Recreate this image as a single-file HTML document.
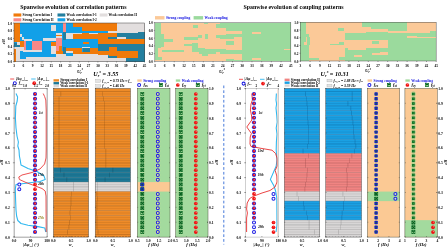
<!DOCTYPE html>
<html lang="en">
<head>
<meta charset="utf-8">
<title>Spanwise evolution of correlation and coupling patterns</title>
<style>
html,body{margin:0;padding:0;background:#fff;}
body{width:448px;height:252px;overflow:hidden;font-family:"Liberation Serif",serif;}
svg{display:block;}
</style>
</head>
<body>
<svg width="448" height="252" viewBox="0 0 448 252">
<rect x="0" y="0" width="448" height="252" fill="#ffffff"/>
<text x="73.30" y="9.20" font-size="5.9" text-anchor="middle" font-weight="bold" font-style="normal" fill="#000" font-family="Liberation Serif, serif" >Spanwise evolution of  correlation patterns</text>
<text x="293.50" y="9.20" font-size="5.9" text-anchor="middle" font-weight="bold" font-style="normal" fill="#000" font-family="Liberation Serif, serif" >Spanwise evolution of coupling patterns</text>
<rect x="13.50" y="13.45" width="7.80" height="3.10" fill="#F07A0A" />
<text x="22.50" y="16.00" font-size="3.4" text-anchor="start" font-weight="bold" font-style="normal" fill="#000" font-family="Liberation Serif, serif" >Strong Correlation I</text>
<rect x="13.50" y="18.25" width="7.80" height="3.10" fill="#F98888" />
<text x="22.50" y="20.80" font-size="3.4" text-anchor="start" font-weight="bold" font-style="normal" fill="#000" font-family="Liberation Serif, serif" >Strong Correlation II</text>
<rect x="57.50" y="13.45" width="7.80" height="3.10" fill="#237F9F" />
<text x="66.50" y="16.00" font-size="3.4" text-anchor="start" font-weight="bold" font-style="normal" fill="#000" font-family="Liberation Serif, serif" >Weak correlation I-1</text>
<rect x="57.50" y="18.25" width="7.80" height="3.10" fill="#12A0E8" />
<text x="66.50" y="20.80" font-size="3.4" text-anchor="start" font-weight="bold" font-style="normal" fill="#000" font-family="Liberation Serif, serif" >Weak correlation I-2</text>
<rect x="99.70" y="13.45" width="7.80" height="3.10" fill="#E2DEDE" />
<text x="108.40" y="16.00" font-size="3.4" text-anchor="start" font-weight="bold" font-style="normal" fill="#000" font-family="Liberation Serif, serif" >Weak correlation II</text>
<g shape-rendering="crispEdges">
<rect x="14.00" y="23.00" width="130.50" height="38.50" fill="#12A0E8" />
<rect x="14.00" y="23.00" width="5.70" height="19.40" fill="#F07A0A" />
<rect x="14.00" y="43.00" width="2.80" height="3.70" fill="#237F9F" />
<rect x="14.00" y="46.70" width="2.80" height="2.70" fill="#E2DEDE" />
<rect x="14.00" y="49.40" width="2.00" height="12.10" fill="#F07A0A" />
<rect x="16.00" y="49.40" width="0.80" height="12.10" fill="#E2DEDE" />
<rect x="16.80" y="42.40" width="2.90" height="2.20" fill="#E2DEDE" />
<rect x="16.80" y="44.60" width="2.90" height="2.40" fill="#237F9F" />
<rect x="16.80" y="47.00" width="2.90" height="14.50" fill="#E2DEDE" />
<rect x="19.70" y="40.80" width="4.10" height="6.50" fill="#F07A0A" />
<rect x="19.70" y="47.30" width="4.10" height="3.20" fill="#E2DEDE" />
<rect x="19.70" y="59.00" width="6.30" height="2.50" fill="#E2DEDE" />
<rect x="20.40" y="34.40" width="1.80" height="2.60" fill="#E2DEDE" />
<rect x="22.20" y="37.00" width="2.10" height="2.80" fill="#E2DEDE" />
<rect x="24.30" y="39.20" width="7.50" height="2.20" fill="#E2DEDE" />
<rect x="23.80" y="41.40" width="2.20" height="8.60" fill="#F98888" />
<rect x="31.80" y="41.40" width="10.20" height="8.60" fill="#F98888" />
<rect x="22.50" y="50.00" width="19.50" height="2.00" fill="#E2DEDE" />
<rect x="26.00" y="57.30" width="24.60" height="4.20" fill="#E2DEDE" />
<rect x="42.50" y="38.10" width="13.50" height="2.70" fill="#E2DEDE" />
<rect x="50.60" y="25.30" width="5.40" height="5.90" fill="#E2DEDE" />
<rect x="50.60" y="42.40" width="5.40" height="3.80" fill="#F07A0A" />
<rect x="50.60" y="46.20" width="5.40" height="7.50" fill="#E2DEDE" />
<rect x="50.60" y="56.80" width="5.40" height="4.70" fill="#E2DEDE" />
<rect x="56.00" y="33.30" width="6.00" height="4.80" fill="#E2DEDE" />
<rect x="56.00" y="35.00" width="6.00" height="1.00" fill="#F07A0A" />
<rect x="56.00" y="38.40" width="6.00" height="12.60" fill="#F98888" />
<rect x="59.30" y="46.00" width="2.70" height="5.00" fill="#F07A0A" />
<rect x="56.00" y="51.00" width="6.60" height="2.70" fill="#F07A0A" />
<rect x="56.00" y="53.70" width="6.60" height="7.80" fill="#E2DEDE" />
<rect x="62.80" y="23.00" width="2.80" height="8.70" fill="#F98888" />
<rect x="62.80" y="31.70" width="2.80" height="7.80" fill="#237F9F" />
<rect x="62.80" y="46.70" width="2.80" height="7.00" fill="#237F9F" />
<rect x="72.80" y="23.00" width="44.20" height="4.40" fill="#F07A0A" />
<rect x="82.40" y="27.40" width="34.60" height="3.20" fill="#F07A0A" />
<rect x="65.80" y="32.60" width="16.60" height="1.80" fill="#E2DEDE" />
<rect x="89.40" y="32.60" width="8.60" height="1.40" fill="#E2DEDE" />
<rect x="107.60" y="31.50" width="9.40" height="1.50" fill="#E2DEDE" />
<rect x="65.80" y="34.40" width="7.00" height="4.30" fill="#E2DEDE" />
<rect x="72.80" y="34.40" width="44.20" height="4.30" fill="#F07A0A" />
<rect x="82.40" y="32.60" width="7.00" height="1.80" fill="#F07A0A" />
<rect x="98.00" y="32.80" width="19.00" height="3.70" fill="#F07A0A" />
<rect x="108.00" y="36.50" width="8.80" height="2.20" fill="#237F9F" />
<rect x="83.00" y="41.90" width="6.40" height="2.50" fill="#F07A0A" />
<rect x="98.00" y="39.00" width="46.50" height="4.60" fill="#F07A0A" />
<rect x="65.80" y="47.80" width="16.60" height="5.30" fill="#F07A0A" />
<rect x="66.30" y="51.00" width="6.50" height="2.30" fill="#E2DEDE" />
<rect x="82.40" y="46.70" width="7.60" height="1.50" fill="#E2DEDE" />
<rect x="83.00" y="48.40" width="7.00" height="3.60" fill="#237F9F" />
<rect x="90.00" y="48.30" width="8.00" height="3.70" fill="#F07A0A" />
<rect x="73.00" y="52.00" width="65.00" height="1.70" fill="#F07A0A" />
<rect x="62.60" y="55.60" width="35.40" height="5.90" fill="#E2DEDE" />
<rect x="72.80" y="53.70" width="25.20" height="7.80" fill="#E2DEDE" />
<rect x="62.60" y="53.70" width="3.20" height="7.80" fill="#E2DEDE" />
<rect x="117.00" y="23.00" width="27.50" height="8.90" fill="#E2DEDE" />
<rect x="108.00" y="31.20" width="30.00" height="2.10" fill="#E2DEDE" />
<rect x="117.00" y="33.30" width="21.00" height="3.20" fill="#237F9F" />
<rect x="138.00" y="32.00" width="6.50" height="7.30" fill="#237F9F" />
<rect x="117.00" y="36.50" width="9.40" height="2.20" fill="#E2DEDE" />
<rect x="126.40" y="36.50" width="11.60" height="2.20" fill="#237F9F" />
<rect x="98.00" y="43.60" width="40.00" height="1.80" fill="#237F9F" />
<rect x="138.00" y="43.60" width="6.50" height="17.90" fill="#237F9F" />
<rect x="98.00" y="45.40" width="40.00" height="5.60" fill="#237F9F" />
<rect x="108.70" y="46.70" width="8.10" height="9.10" fill="#F07A0A" />
<rect x="98.00" y="51.00" width="40.00" height="4.30" fill="#F07A0A" />
<rect x="116.80" y="55.30" width="21.20" height="2.70" fill="#F07A0A" />
<rect x="108.00" y="55.80" width="8.80" height="2.20" fill="#237F9F" />
<rect x="98.00" y="55.30" width="10.00" height="6.20" fill="#E2DEDE" />
<rect x="108.00" y="58.00" width="18.40" height="3.50" fill="#E2DEDE" />
<rect x="126.40" y="58.00" width="18.10" height="3.50" fill="#237F9F" />
</g>
<rect x="14.00" y="23.00" width="130.50" height="38.50" fill="none" stroke="#444" stroke-width="0.5"/>
<line x1="14.00" y1="61.50" x2="14.00" y2="62.50" stroke="#222" stroke-width="0.4" />
<text x="14.00" y="67.20" font-size="3.5" text-anchor="middle" font-weight="bold" font-style="normal" fill="#000" font-family="Liberation Serif, serif" >3</text>
<line x1="23.32" y1="61.50" x2="23.32" y2="62.50" stroke="#222" stroke-width="0.4" />
<text x="23.32" y="67.20" font-size="3.5" text-anchor="middle" font-weight="bold" font-style="normal" fill="#000" font-family="Liberation Serif, serif" >6</text>
<line x1="32.64" y1="61.50" x2="32.64" y2="62.50" stroke="#222" stroke-width="0.4" />
<text x="32.64" y="67.20" font-size="3.5" text-anchor="middle" font-weight="bold" font-style="normal" fill="#000" font-family="Liberation Serif, serif" >9</text>
<line x1="41.96" y1="61.50" x2="41.96" y2="62.50" stroke="#222" stroke-width="0.4" />
<text x="41.96" y="67.20" font-size="3.5" text-anchor="middle" font-weight="bold" font-style="normal" fill="#000" font-family="Liberation Serif, serif" >12</text>
<line x1="51.29" y1="61.50" x2="51.29" y2="62.50" stroke="#222" stroke-width="0.4" />
<text x="51.29" y="67.20" font-size="3.5" text-anchor="middle" font-weight="bold" font-style="normal" fill="#000" font-family="Liberation Serif, serif" >15</text>
<line x1="60.61" y1="61.50" x2="60.61" y2="62.50" stroke="#222" stroke-width="0.4" />
<text x="60.61" y="67.20" font-size="3.5" text-anchor="middle" font-weight="bold" font-style="normal" fill="#000" font-family="Liberation Serif, serif" >18</text>
<line x1="69.93" y1="61.50" x2="69.93" y2="62.50" stroke="#222" stroke-width="0.4" />
<text x="69.93" y="67.20" font-size="3.5" text-anchor="middle" font-weight="bold" font-style="normal" fill="#000" font-family="Liberation Serif, serif" >21</text>
<line x1="79.25" y1="61.50" x2="79.25" y2="62.50" stroke="#222" stroke-width="0.4" />
<text x="79.25" y="67.20" font-size="3.5" text-anchor="middle" font-weight="bold" font-style="normal" fill="#000" font-family="Liberation Serif, serif" >24</text>
<line x1="88.57" y1="61.50" x2="88.57" y2="62.50" stroke="#222" stroke-width="0.4" />
<text x="88.57" y="67.20" font-size="3.5" text-anchor="middle" font-weight="bold" font-style="normal" fill="#000" font-family="Liberation Serif, serif" >27</text>
<line x1="97.89" y1="61.50" x2="97.89" y2="62.50" stroke="#222" stroke-width="0.4" />
<text x="97.89" y="67.20" font-size="3.5" text-anchor="middle" font-weight="bold" font-style="normal" fill="#000" font-family="Liberation Serif, serif" >30</text>
<line x1="107.21" y1="61.50" x2="107.21" y2="62.50" stroke="#222" stroke-width="0.4" />
<text x="107.21" y="67.20" font-size="3.5" text-anchor="middle" font-weight="bold" font-style="normal" fill="#000" font-family="Liberation Serif, serif" >33</text>
<line x1="116.54" y1="61.50" x2="116.54" y2="62.50" stroke="#222" stroke-width="0.4" />
<text x="116.54" y="67.20" font-size="3.5" text-anchor="middle" font-weight="bold" font-style="normal" fill="#000" font-family="Liberation Serif, serif" >36</text>
<line x1="125.86" y1="61.50" x2="125.86" y2="62.50" stroke="#222" stroke-width="0.4" />
<text x="125.86" y="67.20" font-size="3.5" text-anchor="middle" font-weight="bold" font-style="normal" fill="#000" font-family="Liberation Serif, serif" >39</text>
<line x1="135.18" y1="61.50" x2="135.18" y2="62.50" stroke="#222" stroke-width="0.4" />
<text x="135.18" y="67.20" font-size="3.5" text-anchor="middle" font-weight="bold" font-style="normal" fill="#000" font-family="Liberation Serif, serif" >42</text>
<line x1="144.50" y1="61.50" x2="144.50" y2="62.50" stroke="#222" stroke-width="0.4" />
<text x="144.50" y="67.20" font-size="3.5" text-anchor="middle" font-weight="bold" font-style="normal" fill="#000" font-family="Liberation Serif, serif" >45</text>
<line x1="13.00" y1="61.50" x2="14.00" y2="61.50" stroke="#222" stroke-width="0.4" />
<text x="12.10" y="63.00" font-size="3.4" text-anchor="end" font-weight="bold" font-style="normal" fill="#000" font-family="Liberation Serif, serif" >0.0</text>
<line x1="13.00" y1="53.80" x2="14.00" y2="53.80" stroke="#222" stroke-width="0.4" />
<text x="12.10" y="55.30" font-size="3.4" text-anchor="end" font-weight="bold" font-style="normal" fill="#000" font-family="Liberation Serif, serif" >0.2</text>
<line x1="13.00" y1="46.10" x2="14.00" y2="46.10" stroke="#222" stroke-width="0.4" />
<text x="12.10" y="47.60" font-size="3.4" text-anchor="end" font-weight="bold" font-style="normal" fill="#000" font-family="Liberation Serif, serif" >0.4</text>
<line x1="13.00" y1="38.40" x2="14.00" y2="38.40" stroke="#222" stroke-width="0.4" />
<text x="12.10" y="39.90" font-size="3.4" text-anchor="end" font-weight="bold" font-style="normal" fill="#000" font-family="Liberation Serif, serif" >0.6</text>
<line x1="13.00" y1="30.70" x2="14.00" y2="30.70" stroke="#222" stroke-width="0.4" />
<text x="12.10" y="32.20" font-size="3.4" text-anchor="end" font-weight="bold" font-style="normal" fill="#000" font-family="Liberation Serif, serif" >0.8</text>
<line x1="13.00" y1="23.00" x2="14.00" y2="23.00" stroke="#222" stroke-width="0.4" />
<text x="12.10" y="24.50" font-size="3.4" text-anchor="end" font-weight="bold" font-style="normal" fill="#000" font-family="Liberation Serif, serif" >1.0</text>
<text x="80.00" y="72.90" font-size="4.9" text-anchor="middle" font-weight="bold" font-style="italic" fill="#000" font-family="Liberation Serif, serif" >U<tspan font-size="3.0" dy="1.0">r</tspan><tspan font-size="3.0" dy="-2.7">*</tspan></text>
<text transform="translate(4.60,41.75) rotate(-90)" font-size="3.6" font-weight="bold" font-style="italic" text-anchor="middle" font-family="Liberation Serif, serif">z/H</text>
<rect x="155.00" y="16.10" width="9.50" height="3.40" fill="#FBC998" />
<text x="166.00" y="19.00" font-size="3.6" text-anchor="start" font-weight="bold" font-style="normal" fill="#1010E0" font-family="Liberation Serif, serif" >Strong coupling</text>
<rect x="193.60" y="16.10" width="9.50" height="3.40" fill="#9BDA9D" />
<text x="204.60" y="19.00" font-size="3.6" text-anchor="start" font-weight="bold" font-style="normal" fill="#1010E0" font-family="Liberation Serif, serif" >Weak coupling</text>
<g shape-rendering="crispEdges">
<rect x="154.80" y="22.70" width="136.00" height="38.60" fill="#FBC998" />
<rect x="154.60" y="22.70" width="6.20" height="24.80" fill="#9BDA9D" />
<rect x="160.80" y="33.90" width="3.20" height="12.80" fill="#9BDA9D" />
<rect x="164.00" y="38.70" width="9.00" height="3.20" fill="#9BDA9D" />
<rect x="154.60" y="47.50" width="3.80" height="12.10" fill="#9BDA9D" />
<rect x="158.40" y="57.20" width="3.20" height="2.40" fill="#9BDA9D" />
<rect x="161.60" y="50.00" width="22.40" height="2.40" fill="#9BDA9D" />
<rect x="184.00" y="37.00" width="14.00" height="3.30" fill="#9BDA9D" />
<rect x="198.00" y="34.70" width="4.00" height="3.20" fill="#9BDA9D" />
<rect x="205.00" y="33.90" width="3.30" height="4.80" fill="#9BDA9D" />
<rect x="184.00" y="43.50" width="8.00" height="2.50" fill="#9BDA9D" />
<rect x="192.00" y="42.70" width="6.00" height="9.70" fill="#9BDA9D" />
<rect x="193.00" y="25.00" width="5.00" height="2.80" fill="#9BDA9D" />
<rect x="203.50" y="22.70" width="4.80" height="1.50" fill="#9BDA9D" />
<rect x="216.30" y="24.20" width="9.70" height="4.00" fill="#9BDA9D" />
<rect x="216.30" y="35.10" width="9.70" height="3.30" fill="#9BDA9D" />
<rect x="198.00" y="48.30" width="7.00" height="3.20" fill="#9BDA9D" />
<rect x="205.00" y="49.10" width="21.00" height="3.30" fill="#9BDA9D" />
<rect x="198.60" y="52.40" width="17.70" height="1.80" fill="#9BDA9D" />
<rect x="201.80" y="54.00" width="6.50" height="2.40" fill="#9BDA9D" />
<rect x="225.60" y="22.70" width="65.20" height="38.60" fill="#9BDA9D" />
<rect x="220.00" y="22.70" width="5.60" height="5.50" fill="#9BDA9D" />
<rect x="220.00" y="34.70" width="5.60" height="4.00" fill="#9BDA9D" />
<rect x="220.00" y="50.00" width="5.60" height="4.00" fill="#9BDA9D" />
<rect x="225.60" y="31.00" width="16.10" height="2.90" fill="#FBC998" />
<rect x="252.00" y="31.50" width="9.00" height="2.00" fill="#FBC998" />
<rect x="233.70" y="37.00" width="8.00" height="13.00" fill="#FBC998" />
<rect x="225.60" y="38.70" width="8.10" height="2.30" fill="#FBC998" />
<rect x="225.60" y="45.00" width="8.10" height="5.00" fill="#FBC998" />
<rect x="225.60" y="38.70" width="0.60" height="11.30" fill="#FBC998" />
<rect x="225.60" y="54.00" width="16.10" height="5.60" fill="#FBC998" />
<rect x="252.00" y="58.00" width="9.00" height="2.40" fill="#FBC998" />
<rect x="283.50" y="48.70" width="7.30" height="1.60" fill="#FBC998" />
<rect x="225.60" y="59.00" width="8.10" height="1.00" fill="#9BDA9D" />
</g>
<rect x="154.80" y="22.70" width="136.00" height="38.60" fill="none" stroke="#555" stroke-width="0.5"/>
<line x1="154.80" y1="61.30" x2="154.80" y2="62.30" stroke="#222" stroke-width="0.4" />
<text x="154.80" y="67.00" font-size="3.5" text-anchor="middle" font-weight="bold" font-style="normal" fill="#000" font-family="Liberation Serif, serif" >3</text>
<line x1="164.51" y1="61.30" x2="164.51" y2="62.30" stroke="#222" stroke-width="0.4" />
<text x="164.51" y="67.00" font-size="3.5" text-anchor="middle" font-weight="bold" font-style="normal" fill="#000" font-family="Liberation Serif, serif" >6</text>
<line x1="174.23" y1="61.30" x2="174.23" y2="62.30" stroke="#222" stroke-width="0.4" />
<text x="174.23" y="67.00" font-size="3.5" text-anchor="middle" font-weight="bold" font-style="normal" fill="#000" font-family="Liberation Serif, serif" >9</text>
<line x1="183.94" y1="61.30" x2="183.94" y2="62.30" stroke="#222" stroke-width="0.4" />
<text x="183.94" y="67.00" font-size="3.5" text-anchor="middle" font-weight="bold" font-style="normal" fill="#000" font-family="Liberation Serif, serif" >12</text>
<line x1="193.66" y1="61.30" x2="193.66" y2="62.30" stroke="#222" stroke-width="0.4" />
<text x="193.66" y="67.00" font-size="3.5" text-anchor="middle" font-weight="bold" font-style="normal" fill="#000" font-family="Liberation Serif, serif" >15</text>
<line x1="203.37" y1="61.30" x2="203.37" y2="62.30" stroke="#222" stroke-width="0.4" />
<text x="203.37" y="67.00" font-size="3.5" text-anchor="middle" font-weight="bold" font-style="normal" fill="#000" font-family="Liberation Serif, serif" >18</text>
<line x1="213.09" y1="61.30" x2="213.09" y2="62.30" stroke="#222" stroke-width="0.4" />
<text x="213.09" y="67.00" font-size="3.5" text-anchor="middle" font-weight="bold" font-style="normal" fill="#000" font-family="Liberation Serif, serif" >21</text>
<line x1="222.80" y1="61.30" x2="222.80" y2="62.30" stroke="#222" stroke-width="0.4" />
<text x="222.80" y="67.00" font-size="3.5" text-anchor="middle" font-weight="bold" font-style="normal" fill="#000" font-family="Liberation Serif, serif" >24</text>
<line x1="232.51" y1="61.30" x2="232.51" y2="62.30" stroke="#222" stroke-width="0.4" />
<text x="232.51" y="67.00" font-size="3.5" text-anchor="middle" font-weight="bold" font-style="normal" fill="#000" font-family="Liberation Serif, serif" >27</text>
<line x1="242.23" y1="61.30" x2="242.23" y2="62.30" stroke="#222" stroke-width="0.4" />
<text x="242.23" y="67.00" font-size="3.5" text-anchor="middle" font-weight="bold" font-style="normal" fill="#000" font-family="Liberation Serif, serif" >30</text>
<line x1="251.94" y1="61.30" x2="251.94" y2="62.30" stroke="#222" stroke-width="0.4" />
<text x="251.94" y="67.00" font-size="3.5" text-anchor="middle" font-weight="bold" font-style="normal" fill="#000" font-family="Liberation Serif, serif" >33</text>
<line x1="261.66" y1="61.30" x2="261.66" y2="62.30" stroke="#222" stroke-width="0.4" />
<text x="261.66" y="67.00" font-size="3.5" text-anchor="middle" font-weight="bold" font-style="normal" fill="#000" font-family="Liberation Serif, serif" >36</text>
<line x1="271.37" y1="61.30" x2="271.37" y2="62.30" stroke="#222" stroke-width="0.4" />
<text x="271.37" y="67.00" font-size="3.5" text-anchor="middle" font-weight="bold" font-style="normal" fill="#000" font-family="Liberation Serif, serif" >39</text>
<line x1="281.09" y1="61.30" x2="281.09" y2="62.30" stroke="#222" stroke-width="0.4" />
<text x="281.09" y="67.00" font-size="3.5" text-anchor="middle" font-weight="bold" font-style="normal" fill="#000" font-family="Liberation Serif, serif" >42</text>
<line x1="290.80" y1="61.30" x2="290.80" y2="62.30" stroke="#222" stroke-width="0.4" />
<text x="290.80" y="67.00" font-size="3.5" text-anchor="middle" font-weight="bold" font-style="normal" fill="#000" font-family="Liberation Serif, serif" >45</text>
<line x1="153.80" y1="61.30" x2="154.80" y2="61.30" stroke="#222" stroke-width="0.4" />
<text x="152.90" y="62.80" font-size="3.4" text-anchor="end" font-weight="bold" font-style="normal" fill="#000" font-family="Liberation Serif, serif" >0.0</text>
<line x1="153.80" y1="53.58" x2="154.80" y2="53.58" stroke="#222" stroke-width="0.4" />
<text x="152.90" y="55.08" font-size="3.4" text-anchor="end" font-weight="bold" font-style="normal" fill="#000" font-family="Liberation Serif, serif" >0.2</text>
<line x1="153.80" y1="45.86" x2="154.80" y2="45.86" stroke="#222" stroke-width="0.4" />
<text x="152.90" y="47.36" font-size="3.4" text-anchor="end" font-weight="bold" font-style="normal" fill="#000" font-family="Liberation Serif, serif" >0.4</text>
<line x1="153.80" y1="38.14" x2="154.80" y2="38.14" stroke="#222" stroke-width="0.4" />
<text x="152.90" y="39.64" font-size="3.4" text-anchor="end" font-weight="bold" font-style="normal" fill="#000" font-family="Liberation Serif, serif" >0.6</text>
<line x1="153.80" y1="30.42" x2="154.80" y2="30.42" stroke="#222" stroke-width="0.4" />
<text x="152.90" y="31.92" font-size="3.4" text-anchor="end" font-weight="bold" font-style="normal" fill="#000" font-family="Liberation Serif, serif" >0.8</text>
<line x1="153.80" y1="22.70" x2="154.80" y2="22.70" stroke="#222" stroke-width="0.4" />
<text x="152.90" y="24.20" font-size="3.4" text-anchor="end" font-weight="bold" font-style="normal" fill="#000" font-family="Liberation Serif, serif" >1.0</text>
<text x="222.00" y="72.70" font-size="4.9" text-anchor="middle" font-weight="bold" font-style="italic" fill="#000" font-family="Liberation Serif, serif" >U<tspan font-size="3.0" dy="1.0">r</tspan><tspan font-size="3.0" dy="-2.7">*</tspan></text>
<g shape-rendering="crispEdges">
<rect x="300.40" y="22.30" width="135.80" height="38.70" fill="#FBC998" />
<rect x="300.40" y="22.30" width="5.60" height="38.70" fill="#9BDA9D" />
<rect x="306.00" y="34.00" width="2.50" height="3.00" fill="#9BDA9D" />
<rect x="306.80" y="37.00" width="3.20" height="8.00" fill="#9BDA9D" />
<rect x="306.00" y="45.00" width="3.30" height="16.00" fill="#9BDA9D" />
<rect x="309.30" y="57.70" width="9.70" height="2.10" fill="#9BDA9D" />
<rect x="338.20" y="28.20" width="5.60" height="2.40" fill="#9BDA9D" />
<rect x="330.00" y="43.50" width="13.80" height="1.90" fill="#9BDA9D" />
<rect x="339.00" y="42.00" width="4.80" height="3.40" fill="#9BDA9D" />
<rect x="344.60" y="33.00" width="25.40" height="6.50" fill="#9BDA9D" />
<rect x="362.00" y="22.30" width="8.00" height="4.30" fill="#9BDA9D" />
<rect x="344.60" y="47.50" width="3.40" height="2.10" fill="#9BDA9D" />
<rect x="344.60" y="49.60" width="25.40" height="11.40" fill="#9BDA9D" />
<rect x="339.00" y="56.70" width="5.60" height="3.10" fill="#9BDA9D" />
<rect x="366.00" y="22.30" width="70.20" height="38.70" fill="#9BDA9D" />
<rect x="354.00" y="55.00" width="7.50" height="2.20" fill="#FBC998" />
<rect x="366.00" y="26.60" width="4.80" height="4.90" fill="#FBC998" />
<rect x="366.00" y="29.40" width="21.70" height="2.60" fill="#FBC998" />
<rect x="387.70" y="31.00" width="10.30" height="2.00" fill="#FBC998" />
<rect x="398.00" y="31.40" width="9.00" height="1.20" fill="#FBC998" />
<rect x="407.00" y="22.30" width="29.20" height="10.70" fill="#FBC998" />
<rect x="407.00" y="35.80" width="10.40" height="2.10" fill="#FBC998" />
<rect x="417.40" y="36.60" width="18.80" height="1.80" fill="#FBC998" />
<rect x="366.00" y="39.50" width="21.70" height="8.00" fill="#FBC998" />
<rect x="371.60" y="53.20" width="16.10" height="1.60" fill="#FBC998" />
<rect x="379.60" y="52.40" width="8.10" height="2.40" fill="#FBC998" />
<rect x="430.00" y="31.40" width="6.20" height="1.60" fill="#9BDA9D" />
<rect x="371.60" y="41.00" width="7.30" height="3.30" fill="#9BDA9D" />
<rect x="303.50" y="42.00" width="2.50" height="2.80" fill="#FBC998" />
</g>
<rect x="300.40" y="22.30" width="135.80" height="38.70" fill="none" stroke="#555" stroke-width="0.5"/>
<line x1="300.40" y1="61.00" x2="300.40" y2="62.00" stroke="#222" stroke-width="0.4" />
<text x="300.40" y="66.70" font-size="3.5" text-anchor="middle" font-weight="bold" font-style="normal" fill="#000" font-family="Liberation Serif, serif" >3</text>
<line x1="310.10" y1="61.00" x2="310.10" y2="62.00" stroke="#222" stroke-width="0.4" />
<text x="310.10" y="66.70" font-size="3.5" text-anchor="middle" font-weight="bold" font-style="normal" fill="#000" font-family="Liberation Serif, serif" >6</text>
<line x1="319.80" y1="61.00" x2="319.80" y2="62.00" stroke="#222" stroke-width="0.4" />
<text x="319.80" y="66.70" font-size="3.5" text-anchor="middle" font-weight="bold" font-style="normal" fill="#000" font-family="Liberation Serif, serif" >9</text>
<line x1="329.50" y1="61.00" x2="329.50" y2="62.00" stroke="#222" stroke-width="0.4" />
<text x="329.50" y="66.70" font-size="3.5" text-anchor="middle" font-weight="bold" font-style="normal" fill="#000" font-family="Liberation Serif, serif" >12</text>
<line x1="339.20" y1="61.00" x2="339.20" y2="62.00" stroke="#222" stroke-width="0.4" />
<text x="339.20" y="66.70" font-size="3.5" text-anchor="middle" font-weight="bold" font-style="normal" fill="#000" font-family="Liberation Serif, serif" >15</text>
<line x1="348.90" y1="61.00" x2="348.90" y2="62.00" stroke="#222" stroke-width="0.4" />
<text x="348.90" y="66.70" font-size="3.5" text-anchor="middle" font-weight="bold" font-style="normal" fill="#000" font-family="Liberation Serif, serif" >18</text>
<line x1="358.60" y1="61.00" x2="358.60" y2="62.00" stroke="#222" stroke-width="0.4" />
<text x="358.60" y="66.70" font-size="3.5" text-anchor="middle" font-weight="bold" font-style="normal" fill="#000" font-family="Liberation Serif, serif" >21</text>
<line x1="368.30" y1="61.00" x2="368.30" y2="62.00" stroke="#222" stroke-width="0.4" />
<text x="368.30" y="66.70" font-size="3.5" text-anchor="middle" font-weight="bold" font-style="normal" fill="#000" font-family="Liberation Serif, serif" >24</text>
<line x1="378.00" y1="61.00" x2="378.00" y2="62.00" stroke="#222" stroke-width="0.4" />
<text x="378.00" y="66.70" font-size="3.5" text-anchor="middle" font-weight="bold" font-style="normal" fill="#000" font-family="Liberation Serif, serif" >27</text>
<line x1="387.70" y1="61.00" x2="387.70" y2="62.00" stroke="#222" stroke-width="0.4" />
<text x="387.70" y="66.70" font-size="3.5" text-anchor="middle" font-weight="bold" font-style="normal" fill="#000" font-family="Liberation Serif, serif" >30</text>
<line x1="397.40" y1="61.00" x2="397.40" y2="62.00" stroke="#222" stroke-width="0.4" />
<text x="397.40" y="66.70" font-size="3.5" text-anchor="middle" font-weight="bold" font-style="normal" fill="#000" font-family="Liberation Serif, serif" >33</text>
<line x1="407.10" y1="61.00" x2="407.10" y2="62.00" stroke="#222" stroke-width="0.4" />
<text x="407.10" y="66.70" font-size="3.5" text-anchor="middle" font-weight="bold" font-style="normal" fill="#000" font-family="Liberation Serif, serif" >36</text>
<line x1="416.80" y1="61.00" x2="416.80" y2="62.00" stroke="#222" stroke-width="0.4" />
<text x="416.80" y="66.70" font-size="3.5" text-anchor="middle" font-weight="bold" font-style="normal" fill="#000" font-family="Liberation Serif, serif" >39</text>
<line x1="426.50" y1="61.00" x2="426.50" y2="62.00" stroke="#222" stroke-width="0.4" />
<text x="426.50" y="66.70" font-size="3.5" text-anchor="middle" font-weight="bold" font-style="normal" fill="#000" font-family="Liberation Serif, serif" >42</text>
<line x1="436.20" y1="61.00" x2="436.20" y2="62.00" stroke="#222" stroke-width="0.4" />
<text x="436.20" y="66.70" font-size="3.5" text-anchor="middle" font-weight="bold" font-style="normal" fill="#000" font-family="Liberation Serif, serif" >45</text>
<line x1="299.40" y1="61.00" x2="300.40" y2="61.00" stroke="#222" stroke-width="0.4" />
<text x="298.50" y="62.50" font-size="3.4" text-anchor="end" font-weight="bold" font-style="normal" fill="#000" font-family="Liberation Serif, serif" >0.0</text>
<line x1="299.40" y1="53.26" x2="300.40" y2="53.26" stroke="#222" stroke-width="0.4" />
<text x="298.50" y="54.76" font-size="3.4" text-anchor="end" font-weight="bold" font-style="normal" fill="#000" font-family="Liberation Serif, serif" >0.2</text>
<line x1="299.40" y1="45.52" x2="300.40" y2="45.52" stroke="#222" stroke-width="0.4" />
<text x="298.50" y="47.02" font-size="3.4" text-anchor="end" font-weight="bold" font-style="normal" fill="#000" font-family="Liberation Serif, serif" >0.4</text>
<line x1="299.40" y1="37.78" x2="300.40" y2="37.78" stroke="#222" stroke-width="0.4" />
<text x="298.50" y="39.28" font-size="3.4" text-anchor="end" font-weight="bold" font-style="normal" fill="#000" font-family="Liberation Serif, serif" >0.6</text>
<line x1="299.40" y1="30.04" x2="300.40" y2="30.04" stroke="#222" stroke-width="0.4" />
<text x="298.50" y="31.54" font-size="3.4" text-anchor="end" font-weight="bold" font-style="normal" fill="#000" font-family="Liberation Serif, serif" >0.8</text>
<line x1="299.40" y1="22.30" x2="300.40" y2="22.30" stroke="#222" stroke-width="0.4" />
<text x="298.50" y="23.80" font-size="3.4" text-anchor="end" font-weight="bold" font-style="normal" fill="#000" font-family="Liberation Serif, serif" >1.0</text>
<text x="368.00" y="72.40" font-size="4.9" text-anchor="middle" font-weight="bold" font-style="italic" fill="#000" font-family="Liberation Serif, serif" >U<tspan font-size="3.0" dy="1.0">r</tspan><tspan font-size="3.0" dy="-2.7">*</tspan></text>
<text x="93.20" y="75.80" font-size="6.15" text-anchor="start" font-weight="bold" font-style="italic" fill="#000" font-family="Liberation Serif, serif" >U<tspan font-size="3.8" dy="1.0">r</tspan><tspan font-size="3.8" dy="-2.9">*</tspan><tspan dy="1.9"> = 3.55</tspan></text>
<text x="320.50" y="75.60" font-size="6.15" text-anchor="start" font-weight="bold" font-style="italic" fill="#000" font-family="Liberation Serif, serif" >U<tspan font-size="3.8" dy="1.0">r</tspan><tspan font-size="3.8" dy="-2.9">*</tspan><tspan dy="1.9"> = 10.31</tspan></text>
<rect x="14.10" y="88.40" width="33.00" height="148.70" fill="#fff" />
<line x1="10.20" y1="79.00" x2="14.20" y2="79.00" stroke="#F04040" stroke-width="0.9" />
<text x="15.70" y="80.00" font-size="4.1" text-anchor="start" font-weight="bold" font-style="italic" fill="#000" font-family="Liberation Serif, serif" >|Δφ<tspan font-size="2.8" dy="0.7">xy</tspan><tspan dy="-0.7">|</tspan><tspan font-size="2.8" dy="0.9">f<tspan font-size="2.2">ex</tspan></tspan></text>
<line x1="31.20" y1="79.00" x2="35.70" y2="79.00" stroke="#30B8F0" stroke-width="0.9" />
<text x="37.20" y="80.00" font-size="4.1" text-anchor="start" font-weight="bold" font-style="italic" fill="#000" font-family="Liberation Serif, serif" >|Δφ<tspan font-size="2.8" dy="0.7">xy</tspan><tspan dy="-0.7">|</tspan><tspan font-size="2.8" dy="0.9">f<tspan font-size="2.2">ey</tspan></tspan></text>
<circle cx="14.80" cy="83.20" r="1.5" fill="#fff" stroke="#2020E4" stroke-width="1.05"/>
<text x="18.80" y="84.20" font-size="4.1" text-anchor="start" font-weight="bold" font-style="italic" fill="#000" font-family="Liberation Serif, serif" >f<tspan font-size="2.7" dy="0.8">ex</tspan></text>
<circle cx="34.20" cy="83.20" r="1.85" fill="#F01414"/><circle cx="34.60" cy="82.70" r="0.5" fill="#FF9C90"/>
<text x="38.80" y="84.20" font-size="4.1" text-anchor="start" font-weight="bold" font-style="italic" fill="#000" font-family="Liberation Serif, serif" >f<tspan font-size="2.7" dy="0.8">ey</tspan></text>
<polyline points="16.00,93.50 17.60,97.00 17.20,101.00 15.80,106.00 15.40,118.00 16.00,128.00 17.00,136.00 18.40,142.00 17.80,146.00 19.00,150.00 19.40,156.00 20.20,160.00 21.00,165.00 28.00,168.50 37.00,171.50 44.00,176.00 45.20,179.40 40.00,181.50 28.00,183.00 16.00,184.50 15.30,189.00 15.60,200.00 16.00,210.00 16.60,216.00 17.80,220.50 21.00,223.50 28.00,225.20 38.00,226.60 44.80,228.00 45.80,232.00" fill="none" stroke="#30B8F0" stroke-width="1.1" stroke-linejoin="round"/>
<polyline points="43.20,93.50 44.60,96.50 45.80,100.00 46.20,110.00 46.20,150.00 46.00,158.00 44.60,164.00 40.00,169.00 32.00,172.50 22.00,175.00 18.80,177.00 19.40,179.50 26.00,182.50 34.00,185.50 42.00,188.50 45.20,191.00 46.00,196.00 46.20,232.00" fill="none" stroke="#E83030" stroke-width="0.85" stroke-linejoin="round"/>
<circle cx="35.00" cy="94.00" r="2.05" fill="#2A1FD0"/><circle cx="35.00" cy="94.00" r="1.2" fill="#F01818"/><circle cx="35.35" cy="93.70" r="0.4" fill="#FFB8A8"/>
<circle cx="35.00" cy="98.76" r="2.05" fill="#2A1FD0"/><circle cx="35.00" cy="98.76" r="1.2" fill="#F01818"/><circle cx="35.35" cy="98.46" r="0.4" fill="#FFB8A8"/>
<circle cx="35.00" cy="103.52" r="2.05" fill="#2A1FD0"/><circle cx="35.00" cy="103.52" r="1.2" fill="#F01818"/><circle cx="35.35" cy="103.22" r="0.4" fill="#FFB8A8"/>
<circle cx="35.00" cy="108.28" r="2.05" fill="#2A1FD0"/><circle cx="35.00" cy="108.28" r="1.2" fill="#F01818"/><circle cx="35.35" cy="107.98" r="0.4" fill="#FFB8A8"/>
<circle cx="35.00" cy="113.04" r="2.05" fill="#2A1FD0"/><circle cx="35.00" cy="113.04" r="1.2" fill="#F01818"/><circle cx="35.35" cy="112.74" r="0.4" fill="#FFB8A8"/>
<circle cx="35.00" cy="117.80" r="2.05" fill="#2A1FD0"/><circle cx="35.00" cy="117.80" r="1.2" fill="#F01818"/><circle cx="35.35" cy="117.50" r="0.4" fill="#FFB8A8"/>
<circle cx="35.00" cy="122.56" r="2.05" fill="#2A1FD0"/><circle cx="35.00" cy="122.56" r="1.2" fill="#F01818"/><circle cx="35.35" cy="122.26" r="0.4" fill="#FFB8A8"/>
<circle cx="35.00" cy="127.32" r="2.05" fill="#2A1FD0"/><circle cx="35.00" cy="127.32" r="1.2" fill="#F01818"/><circle cx="35.35" cy="127.02" r="0.4" fill="#FFB8A8"/>
<circle cx="35.00" cy="132.08" r="2.05" fill="#2A1FD0"/><circle cx="35.00" cy="132.08" r="1.2" fill="#F01818"/><circle cx="35.35" cy="131.78" r="0.4" fill="#FFB8A8"/>
<circle cx="35.00" cy="136.84" r="2.05" fill="#2A1FD0"/><circle cx="35.00" cy="136.84" r="1.2" fill="#F01818"/><circle cx="35.35" cy="136.54" r="0.4" fill="#FFB8A8"/>
<circle cx="35.00" cy="141.60" r="2.05" fill="#2A1FD0"/><circle cx="35.00" cy="141.60" r="1.2" fill="#F01818"/><circle cx="35.35" cy="141.30" r="0.4" fill="#FFB8A8"/>
<circle cx="35.00" cy="146.36" r="2.05" fill="#2A1FD0"/><circle cx="35.00" cy="146.36" r="1.2" fill="#F01818"/><circle cx="35.35" cy="146.06" r="0.4" fill="#FFB8A8"/>
<circle cx="35.00" cy="151.12" r="2.05" fill="#2A1FD0"/><circle cx="35.00" cy="151.12" r="1.2" fill="#F01818"/><circle cx="35.35" cy="150.82" r="0.4" fill="#FFB8A8"/>
<circle cx="35.00" cy="155.88" r="2.05" fill="#2A1FD0"/><circle cx="35.00" cy="155.88" r="1.2" fill="#F01818"/><circle cx="35.35" cy="155.58" r="0.4" fill="#FFB8A8"/>
<circle cx="35.00" cy="160.64" r="2.05" fill="#2A1FD0"/><circle cx="35.00" cy="160.64" r="1.2" fill="#F01818"/><circle cx="35.35" cy="160.34" r="0.4" fill="#FFB8A8"/>
<circle cx="35.00" cy="165.40" r="2.05" fill="#2A1FD0"/><circle cx="35.00" cy="165.40" r="1.2" fill="#F01818"/><circle cx="35.35" cy="165.10" r="0.4" fill="#FFB8A8"/>
<circle cx="35.00" cy="170.16" r="2.05" fill="#2A1FD0"/><circle cx="35.00" cy="170.16" r="1.2" fill="#F01818"/><circle cx="35.35" cy="169.86" r="0.4" fill="#FFB8A8"/>
<circle cx="35.00" cy="174.92" r="2.05" fill="#2A1FD0"/><circle cx="35.00" cy="174.92" r="1.2" fill="#F01818"/><circle cx="35.35" cy="174.62" r="0.4" fill="#FFB8A8"/>
<circle cx="35.00" cy="179.68" r="2.05" fill="#2A1FD0"/><circle cx="35.00" cy="179.68" r="1.2" fill="#F01818"/><circle cx="35.35" cy="179.38" r="0.4" fill="#FFB8A8"/>
<circle cx="19.30" cy="184.44" r="1.5" fill="#fff" stroke="#2020E4" stroke-width="1.05"/>
<circle cx="35.00" cy="184.44" r="1.85" fill="#F01414"/><circle cx="35.40" cy="183.94" r="0.5" fill="#FF9C90"/>
<circle cx="19.30" cy="189.20" r="1.5" fill="#fff" stroke="#2020E4" stroke-width="1.05"/>
<circle cx="35.00" cy="189.20" r="1.85" fill="#F01414"/><circle cx="35.40" cy="188.70" r="0.5" fill="#FF9C90"/>
<circle cx="35.00" cy="193.96" r="2.05" fill="#2A1FD0"/><circle cx="35.00" cy="193.96" r="1.2" fill="#F01818"/><circle cx="35.35" cy="193.66" r="0.4" fill="#FFB8A8"/>
<circle cx="35.00" cy="198.72" r="2.05" fill="#2A1FD0"/><circle cx="35.00" cy="198.72" r="1.2" fill="#F01818"/><circle cx="35.35" cy="198.42" r="0.4" fill="#FFB8A8"/>
<circle cx="35.00" cy="203.48" r="2.05" fill="#2A1FD0"/><circle cx="35.00" cy="203.48" r="1.2" fill="#F01818"/><circle cx="35.35" cy="203.18" r="0.4" fill="#FFB8A8"/>
<circle cx="35.00" cy="208.24" r="2.05" fill="#2A1FD0"/><circle cx="35.00" cy="208.24" r="1.2" fill="#F01818"/><circle cx="35.35" cy="207.94" r="0.4" fill="#FFB8A8"/>
<circle cx="35.00" cy="213.00" r="2.05" fill="#2A1FD0"/><circle cx="35.00" cy="213.00" r="1.2" fill="#F01818"/><circle cx="35.35" cy="212.70" r="0.4" fill="#FFB8A8"/>
<circle cx="35.00" cy="217.76" r="2.05" fill="#2A1FD0"/><circle cx="35.00" cy="217.76" r="1.2" fill="#F01818"/><circle cx="35.35" cy="217.46" r="0.4" fill="#FFB8A8"/>
<circle cx="35.00" cy="222.52" r="2.05" fill="#2A1FD0"/><circle cx="35.00" cy="222.52" r="1.2" fill="#F01818"/><circle cx="35.35" cy="222.22" r="0.4" fill="#FFB8A8"/>
<circle cx="35.00" cy="227.28" r="2.05" fill="#2A1FD0"/><circle cx="35.00" cy="227.28" r="1.2" fill="#F01818"/><circle cx="35.35" cy="226.98" r="0.4" fill="#FFB8A8"/>
<circle cx="35.00" cy="232.04" r="2.05" fill="#2A1FD0"/><circle cx="35.00" cy="232.04" r="1.2" fill="#F01818"/><circle cx="35.35" cy="231.74" r="0.4" fill="#FFB8A8"/>
<text x="40.80" y="113.60" font-size="3.1" text-anchor="middle" font-weight="bold" font-style="italic" fill="#000" font-family="Liberation Serif, serif" >1st</text>
<text x="40.80" y="175.50" font-size="3.1" text-anchor="middle" font-weight="bold" font-style="italic" fill="#000" font-family="Liberation Serif, serif" >17th</text>
<text x="41.00" y="185.00" font-size="3.1" text-anchor="middle" font-weight="bold" font-style="italic" fill="#000" font-family="Liberation Serif, serif" >20th</text>
<text x="40.80" y="218.70" font-size="3.1" text-anchor="middle" font-weight="bold" font-style="italic" fill="#8A7A10" font-family="Liberation Serif, serif" >27th</text>
<rect x="14.10" y="88.40" width="33.00" height="148.70" fill="none" stroke="#555" stroke-width="0.55"/>
<line x1="12.90" y1="237.10" x2="14.70" y2="237.10" stroke="#222" stroke-width="0.4" />
<text x="9.70" y="238.65" font-size="3.6" text-anchor="end" font-weight="bold" font-style="normal" fill="#000" font-family="Liberation Serif, serif" >0.0</text>
<line x1="12.90" y1="222.23" x2="14.70" y2="222.23" stroke="#222" stroke-width="0.4" />
<text x="9.70" y="223.78" font-size="3.6" text-anchor="end" font-weight="bold" font-style="normal" fill="#000" font-family="Liberation Serif, serif" >0.1</text>
<line x1="12.90" y1="207.36" x2="14.70" y2="207.36" stroke="#222" stroke-width="0.4" />
<text x="9.70" y="208.91" font-size="3.6" text-anchor="end" font-weight="bold" font-style="normal" fill="#000" font-family="Liberation Serif, serif" >0.2</text>
<line x1="12.90" y1="192.49" x2="14.70" y2="192.49" stroke="#222" stroke-width="0.4" />
<text x="9.70" y="194.04" font-size="3.6" text-anchor="end" font-weight="bold" font-style="normal" fill="#000" font-family="Liberation Serif, serif" >0.3</text>
<line x1="12.90" y1="177.62" x2="14.70" y2="177.62" stroke="#222" stroke-width="0.4" />
<text x="9.70" y="179.17" font-size="3.6" text-anchor="end" font-weight="bold" font-style="normal" fill="#000" font-family="Liberation Serif, serif" >0.4</text>
<line x1="12.90" y1="162.75" x2="14.70" y2="162.75" stroke="#222" stroke-width="0.4" />
<text x="9.70" y="164.30" font-size="3.6" text-anchor="end" font-weight="bold" font-style="normal" fill="#000" font-family="Liberation Serif, serif" >0.5</text>
<line x1="12.90" y1="147.88" x2="14.70" y2="147.88" stroke="#222" stroke-width="0.4" />
<text x="9.70" y="149.43" font-size="3.6" text-anchor="end" font-weight="bold" font-style="normal" fill="#000" font-family="Liberation Serif, serif" >0.6</text>
<line x1="12.90" y1="133.01" x2="14.70" y2="133.01" stroke="#222" stroke-width="0.4" />
<text x="9.70" y="134.56" font-size="3.6" text-anchor="end" font-weight="bold" font-style="normal" fill="#000" font-family="Liberation Serif, serif" >0.7</text>
<line x1="12.90" y1="118.14" x2="14.70" y2="118.14" stroke="#222" stroke-width="0.4" />
<text x="9.70" y="119.69" font-size="3.6" text-anchor="end" font-weight="bold" font-style="normal" fill="#000" font-family="Liberation Serif, serif" >0.8</text>
<line x1="12.90" y1="103.27" x2="14.70" y2="103.27" stroke="#222" stroke-width="0.4" />
<text x="9.70" y="104.82" font-size="3.6" text-anchor="end" font-weight="bold" font-style="normal" fill="#000" font-family="Liberation Serif, serif" >0.9</text>
<line x1="12.90" y1="88.40" x2="14.70" y2="88.40" stroke="#222" stroke-width="0.4" />
<text x="9.70" y="89.95" font-size="3.6" text-anchor="end" font-weight="bold" font-style="normal" fill="#000" font-family="Liberation Serif, serif" >1.0</text>
<text transform="translate(3.20,162.2) rotate(-90)" font-size="3.6" font-weight="bold" font-style="italic" text-anchor="middle" font-family="Liberation Serif, serif">z/H</text>
<line x1="14.10" y1="88.40" x2="14.10" y2="89.40" stroke="#222" stroke-width="0.4" />
<text x="14.10" y="87.10" font-size="3.3" text-anchor="middle" font-weight="bold" font-style="normal" fill="#000" font-family="Liberation Serif, serif" >0.5</text>
<line x1="25.10" y1="88.40" x2="25.10" y2="89.40" stroke="#222" stroke-width="0.4" />
<text x="25.10" y="87.10" font-size="3.3" text-anchor="middle" font-weight="bold" font-style="normal" fill="#000" font-family="Liberation Serif, serif" >1.0</text>
<line x1="36.10" y1="88.40" x2="36.10" y2="89.40" stroke="#222" stroke-width="0.4" />
<text x="36.10" y="87.10" font-size="3.3" text-anchor="middle" font-weight="bold" font-style="normal" fill="#000" font-family="Liberation Serif, serif" >1.5</text>
<line x1="47.10" y1="88.40" x2="47.10" y2="89.40" stroke="#222" stroke-width="0.4" />
<text x="47.10" y="87.10" font-size="3.3" text-anchor="middle" font-weight="bold" font-style="normal" fill="#000" font-family="Liberation Serif, serif" >2.0</text>
<line x1="14.10" y1="236.10" x2="14.10" y2="237.10" stroke="#222" stroke-width="0.4" />
<text x="14.10" y="242.00" font-size="3.7" text-anchor="middle" font-weight="bold" font-style="normal" fill="#000" font-family="Liberation Serif, serif" >0.0</text>
<line x1="30.60" y1="236.10" x2="30.60" y2="237.10" stroke="#222" stroke-width="0.4" />
<text x="30.60" y="242.00" font-size="3.7" text-anchor="middle" font-weight="bold" font-style="normal" fill="#000" font-family="Liberation Serif, serif" >90</text>
<line x1="47.10" y1="236.10" x2="47.10" y2="237.10" stroke="#222" stroke-width="0.4" />
<text x="47.10" y="242.00" font-size="3.7" text-anchor="middle" font-weight="bold" font-style="normal" fill="#000" font-family="Liberation Serif, serif" >180</text>
<text x="31.00" y="246.30" font-size="4.6" text-anchor="middle" font-weight="bold" font-style="italic" fill="#000" font-family="Liberation Serif, serif" >|Δφ<tspan font-size="2.6" dy="0.7">xy</tspan><tspan dy="-0.7">| (°)</tspan></text>
<rect x="53.40" y="88.40" width="35.20" height="8.03" fill="#EE8B28" />
<rect x="53.40" y="96.38" width="35.20" height="4.81" fill="#EE8B28" />
<rect x="53.40" y="101.14" width="35.20" height="4.81" fill="#EE8B28" />
<rect x="53.40" y="105.90" width="35.20" height="4.81" fill="#EE8B28" />
<rect x="53.40" y="110.66" width="35.20" height="4.81" fill="#EE8B28" />
<rect x="53.40" y="115.42" width="35.20" height="4.81" fill="#EE8B28" />
<rect x="53.40" y="120.18" width="35.20" height="4.81" fill="#EE8B28" />
<rect x="53.40" y="124.94" width="35.20" height="4.81" fill="#EE8B28" />
<rect x="53.40" y="129.70" width="35.20" height="4.81" fill="#EE8B28" />
<rect x="53.40" y="134.46" width="35.20" height="4.81" fill="#EE8B28" />
<rect x="53.40" y="139.22" width="35.20" height="4.81" fill="#EE8B28" />
<rect x="53.40" y="143.98" width="35.20" height="4.81" fill="#EE8B28" />
<rect x="53.40" y="148.74" width="35.20" height="4.81" fill="#EE8B28" />
<rect x="53.40" y="153.50" width="35.20" height="4.81" fill="#EE8B28" />
<rect x="53.40" y="158.26" width="35.20" height="4.81" fill="#EE8B28" />
<rect x="53.40" y="163.02" width="35.20" height="4.81" fill="#EE8B28" />
<rect x="53.40" y="167.78" width="35.20" height="4.81" fill="#1D7896" />
<rect x="53.40" y="172.54" width="35.20" height="4.81" fill="#1D7896" />
<rect x="53.40" y="177.30" width="35.20" height="4.81" fill="#1D7896" />
<rect x="53.40" y="182.06" width="35.20" height="4.81" fill="#D8D6D6" />
<rect x="53.40" y="186.82" width="35.20" height="4.81" fill="#D8D6D6" />
<rect x="53.40" y="191.58" width="35.20" height="4.81" fill="#EE8B28" />
<rect x="53.40" y="196.34" width="35.20" height="4.81" fill="#EE8B28" />
<rect x="53.40" y="201.10" width="35.20" height="4.81" fill="#EE8B28" />
<rect x="53.40" y="205.86" width="35.20" height="4.81" fill="#EE8B28" />
<rect x="53.40" y="210.62" width="35.20" height="4.81" fill="#EE8B28" />
<rect x="53.40" y="215.38" width="35.20" height="4.81" fill="#EE8B28" />
<rect x="53.40" y="220.14" width="35.20" height="4.81" fill="#EE8B28" />
<rect x="53.40" y="224.90" width="35.20" height="4.81" fill="#EE8B28" />
<rect x="53.40" y="229.66" width="35.20" height="7.49" fill="#EE8B28" />
<line x1="53.40" y1="91.62" x2="88.60" y2="91.62" stroke="#7A4410" stroke-width="0.45" opacity="0.75"/>
<line x1="53.40" y1="94.00" x2="88.60" y2="94.00" stroke="#7A4410" stroke-width="0.4" opacity="0.4"/>
<line x1="53.40" y1="96.38" x2="88.60" y2="96.38" stroke="#7A4410" stroke-width="0.45" opacity="0.75"/>
<line x1="53.40" y1="98.76" x2="88.60" y2="98.76" stroke="#7A4410" stroke-width="0.4" opacity="0.4"/>
<line x1="53.40" y1="101.14" x2="88.60" y2="101.14" stroke="#7A4410" stroke-width="0.45" opacity="0.75"/>
<line x1="53.40" y1="103.52" x2="88.60" y2="103.52" stroke="#7A4410" stroke-width="0.4" opacity="0.4"/>
<line x1="53.40" y1="105.90" x2="88.60" y2="105.90" stroke="#7A4410" stroke-width="0.45" opacity="0.75"/>
<line x1="53.40" y1="108.28" x2="88.60" y2="108.28" stroke="#7A4410" stroke-width="0.4" opacity="0.4"/>
<line x1="53.40" y1="110.66" x2="88.60" y2="110.66" stroke="#7A4410" stroke-width="0.45" opacity="0.75"/>
<line x1="53.40" y1="113.04" x2="88.60" y2="113.04" stroke="#7A4410" stroke-width="0.4" opacity="0.4"/>
<line x1="53.40" y1="115.42" x2="88.60" y2="115.42" stroke="#7A4410" stroke-width="0.45" opacity="0.75"/>
<line x1="53.40" y1="117.80" x2="88.60" y2="117.80" stroke="#7A4410" stroke-width="0.4" opacity="0.4"/>
<line x1="53.40" y1="120.18" x2="88.60" y2="120.18" stroke="#7A4410" stroke-width="0.45" opacity="0.75"/>
<line x1="53.40" y1="122.56" x2="88.60" y2="122.56" stroke="#7A4410" stroke-width="0.4" opacity="0.4"/>
<line x1="53.40" y1="124.94" x2="88.60" y2="124.94" stroke="#7A4410" stroke-width="0.45" opacity="0.75"/>
<line x1="53.40" y1="127.32" x2="88.60" y2="127.32" stroke="#7A4410" stroke-width="0.4" opacity="0.4"/>
<line x1="53.40" y1="129.70" x2="88.60" y2="129.70" stroke="#7A4410" stroke-width="0.45" opacity="0.75"/>
<line x1="53.40" y1="132.08" x2="88.60" y2="132.08" stroke="#7A4410" stroke-width="0.4" opacity="0.4"/>
<line x1="53.40" y1="134.46" x2="88.60" y2="134.46" stroke="#7A4410" stroke-width="0.45" opacity="0.75"/>
<line x1="53.40" y1="136.84" x2="88.60" y2="136.84" stroke="#7A4410" stroke-width="0.4" opacity="0.4"/>
<line x1="53.40" y1="139.22" x2="88.60" y2="139.22" stroke="#7A4410" stroke-width="0.45" opacity="0.75"/>
<line x1="53.40" y1="141.60" x2="88.60" y2="141.60" stroke="#7A4410" stroke-width="0.4" opacity="0.4"/>
<line x1="53.40" y1="143.98" x2="88.60" y2="143.98" stroke="#7A4410" stroke-width="0.45" opacity="0.75"/>
<line x1="53.40" y1="146.36" x2="88.60" y2="146.36" stroke="#7A4410" stroke-width="0.4" opacity="0.4"/>
<line x1="53.40" y1="148.74" x2="88.60" y2="148.74" stroke="#7A4410" stroke-width="0.45" opacity="0.75"/>
<line x1="53.40" y1="151.12" x2="88.60" y2="151.12" stroke="#7A4410" stroke-width="0.4" opacity="0.4"/>
<line x1="53.40" y1="153.50" x2="88.60" y2="153.50" stroke="#7A4410" stroke-width="0.45" opacity="0.75"/>
<line x1="53.40" y1="155.88" x2="88.60" y2="155.88" stroke="#7A4410" stroke-width="0.4" opacity="0.4"/>
<line x1="53.40" y1="158.26" x2="88.60" y2="158.26" stroke="#7A4410" stroke-width="0.45" opacity="0.75"/>
<line x1="53.40" y1="160.64" x2="88.60" y2="160.64" stroke="#7A4410" stroke-width="0.4" opacity="0.4"/>
<line x1="53.40" y1="163.02" x2="88.60" y2="163.02" stroke="#7A4410" stroke-width="0.45" opacity="0.75"/>
<line x1="53.40" y1="165.40" x2="88.60" y2="165.40" stroke="#7A4410" stroke-width="0.4" opacity="0.4"/>
<line x1="53.40" y1="167.78" x2="88.60" y2="167.78" stroke="#0E3E52" stroke-width="0.45" opacity="0.75"/>
<line x1="53.40" y1="170.16" x2="88.60" y2="170.16" stroke="#0E3E52" stroke-width="0.4" opacity="0.4"/>
<line x1="53.40" y1="172.54" x2="88.60" y2="172.54" stroke="#0E3E52" stroke-width="0.45" opacity="0.75"/>
<line x1="53.40" y1="174.92" x2="88.60" y2="174.92" stroke="#0E3E52" stroke-width="0.4" opacity="0.4"/>
<line x1="53.40" y1="177.30" x2="88.60" y2="177.30" stroke="#0E3E52" stroke-width="0.45" opacity="0.75"/>
<line x1="53.40" y1="179.68" x2="88.60" y2="179.68" stroke="#0E3E52" stroke-width="0.4" opacity="0.4"/>
<line x1="53.40" y1="182.06" x2="88.60" y2="182.06" stroke="#777" stroke-width="0.45" opacity="0.75"/>
<line x1="53.40" y1="184.44" x2="88.60" y2="184.44" stroke="#777" stroke-width="0.4" opacity="0.4"/>
<line x1="53.40" y1="186.82" x2="88.60" y2="186.82" stroke="#777" stroke-width="0.45" opacity="0.75"/>
<line x1="53.40" y1="189.20" x2="88.60" y2="189.20" stroke="#777" stroke-width="0.4" opacity="0.4"/>
<line x1="53.40" y1="191.58" x2="88.60" y2="191.58" stroke="#7A4410" stroke-width="0.45" opacity="0.75"/>
<line x1="53.40" y1="193.96" x2="88.60" y2="193.96" stroke="#7A4410" stroke-width="0.4" opacity="0.4"/>
<line x1="53.40" y1="196.34" x2="88.60" y2="196.34" stroke="#7A4410" stroke-width="0.45" opacity="0.75"/>
<line x1="53.40" y1="198.72" x2="88.60" y2="198.72" stroke="#7A4410" stroke-width="0.4" opacity="0.4"/>
<line x1="53.40" y1="201.10" x2="88.60" y2="201.10" stroke="#7A4410" stroke-width="0.45" opacity="0.75"/>
<line x1="53.40" y1="203.48" x2="88.60" y2="203.48" stroke="#7A4410" stroke-width="0.4" opacity="0.4"/>
<line x1="53.40" y1="205.86" x2="88.60" y2="205.86" stroke="#7A4410" stroke-width="0.45" opacity="0.75"/>
<line x1="53.40" y1="208.24" x2="88.60" y2="208.24" stroke="#7A4410" stroke-width="0.4" opacity="0.4"/>
<line x1="53.40" y1="210.62" x2="88.60" y2="210.62" stroke="#7A4410" stroke-width="0.45" opacity="0.75"/>
<line x1="53.40" y1="213.00" x2="88.60" y2="213.00" stroke="#7A4410" stroke-width="0.4" opacity="0.4"/>
<line x1="53.40" y1="215.38" x2="88.60" y2="215.38" stroke="#7A4410" stroke-width="0.45" opacity="0.75"/>
<line x1="53.40" y1="217.76" x2="88.60" y2="217.76" stroke="#7A4410" stroke-width="0.4" opacity="0.4"/>
<line x1="53.40" y1="220.14" x2="88.60" y2="220.14" stroke="#7A4410" stroke-width="0.45" opacity="0.75"/>
<line x1="53.40" y1="222.52" x2="88.60" y2="222.52" stroke="#7A4410" stroke-width="0.4" opacity="0.4"/>
<line x1="53.40" y1="224.90" x2="88.60" y2="224.90" stroke="#7A4410" stroke-width="0.45" opacity="0.75"/>
<line x1="53.40" y1="227.28" x2="88.60" y2="227.28" stroke="#7A4410" stroke-width="0.4" opacity="0.4"/>
<line x1="53.40" y1="229.66" x2="88.60" y2="229.66" stroke="#7A4410" stroke-width="0.45" opacity="0.75"/>
<line x1="53.40" y1="232.04" x2="88.60" y2="232.04" stroke="#7A4410" stroke-width="0.4" opacity="0.4"/>
<line x1="53.40" y1="234.42" x2="88.60" y2="234.42" stroke="#7A4410" stroke-width="0.45" opacity="0.75"/>
<line x1="53.40" y1="236.60" x2="88.60" y2="236.60" stroke="#7A4410" stroke-width="0.6" stroke-dasharray="1.6 1.4" opacity="0.8"/>
<line x1="60.79" y1="91.62" x2="60.79" y2="96.38" stroke="#7A4410" stroke-width="0.5" opacity="0.6"/>
<line x1="59.03" y1="96.38" x2="59.03" y2="101.14" stroke="#7A4410" stroke-width="0.5" opacity="0.6"/>
<line x1="59.03" y1="101.14" x2="59.03" y2="105.90" stroke="#7A4410" stroke-width="0.5" opacity="0.6"/>
<line x1="59.03" y1="105.90" x2="59.03" y2="110.66" stroke="#7A4410" stroke-width="0.5" opacity="0.6"/>
<line x1="59.03" y1="110.66" x2="59.03" y2="115.42" stroke="#7A4410" stroke-width="0.5" opacity="0.6"/>
<line x1="59.03" y1="115.42" x2="59.03" y2="120.18" stroke="#7A4410" stroke-width="0.5" opacity="0.6"/>
<line x1="59.03" y1="120.18" x2="59.03" y2="124.94" stroke="#7A4410" stroke-width="0.5" opacity="0.6"/>
<line x1="59.03" y1="124.94" x2="59.03" y2="129.70" stroke="#7A4410" stroke-width="0.5" opacity="0.6"/>
<line x1="59.03" y1="129.70" x2="59.03" y2="134.46" stroke="#7A4410" stroke-width="0.5" opacity="0.6"/>
<line x1="59.03" y1="134.46" x2="59.03" y2="139.22" stroke="#7A4410" stroke-width="0.5" opacity="0.6"/>
<line x1="59.03" y1="139.22" x2="59.03" y2="143.98" stroke="#7A4410" stroke-width="0.5" opacity="0.6"/>
<line x1="59.03" y1="143.98" x2="59.03" y2="148.74" stroke="#7A4410" stroke-width="0.5" opacity="0.6"/>
<line x1="59.03" y1="148.74" x2="59.03" y2="153.50" stroke="#7A4410" stroke-width="0.5" opacity="0.6"/>
<line x1="59.03" y1="153.50" x2="59.03" y2="158.26" stroke="#7A4410" stroke-width="0.5" opacity="0.6"/>
<line x1="59.03" y1="158.26" x2="59.03" y2="163.02" stroke="#7A4410" stroke-width="0.5" opacity="0.6"/>
<line x1="59.03" y1="163.02" x2="59.03" y2="167.78" stroke="#7A4410" stroke-width="0.5" opacity="0.6"/>
<line x1="60.44" y1="167.78" x2="60.44" y2="172.54" stroke="#0E3E52" stroke-width="0.5" opacity="0.6"/>
<line x1="63.96" y1="172.54" x2="63.96" y2="177.30" stroke="#0E3E52" stroke-width="0.5" opacity="0.6"/>
<line x1="66.78" y1="177.30" x2="66.78" y2="182.06" stroke="#0E3E52" stroke-width="0.5" opacity="0.6"/>
<line x1="73.46" y1="182.06" x2="73.46" y2="186.82" stroke="#777" stroke-width="0.5" opacity="0.6"/>
<line x1="73.46" y1="186.82" x2="73.46" y2="191.58" stroke="#777" stroke-width="0.5" opacity="0.6"/>
<line x1="71.70" y1="191.58" x2="71.70" y2="196.34" stroke="#7A4410" stroke-width="0.5" opacity="0.6"/>
<line x1="71.00" y1="196.34" x2="71.00" y2="201.10" stroke="#7A4410" stroke-width="0.5" opacity="0.6"/>
<line x1="71.00" y1="201.10" x2="71.00" y2="205.86" stroke="#7A4410" stroke-width="0.5" opacity="0.6"/>
<line x1="70.30" y1="205.86" x2="70.30" y2="210.62" stroke="#7A4410" stroke-width="0.5" opacity="0.6"/>
<line x1="69.94" y1="210.62" x2="69.94" y2="215.38" stroke="#7A4410" stroke-width="0.5" opacity="0.6"/>
<line x1="70.30" y1="215.38" x2="70.30" y2="220.14" stroke="#7A4410" stroke-width="0.5" opacity="0.6"/>
<line x1="69.59" y1="220.14" x2="69.59" y2="224.90" stroke="#7A4410" stroke-width="0.5" opacity="0.6"/>
<line x1="68.89" y1="224.90" x2="68.89" y2="229.66" stroke="#7A4410" stroke-width="0.5" opacity="0.6"/>
<line x1="67.48" y1="229.66" x2="67.48" y2="234.42" stroke="#7A4410" stroke-width="0.5" opacity="0.6"/>
<rect x="53.40" y="88.40" width="35.20" height="148.70" fill="none" stroke="#4a4a4a" stroke-width="0.45"/>
<line x1="53.40" y1="236.10" x2="53.40" y2="237.10" stroke="#222" stroke-width="0.4" />
<text x="53.40" y="242.00" font-size="3.7" text-anchor="middle" font-weight="bold" font-style="normal" fill="#000" font-family="Liberation Serif, serif" >0.0</text>
<line x1="71.00" y1="236.10" x2="71.00" y2="237.10" stroke="#222" stroke-width="0.4" />
<text x="71.00" y="242.00" font-size="3.7" text-anchor="middle" font-weight="bold" font-style="normal" fill="#000" font-family="Liberation Serif, serif" >0.5</text>
<line x1="88.60" y1="236.10" x2="88.60" y2="237.10" stroke="#222" stroke-width="0.4" />
<text x="88.60" y="242.00" font-size="3.7" text-anchor="middle" font-weight="bold" font-style="normal" fill="#000" font-family="Liberation Serif, serif" >1.0</text>
<line x1="53.40" y1="237.10" x2="54.30" y2="237.10" stroke="#222" stroke-width="0.4" />
<line x1="53.40" y1="222.23" x2="54.30" y2="222.23" stroke="#222" stroke-width="0.4" />
<line x1="53.40" y1="207.36" x2="54.30" y2="207.36" stroke="#222" stroke-width="0.4" />
<line x1="53.40" y1="192.49" x2="54.30" y2="192.49" stroke="#222" stroke-width="0.4" />
<line x1="53.40" y1="177.62" x2="54.30" y2="177.62" stroke="#222" stroke-width="0.4" />
<line x1="53.40" y1="162.75" x2="54.30" y2="162.75" stroke="#222" stroke-width="0.4" />
<line x1="53.40" y1="147.88" x2="54.30" y2="147.88" stroke="#222" stroke-width="0.4" />
<line x1="53.40" y1="133.01" x2="54.30" y2="133.01" stroke="#222" stroke-width="0.4" />
<line x1="53.40" y1="118.14" x2="54.30" y2="118.14" stroke="#222" stroke-width="0.4" />
<line x1="53.40" y1="103.27" x2="54.30" y2="103.27" stroke="#222" stroke-width="0.4" />
<line x1="53.40" y1="88.40" x2="54.30" y2="88.40" stroke="#222" stroke-width="0.4" />
<text x="71.00" y="246.00" font-size="4.4" text-anchor="middle" font-weight="bold" font-style="italic" fill="#000" font-family="Liberation Serif, serif" >w<tspan font-size="2.8" dy="0.8">x</tspan></text>
<rect x="95.20" y="88.40" width="35.30" height="8.03" fill="#EE8B28" />
<rect x="95.20" y="96.38" width="35.30" height="4.81" fill="#EE8B28" />
<rect x="95.20" y="101.14" width="35.30" height="4.81" fill="#EE8B28" />
<rect x="95.20" y="105.90" width="35.30" height="4.81" fill="#EE8B28" />
<rect x="95.20" y="110.66" width="35.30" height="4.81" fill="#EE8B28" />
<rect x="95.20" y="115.42" width="35.30" height="4.81" fill="#EE8B28" />
<rect x="95.20" y="120.18" width="35.30" height="4.81" fill="#EE8B28" />
<rect x="95.20" y="124.94" width="35.30" height="4.81" fill="#EE8B28" />
<rect x="95.20" y="129.70" width="35.30" height="4.81" fill="#EE8B28" />
<rect x="95.20" y="134.46" width="35.30" height="4.81" fill="#EE8B28" />
<rect x="95.20" y="139.22" width="35.30" height="4.81" fill="#EE8B28" />
<rect x="95.20" y="143.98" width="35.30" height="4.81" fill="#EE8B28" />
<rect x="95.20" y="148.74" width="35.30" height="4.81" fill="#EE8B28" />
<rect x="95.20" y="153.50" width="35.30" height="4.81" fill="#EE8B28" />
<rect x="95.20" y="158.26" width="35.30" height="4.81" fill="#EE8B28" />
<rect x="95.20" y="163.02" width="35.30" height="4.81" fill="#EE8B28" />
<rect x="95.20" y="167.78" width="35.30" height="4.81" fill="#1D7896" />
<rect x="95.20" y="172.54" width="35.30" height="4.81" fill="#1D7896" />
<rect x="95.20" y="177.30" width="35.30" height="4.81" fill="#1D7896" />
<rect x="95.20" y="182.06" width="35.30" height="4.81" fill="#D8D6D6" />
<rect x="95.20" y="186.82" width="35.30" height="4.81" fill="#D8D6D6" />
<rect x="95.20" y="191.58" width="35.30" height="4.81" fill="#EE8B28" />
<rect x="95.20" y="196.34" width="35.30" height="4.81" fill="#EE8B28" />
<rect x="95.20" y="201.10" width="35.30" height="4.81" fill="#EE8B28" />
<rect x="95.20" y="205.86" width="35.30" height="4.81" fill="#EE8B28" />
<rect x="95.20" y="210.62" width="35.30" height="4.81" fill="#EE8B28" />
<rect x="95.20" y="215.38" width="35.30" height="4.81" fill="#EE8B28" />
<rect x="95.20" y="220.14" width="35.30" height="4.81" fill="#EE8B28" />
<rect x="95.20" y="224.90" width="35.30" height="4.81" fill="#EE8B28" />
<rect x="95.20" y="229.66" width="35.30" height="7.49" fill="#EE8B28" />
<line x1="95.20" y1="91.62" x2="130.50" y2="91.62" stroke="#7A4410" stroke-width="0.45" opacity="0.75"/>
<line x1="95.20" y1="94.00" x2="130.50" y2="94.00" stroke="#7A4410" stroke-width="0.4" opacity="0.4"/>
<line x1="95.20" y1="96.38" x2="130.50" y2="96.38" stroke="#7A4410" stroke-width="0.45" opacity="0.75"/>
<line x1="95.20" y1="98.76" x2="130.50" y2="98.76" stroke="#7A4410" stroke-width="0.4" opacity="0.4"/>
<line x1="95.20" y1="101.14" x2="130.50" y2="101.14" stroke="#7A4410" stroke-width="0.45" opacity="0.75"/>
<line x1="95.20" y1="103.52" x2="130.50" y2="103.52" stroke="#7A4410" stroke-width="0.4" opacity="0.4"/>
<line x1="95.20" y1="105.90" x2="130.50" y2="105.90" stroke="#7A4410" stroke-width="0.45" opacity="0.75"/>
<line x1="95.20" y1="108.28" x2="130.50" y2="108.28" stroke="#7A4410" stroke-width="0.4" opacity="0.4"/>
<line x1="95.20" y1="110.66" x2="130.50" y2="110.66" stroke="#7A4410" stroke-width="0.45" opacity="0.75"/>
<line x1="95.20" y1="113.04" x2="130.50" y2="113.04" stroke="#7A4410" stroke-width="0.4" opacity="0.4"/>
<line x1="95.20" y1="115.42" x2="130.50" y2="115.42" stroke="#7A4410" stroke-width="0.45" opacity="0.75"/>
<line x1="95.20" y1="117.80" x2="130.50" y2="117.80" stroke="#7A4410" stroke-width="0.4" opacity="0.4"/>
<line x1="95.20" y1="120.18" x2="130.50" y2="120.18" stroke="#7A4410" stroke-width="0.45" opacity="0.75"/>
<line x1="95.20" y1="122.56" x2="130.50" y2="122.56" stroke="#7A4410" stroke-width="0.4" opacity="0.4"/>
<line x1="95.20" y1="124.94" x2="130.50" y2="124.94" stroke="#7A4410" stroke-width="0.45" opacity="0.75"/>
<line x1="95.20" y1="127.32" x2="130.50" y2="127.32" stroke="#7A4410" stroke-width="0.4" opacity="0.4"/>
<line x1="95.20" y1="129.70" x2="130.50" y2="129.70" stroke="#7A4410" stroke-width="0.45" opacity="0.75"/>
<line x1="95.20" y1="132.08" x2="130.50" y2="132.08" stroke="#7A4410" stroke-width="0.4" opacity="0.4"/>
<line x1="95.20" y1="134.46" x2="130.50" y2="134.46" stroke="#7A4410" stroke-width="0.45" opacity="0.75"/>
<line x1="95.20" y1="136.84" x2="130.50" y2="136.84" stroke="#7A4410" stroke-width="0.4" opacity="0.4"/>
<line x1="95.20" y1="139.22" x2="130.50" y2="139.22" stroke="#7A4410" stroke-width="0.45" opacity="0.75"/>
<line x1="95.20" y1="141.60" x2="130.50" y2="141.60" stroke="#7A4410" stroke-width="0.4" opacity="0.4"/>
<line x1="95.20" y1="143.98" x2="130.50" y2="143.98" stroke="#7A4410" stroke-width="0.45" opacity="0.75"/>
<line x1="95.20" y1="146.36" x2="130.50" y2="146.36" stroke="#7A4410" stroke-width="0.4" opacity="0.4"/>
<line x1="95.20" y1="148.74" x2="130.50" y2="148.74" stroke="#7A4410" stroke-width="0.45" opacity="0.75"/>
<line x1="95.20" y1="151.12" x2="130.50" y2="151.12" stroke="#7A4410" stroke-width="0.4" opacity="0.4"/>
<line x1="95.20" y1="153.50" x2="130.50" y2="153.50" stroke="#7A4410" stroke-width="0.45" opacity="0.75"/>
<line x1="95.20" y1="155.88" x2="130.50" y2="155.88" stroke="#7A4410" stroke-width="0.4" opacity="0.4"/>
<line x1="95.20" y1="158.26" x2="130.50" y2="158.26" stroke="#7A4410" stroke-width="0.45" opacity="0.75"/>
<line x1="95.20" y1="160.64" x2="130.50" y2="160.64" stroke="#7A4410" stroke-width="0.4" opacity="0.4"/>
<line x1="95.20" y1="163.02" x2="130.50" y2="163.02" stroke="#7A4410" stroke-width="0.45" opacity="0.75"/>
<line x1="95.20" y1="165.40" x2="130.50" y2="165.40" stroke="#7A4410" stroke-width="0.4" opacity="0.4"/>
<line x1="95.20" y1="167.78" x2="130.50" y2="167.78" stroke="#0E3E52" stroke-width="0.45" opacity="0.75"/>
<line x1="95.20" y1="170.16" x2="130.50" y2="170.16" stroke="#0E3E52" stroke-width="0.4" opacity="0.4"/>
<line x1="95.20" y1="172.54" x2="130.50" y2="172.54" stroke="#0E3E52" stroke-width="0.45" opacity="0.75"/>
<line x1="95.20" y1="174.92" x2="130.50" y2="174.92" stroke="#0E3E52" stroke-width="0.4" opacity="0.4"/>
<line x1="95.20" y1="177.30" x2="130.50" y2="177.30" stroke="#0E3E52" stroke-width="0.45" opacity="0.75"/>
<line x1="95.20" y1="179.68" x2="130.50" y2="179.68" stroke="#0E3E52" stroke-width="0.4" opacity="0.4"/>
<line x1="95.20" y1="182.06" x2="130.50" y2="182.06" stroke="#777" stroke-width="0.45" opacity="0.75"/>
<line x1="95.20" y1="184.44" x2="130.50" y2="184.44" stroke="#777" stroke-width="0.4" opacity="0.4"/>
<line x1="95.20" y1="186.82" x2="130.50" y2="186.82" stroke="#777" stroke-width="0.45" opacity="0.75"/>
<line x1="95.20" y1="189.20" x2="130.50" y2="189.20" stroke="#777" stroke-width="0.4" opacity="0.4"/>
<line x1="95.20" y1="191.58" x2="130.50" y2="191.58" stroke="#7A4410" stroke-width="0.45" opacity="0.75"/>
<line x1="95.20" y1="193.96" x2="130.50" y2="193.96" stroke="#7A4410" stroke-width="0.4" opacity="0.4"/>
<line x1="95.20" y1="196.34" x2="130.50" y2="196.34" stroke="#7A4410" stroke-width="0.45" opacity="0.75"/>
<line x1="95.20" y1="198.72" x2="130.50" y2="198.72" stroke="#7A4410" stroke-width="0.4" opacity="0.4"/>
<line x1="95.20" y1="201.10" x2="130.50" y2="201.10" stroke="#7A4410" stroke-width="0.45" opacity="0.75"/>
<line x1="95.20" y1="203.48" x2="130.50" y2="203.48" stroke="#7A4410" stroke-width="0.4" opacity="0.4"/>
<line x1="95.20" y1="205.86" x2="130.50" y2="205.86" stroke="#7A4410" stroke-width="0.45" opacity="0.75"/>
<line x1="95.20" y1="208.24" x2="130.50" y2="208.24" stroke="#7A4410" stroke-width="0.4" opacity="0.4"/>
<line x1="95.20" y1="210.62" x2="130.50" y2="210.62" stroke="#7A4410" stroke-width="0.45" opacity="0.75"/>
<line x1="95.20" y1="213.00" x2="130.50" y2="213.00" stroke="#7A4410" stroke-width="0.4" opacity="0.4"/>
<line x1="95.20" y1="215.38" x2="130.50" y2="215.38" stroke="#7A4410" stroke-width="0.45" opacity="0.75"/>
<line x1="95.20" y1="217.76" x2="130.50" y2="217.76" stroke="#7A4410" stroke-width="0.4" opacity="0.4"/>
<line x1="95.20" y1="220.14" x2="130.50" y2="220.14" stroke="#7A4410" stroke-width="0.45" opacity="0.75"/>
<line x1="95.20" y1="222.52" x2="130.50" y2="222.52" stroke="#7A4410" stroke-width="0.4" opacity="0.4"/>
<line x1="95.20" y1="224.90" x2="130.50" y2="224.90" stroke="#7A4410" stroke-width="0.45" opacity="0.75"/>
<line x1="95.20" y1="227.28" x2="130.50" y2="227.28" stroke="#7A4410" stroke-width="0.4" opacity="0.4"/>
<line x1="95.20" y1="229.66" x2="130.50" y2="229.66" stroke="#7A4410" stroke-width="0.45" opacity="0.75"/>
<line x1="95.20" y1="232.04" x2="130.50" y2="232.04" stroke="#7A4410" stroke-width="0.4" opacity="0.4"/>
<line x1="95.20" y1="234.42" x2="130.50" y2="234.42" stroke="#7A4410" stroke-width="0.45" opacity="0.75"/>
<line x1="95.20" y1="236.60" x2="130.50" y2="236.60" stroke="#7A4410" stroke-width="0.6" stroke-dasharray="1.6 1.4" opacity="0.8"/>
<line x1="102.26" y1="91.62" x2="102.26" y2="96.38" stroke="#7A4410" stroke-width="0.5" opacity="0.6"/>
<line x1="103.67" y1="96.38" x2="103.67" y2="101.14" stroke="#7A4410" stroke-width="0.5" opacity="0.6"/>
<line x1="104.73" y1="101.14" x2="104.73" y2="105.90" stroke="#7A4410" stroke-width="0.5" opacity="0.6"/>
<line x1="104.73" y1="105.90" x2="104.73" y2="110.66" stroke="#7A4410" stroke-width="0.5" opacity="0.6"/>
<line x1="104.73" y1="110.66" x2="104.73" y2="115.42" stroke="#7A4410" stroke-width="0.5" opacity="0.6"/>
<line x1="104.73" y1="115.42" x2="104.73" y2="120.18" stroke="#7A4410" stroke-width="0.5" opacity="0.6"/>
<line x1="104.73" y1="120.18" x2="104.73" y2="124.94" stroke="#7A4410" stroke-width="0.5" opacity="0.6"/>
<line x1="104.73" y1="124.94" x2="104.73" y2="129.70" stroke="#7A4410" stroke-width="0.5" opacity="0.6"/>
<line x1="104.73" y1="129.70" x2="104.73" y2="134.46" stroke="#7A4410" stroke-width="0.5" opacity="0.6"/>
<line x1="104.73" y1="134.46" x2="104.73" y2="139.22" stroke="#7A4410" stroke-width="0.5" opacity="0.6"/>
<line x1="104.73" y1="139.22" x2="104.73" y2="143.98" stroke="#7A4410" stroke-width="0.5" opacity="0.6"/>
<line x1="104.73" y1="143.98" x2="104.73" y2="148.74" stroke="#7A4410" stroke-width="0.5" opacity="0.6"/>
<line x1="105.79" y1="148.74" x2="105.79" y2="153.50" stroke="#7A4410" stroke-width="0.5" opacity="0.6"/>
<line x1="105.79" y1="153.50" x2="105.79" y2="158.26" stroke="#7A4410" stroke-width="0.5" opacity="0.6"/>
<line x1="105.79" y1="158.26" x2="105.79" y2="163.02" stroke="#7A4410" stroke-width="0.5" opacity="0.6"/>
<line x1="105.79" y1="163.02" x2="105.79" y2="167.78" stroke="#7A4410" stroke-width="0.5" opacity="0.6"/>
<line x1="112.85" y1="167.78" x2="112.85" y2="172.54" stroke="#0E3E52" stroke-width="0.5" opacity="0.6"/>
<line x1="109.32" y1="172.54" x2="109.32" y2="177.30" stroke="#0E3E52" stroke-width="0.5" opacity="0.6"/>
<line x1="105.08" y1="177.30" x2="105.08" y2="182.06" stroke="#0E3E52" stroke-width="0.5" opacity="0.6"/>
<line x1="97.32" y1="182.06" x2="97.32" y2="186.82" stroke="#777" stroke-width="0.5" opacity="0.6"/>
<line x1="97.32" y1="186.82" x2="97.32" y2="191.58" stroke="#777" stroke-width="0.5" opacity="0.6"/>
<line x1="96.97" y1="191.58" x2="96.97" y2="196.34" stroke="#7A4410" stroke-width="0.5" opacity="0.6"/>
<line x1="97.32" y1="196.34" x2="97.32" y2="201.10" stroke="#7A4410" stroke-width="0.5" opacity="0.6"/>
<line x1="96.97" y1="201.10" x2="96.97" y2="205.86" stroke="#7A4410" stroke-width="0.5" opacity="0.6"/>
<line x1="96.97" y1="205.86" x2="96.97" y2="210.62" stroke="#7A4410" stroke-width="0.5" opacity="0.6"/>
<line x1="96.61" y1="210.62" x2="96.61" y2="215.38" stroke="#7A4410" stroke-width="0.5" opacity="0.6"/>
<line x1="96.97" y1="215.38" x2="96.97" y2="220.14" stroke="#7A4410" stroke-width="0.5" opacity="0.6"/>
<line x1="96.97" y1="220.14" x2="96.97" y2="224.90" stroke="#7A4410" stroke-width="0.5" opacity="0.6"/>
<line x1="96.97" y1="224.90" x2="96.97" y2="229.66" stroke="#7A4410" stroke-width="0.5" opacity="0.6"/>
<line x1="98.02" y1="229.66" x2="98.02" y2="234.42" stroke="#7A4410" stroke-width="0.5" opacity="0.6"/>
<rect x="95.20" y="88.40" width="35.30" height="148.70" fill="none" stroke="#4a4a4a" stroke-width="0.45"/>
<line x1="95.20" y1="236.10" x2="95.20" y2="237.10" stroke="#222" stroke-width="0.4" />
<text x="95.20" y="242.00" font-size="3.7" text-anchor="middle" font-weight="bold" font-style="normal" fill="#000" font-family="Liberation Serif, serif" >0.0</text>
<line x1="112.85" y1="236.10" x2="112.85" y2="237.10" stroke="#222" stroke-width="0.4" />
<text x="112.85" y="242.00" font-size="3.7" text-anchor="middle" font-weight="bold" font-style="normal" fill="#000" font-family="Liberation Serif, serif" >0.5</text>
<line x1="130.50" y1="236.10" x2="130.50" y2="237.10" stroke="#222" stroke-width="0.4" />
<text x="130.50" y="242.00" font-size="3.7" text-anchor="middle" font-weight="bold" font-style="normal" fill="#000" font-family="Liberation Serif, serif" >1.0</text>
<line x1="95.20" y1="237.10" x2="96.10" y2="237.10" stroke="#222" stroke-width="0.4" />
<line x1="95.20" y1="222.23" x2="96.10" y2="222.23" stroke="#222" stroke-width="0.4" />
<line x1="95.20" y1="207.36" x2="96.10" y2="207.36" stroke="#222" stroke-width="0.4" />
<line x1="95.20" y1="192.49" x2="96.10" y2="192.49" stroke="#222" stroke-width="0.4" />
<line x1="95.20" y1="177.62" x2="96.10" y2="177.62" stroke="#222" stroke-width="0.4" />
<line x1="95.20" y1="162.75" x2="96.10" y2="162.75" stroke="#222" stroke-width="0.4" />
<line x1="95.20" y1="147.88" x2="96.10" y2="147.88" stroke="#222" stroke-width="0.4" />
<line x1="95.20" y1="133.01" x2="96.10" y2="133.01" stroke="#222" stroke-width="0.4" />
<line x1="95.20" y1="118.14" x2="96.10" y2="118.14" stroke="#222" stroke-width="0.4" />
<line x1="95.20" y1="103.27" x2="96.10" y2="103.27" stroke="#222" stroke-width="0.4" />
<line x1="95.20" y1="88.40" x2="96.10" y2="88.40" stroke="#222" stroke-width="0.4" />
<text x="112.85" y="246.00" font-size="4.4" text-anchor="middle" font-weight="bold" font-style="italic" fill="#000" font-family="Liberation Serif, serif" >w<tspan font-size="2.8" dy="0.8">y</tspan></text>
<rect x="53.50" y="79.20" width="5.50" height="2.40" fill="#EE8B28" />
<text x="60.20" y="81.45" font-size="3.2" text-anchor="start" font-weight="bold" font-style="normal" fill="#000" font-family="Liberation Serif, serif" >Strong correlation I</text>
<rect x="53.50" y="82.05" width="5.50" height="2.40" fill="#1D7896" />
<text x="60.20" y="84.30" font-size="3.2" text-anchor="start" font-weight="bold" font-style="normal" fill="#000" font-family="Liberation Serif, serif" >Weak correlation I-1</text>
<rect x="53.50" y="84.90" width="5.50" height="2.40" fill="#D8D6D6" />
<text x="60.20" y="87.15" font-size="3.2" text-anchor="start" font-weight="bold" font-style="normal" fill="#000" font-family="Liberation Serif, serif" >Weak correlation II</text>
<rect x="95.80" y="79.60" width="5.00" height="2.60" fill="#E4E4E4" stroke="#999" stroke-width="0.3"/>
<text x="102.20" y="82.00" font-size="3.7" text-anchor="start" font-weight="bold" font-style="italic" fill="#000" font-family="Liberation Serif, serif" >f<tspan font-size="2.5" dy="0.7">x,y,D</tspan><tspan dy="-0.7"> = 0.73 Hz ≈ f</tspan><tspan font-size="2.5" dy="0.7">ex</tspan></text>
<rect x="95.80" y="84.80" width="5.00" height="2.60" fill="#E4E4E4" stroke="#999" stroke-width="0.3"/>
<text x="102.20" y="87.20" font-size="3.7" text-anchor="start" font-weight="bold" font-style="italic" fill="#000" font-family="Liberation Serif, serif" >f<tspan font-size="2.5" dy="0.7">x,y,D</tspan><tspan dy="-0.7"> = 1.46 Hz</tspan></text>
<rect x="137.30" y="88.40" width="32.70" height="148.70" fill="#A3DA9E" />
<rect x="137.30" y="182.06" width="32.70" height="9.52" fill="#FBC994" />
<line x1="137.30" y1="236.10" x2="137.30" y2="237.10" stroke="#222" stroke-width="0.4" />
<text x="137.30" y="242.00" font-size="3.7" text-anchor="middle" font-weight="bold" font-style="normal" fill="#000" font-family="Liberation Serif, serif" >0.5</text>
<line x1="148.20" y1="236.10" x2="148.20" y2="237.10" stroke="#222" stroke-width="0.4" />
<text x="148.20" y="242.00" font-size="3.7" text-anchor="middle" font-weight="bold" font-style="normal" fill="#000" font-family="Liberation Serif, serif" >1.0</text>
<line x1="159.10" y1="236.10" x2="159.10" y2="237.10" stroke="#222" stroke-width="0.4" />
<text x="159.10" y="242.00" font-size="3.7" text-anchor="middle" font-weight="bold" font-style="normal" fill="#000" font-family="Liberation Serif, serif" >1.5</text>
<line x1="170.00" y1="236.10" x2="170.00" y2="237.10" stroke="#222" stroke-width="0.4" />
<text x="170.00" y="242.00" font-size="3.7" text-anchor="middle" font-weight="bold" font-style="normal" fill="#000" font-family="Liberation Serif, serif" >2.0</text>
<line x1="137.30" y1="237.10" x2="138.20" y2="237.10" stroke="#222" stroke-width="0.4" />
<line x1="169.10" y1="237.10" x2="170.00" y2="237.10" stroke="#222" stroke-width="0.4" />
<line x1="137.30" y1="222.23" x2="138.20" y2="222.23" stroke="#222" stroke-width="0.4" />
<line x1="169.10" y1="222.23" x2="170.00" y2="222.23" stroke="#222" stroke-width="0.4" />
<line x1="137.30" y1="207.36" x2="138.20" y2="207.36" stroke="#222" stroke-width="0.4" />
<line x1="169.10" y1="207.36" x2="170.00" y2="207.36" stroke="#222" stroke-width="0.4" />
<line x1="137.30" y1="192.49" x2="138.20" y2="192.49" stroke="#222" stroke-width="0.4" />
<line x1="169.10" y1="192.49" x2="170.00" y2="192.49" stroke="#222" stroke-width="0.4" />
<line x1="137.30" y1="177.62" x2="138.20" y2="177.62" stroke="#222" stroke-width="0.4" />
<line x1="169.10" y1="177.62" x2="170.00" y2="177.62" stroke="#222" stroke-width="0.4" />
<line x1="137.30" y1="162.75" x2="138.20" y2="162.75" stroke="#222" stroke-width="0.4" />
<line x1="169.10" y1="162.75" x2="170.00" y2="162.75" stroke="#222" stroke-width="0.4" />
<line x1="137.30" y1="147.88" x2="138.20" y2="147.88" stroke="#222" stroke-width="0.4" />
<line x1="169.10" y1="147.88" x2="170.00" y2="147.88" stroke="#222" stroke-width="0.4" />
<line x1="137.30" y1="133.01" x2="138.20" y2="133.01" stroke="#222" stroke-width="0.4" />
<line x1="169.10" y1="133.01" x2="170.00" y2="133.01" stroke="#222" stroke-width="0.4" />
<line x1="137.30" y1="118.14" x2="138.20" y2="118.14" stroke="#222" stroke-width="0.4" />
<line x1="169.10" y1="118.14" x2="170.00" y2="118.14" stroke="#222" stroke-width="0.4" />
<line x1="137.30" y1="103.27" x2="138.20" y2="103.27" stroke="#222" stroke-width="0.4" />
<line x1="169.10" y1="103.27" x2="170.00" y2="103.27" stroke="#222" stroke-width="0.4" />
<line x1="137.30" y1="88.40" x2="138.20" y2="88.40" stroke="#222" stroke-width="0.4" />
<line x1="169.10" y1="88.40" x2="170.00" y2="88.40" stroke="#222" stroke-width="0.4" />
<text x="153.65" y="246.30" font-size="4.5" text-anchor="middle" font-weight="bold" font-style="italic" fill="#000" font-family="Liberation Serif, serif" >f (Hz)</text>
<circle cx="157.8" cy="94.00" r="2.5" fill="#E6F29A" opacity="0.5"/>
<rect x="140.00" y="91.70" width="4.6" height="4.6" fill="#D8F0B0" opacity="0.55"/>
<rect x="140.75" y="92.45" width="3.1" height="3.1" fill="#B4E4A4" stroke="#0A6E2A" stroke-width="0.7"/>
<path d="M140.80 92.50L143.80 95.50M143.80 92.50L140.80 95.50" stroke="#07601F" stroke-width="1.05" fill="none"/>
<circle cx="157.80" cy="94.00" r="1.5" fill="#E4F090" stroke="#2020E4" stroke-width="1.05"/>
<circle cx="157.8" cy="98.76" r="2.5" fill="#E6F29A" opacity="0.5"/>
<rect x="140.00" y="96.46" width="4.6" height="4.6" fill="#D8F0B0" opacity="0.55"/>
<rect x="140.75" y="97.21" width="3.1" height="3.1" fill="#B4E4A4" stroke="#0A6E2A" stroke-width="0.7"/>
<path d="M140.80 97.26L143.80 100.26M143.80 97.26L140.80 100.26" stroke="#07601F" stroke-width="1.05" fill="none"/>
<circle cx="157.80" cy="98.76" r="1.5" fill="#E4F090" stroke="#2020E4" stroke-width="1.05"/>
<circle cx="157.8" cy="103.52" r="2.5" fill="#E6F29A" opacity="0.5"/>
<rect x="140.00" y="101.22" width="4.6" height="4.6" fill="#D8F0B0" opacity="0.55"/>
<rect x="140.75" y="101.97" width="3.1" height="3.1" fill="#B4E4A4" stroke="#0A6E2A" stroke-width="0.7"/>
<path d="M140.80 102.02L143.80 105.02M143.80 102.02L140.80 105.02" stroke="#07601F" stroke-width="1.05" fill="none"/>
<circle cx="157.80" cy="103.52" r="1.5" fill="#E4F090" stroke="#2020E4" stroke-width="1.05"/>
<circle cx="157.8" cy="108.28" r="2.5" fill="#E6F29A" opacity="0.5"/>
<rect x="140.00" y="105.98" width="4.6" height="4.6" fill="#D8F0B0" opacity="0.55"/>
<rect x="140.75" y="106.73" width="3.1" height="3.1" fill="#B4E4A4" stroke="#0A6E2A" stroke-width="0.7"/>
<path d="M140.80 106.78L143.80 109.78M143.80 106.78L140.80 109.78" stroke="#07601F" stroke-width="1.05" fill="none"/>
<circle cx="157.80" cy="108.28" r="1.5" fill="#E4F090" stroke="#2020E4" stroke-width="1.05"/>
<circle cx="157.8" cy="113.04" r="2.5" fill="#E6F29A" opacity="0.5"/>
<rect x="140.00" y="110.74" width="4.6" height="4.6" fill="#D8F0B0" opacity="0.55"/>
<rect x="140.75" y="111.49" width="3.1" height="3.1" fill="#B4E4A4" stroke="#0A6E2A" stroke-width="0.7"/>
<path d="M140.80 111.54L143.80 114.54M143.80 111.54L140.80 114.54" stroke="#07601F" stroke-width="1.05" fill="none"/>
<circle cx="157.80" cy="113.04" r="1.5" fill="#E4F090" stroke="#2020E4" stroke-width="1.05"/>
<circle cx="157.8" cy="117.80" r="2.5" fill="#E6F29A" opacity="0.5"/>
<rect x="140.00" y="115.50" width="4.6" height="4.6" fill="#D8F0B0" opacity="0.55"/>
<rect x="140.75" y="116.25" width="3.1" height="3.1" fill="#B4E4A4" stroke="#0A6E2A" stroke-width="0.7"/>
<path d="M140.80 116.30L143.80 119.30M143.80 116.30L140.80 119.30" stroke="#07601F" stroke-width="1.05" fill="none"/>
<circle cx="157.80" cy="117.80" r="1.5" fill="#E4F090" stroke="#2020E4" stroke-width="1.05"/>
<circle cx="157.8" cy="122.56" r="2.5" fill="#E6F29A" opacity="0.5"/>
<rect x="140.00" y="120.26" width="4.6" height="4.6" fill="#D8F0B0" opacity="0.55"/>
<rect x="140.75" y="121.01" width="3.1" height="3.1" fill="#B4E4A4" stroke="#0A6E2A" stroke-width="0.7"/>
<path d="M140.80 121.06L143.80 124.06M143.80 121.06L140.80 124.06" stroke="#07601F" stroke-width="1.05" fill="none"/>
<circle cx="157.80" cy="122.56" r="1.5" fill="#E4F090" stroke="#2020E4" stroke-width="1.05"/>
<circle cx="157.8" cy="127.32" r="2.5" fill="#E6F29A" opacity="0.5"/>
<rect x="140.00" y="125.02" width="4.6" height="4.6" fill="#D8F0B0" opacity="0.55"/>
<rect x="140.75" y="125.77" width="3.1" height="3.1" fill="#B4E4A4" stroke="#0A6E2A" stroke-width="0.7"/>
<path d="M140.80 125.82L143.80 128.82M143.80 125.82L140.80 128.82" stroke="#07601F" stroke-width="1.05" fill="none"/>
<circle cx="157.80" cy="127.32" r="1.5" fill="#E4F090" stroke="#2020E4" stroke-width="1.05"/>
<circle cx="157.8" cy="132.08" r="2.5" fill="#E6F29A" opacity="0.5"/>
<rect x="140.00" y="129.78" width="4.6" height="4.6" fill="#D8F0B0" opacity="0.55"/>
<rect x="140.75" y="130.53" width="3.1" height="3.1" fill="#B4E4A4" stroke="#0A6E2A" stroke-width="0.7"/>
<path d="M140.80 130.58L143.80 133.58M143.80 130.58L140.80 133.58" stroke="#07601F" stroke-width="1.05" fill="none"/>
<circle cx="157.80" cy="132.08" r="1.5" fill="#E4F090" stroke="#2020E4" stroke-width="1.05"/>
<circle cx="157.8" cy="136.84" r="2.5" fill="#E6F29A" opacity="0.5"/>
<rect x="140.00" y="134.54" width="4.6" height="4.6" fill="#D8F0B0" opacity="0.55"/>
<rect x="140.75" y="135.29" width="3.1" height="3.1" fill="#B4E4A4" stroke="#0A6E2A" stroke-width="0.7"/>
<path d="M140.80 135.34L143.80 138.34M143.80 135.34L140.80 138.34" stroke="#07601F" stroke-width="1.05" fill="none"/>
<circle cx="157.80" cy="136.84" r="1.5" fill="#E4F090" stroke="#2020E4" stroke-width="1.05"/>
<circle cx="157.8" cy="141.60" r="2.5" fill="#E6F29A" opacity="0.5"/>
<rect x="140.00" y="139.30" width="4.6" height="4.6" fill="#D8F0B0" opacity="0.55"/>
<rect x="140.75" y="140.05" width="3.1" height="3.1" fill="#B4E4A4" stroke="#0A6E2A" stroke-width="0.7"/>
<path d="M140.80 140.10L143.80 143.10M143.80 140.10L140.80 143.10" stroke="#07601F" stroke-width="1.05" fill="none"/>
<circle cx="157.80" cy="141.60" r="1.5" fill="#E4F090" stroke="#2020E4" stroke-width="1.05"/>
<circle cx="157.8" cy="146.36" r="2.5" fill="#E6F29A" opacity="0.5"/>
<rect x="140.00" y="144.06" width="4.6" height="4.6" fill="#D8F0B0" opacity="0.55"/>
<rect x="140.75" y="144.81" width="3.1" height="3.1" fill="#B4E4A4" stroke="#0A6E2A" stroke-width="0.7"/>
<path d="M140.80 144.86L143.80 147.86M143.80 144.86L140.80 147.86" stroke="#07601F" stroke-width="1.05" fill="none"/>
<circle cx="157.80" cy="146.36" r="1.5" fill="#E4F090" stroke="#2020E4" stroke-width="1.05"/>
<circle cx="157.8" cy="151.12" r="2.5" fill="#E6F29A" opacity="0.5"/>
<rect x="140.00" y="148.82" width="4.6" height="4.6" fill="#D8F0B0" opacity="0.55"/>
<rect x="140.75" y="149.57" width="3.1" height="3.1" fill="#B4E4A4" stroke="#0A6E2A" stroke-width="0.7"/>
<path d="M140.80 149.62L143.80 152.62M143.80 149.62L140.80 152.62" stroke="#07601F" stroke-width="1.05" fill="none"/>
<circle cx="157.80" cy="151.12" r="1.5" fill="#E4F090" stroke="#2020E4" stroke-width="1.05"/>
<circle cx="157.8" cy="155.88" r="2.5" fill="#E6F29A" opacity="0.5"/>
<rect x="140.00" y="153.58" width="4.6" height="4.6" fill="#D8F0B0" opacity="0.55"/>
<rect x="140.75" y="154.33" width="3.1" height="3.1" fill="#B4E4A4" stroke="#0A6E2A" stroke-width="0.7"/>
<path d="M140.80 154.38L143.80 157.38M143.80 154.38L140.80 157.38" stroke="#07601F" stroke-width="1.05" fill="none"/>
<circle cx="157.80" cy="155.88" r="1.5" fill="#E4F090" stroke="#2020E4" stroke-width="1.05"/>
<circle cx="157.8" cy="160.64" r="2.5" fill="#E6F29A" opacity="0.5"/>
<rect x="140.00" y="158.34" width="4.6" height="4.6" fill="#D8F0B0" opacity="0.55"/>
<rect x="140.75" y="159.09" width="3.1" height="3.1" fill="#B4E4A4" stroke="#0A6E2A" stroke-width="0.7"/>
<path d="M140.80 159.14L143.80 162.14M143.80 159.14L140.80 162.14" stroke="#07601F" stroke-width="1.05" fill="none"/>
<circle cx="157.80" cy="160.64" r="1.5" fill="#E4F090" stroke="#2020E4" stroke-width="1.05"/>
<circle cx="157.8" cy="165.40" r="2.5" fill="#E6F29A" opacity="0.5"/>
<rect x="140.00" y="163.10" width="4.6" height="4.6" fill="#D8F0B0" opacity="0.55"/>
<rect x="140.75" y="163.85" width="3.1" height="3.1" fill="#B4E4A4" stroke="#0A6E2A" stroke-width="0.7"/>
<path d="M140.80 163.90L143.80 166.90M143.80 163.90L140.80 166.90" stroke="#07601F" stroke-width="1.05" fill="none"/>
<circle cx="157.80" cy="165.40" r="1.5" fill="#E4F090" stroke="#2020E4" stroke-width="1.05"/>
<circle cx="157.8" cy="170.16" r="2.5" fill="#E6F29A" opacity="0.5"/>
<rect x="140.00" y="167.86" width="4.6" height="4.6" fill="#D8F0B0" opacity="0.55"/>
<rect x="140.75" y="168.61" width="3.1" height="3.1" fill="#B4E4A4" stroke="#0A6E2A" stroke-width="0.7"/>
<path d="M140.80 168.66L143.80 171.66M143.80 168.66L140.80 171.66" stroke="#07601F" stroke-width="1.05" fill="none"/>
<circle cx="157.80" cy="170.16" r="1.5" fill="#E4F090" stroke="#2020E4" stroke-width="1.05"/>
<circle cx="157.8" cy="174.92" r="2.5" fill="#E6F29A" opacity="0.5"/>
<rect x="140.00" y="172.62" width="4.6" height="4.6" fill="#D8F0B0" opacity="0.55"/>
<rect x="140.75" y="173.37" width="3.1" height="3.1" fill="#B4E4A4" stroke="#0A6E2A" stroke-width="0.7"/>
<path d="M140.80 173.42L143.80 176.42M143.80 173.42L140.80 176.42" stroke="#07601F" stroke-width="1.05" fill="none"/>
<circle cx="157.80" cy="174.92" r="1.5" fill="#E4F090" stroke="#2020E4" stroke-width="1.05"/>
<circle cx="157.8" cy="179.68" r="2.5" fill="#E6F29A" opacity="0.5"/>
<rect x="140.00" y="177.38" width="4.6" height="4.6" fill="#D8F0B0" opacity="0.55"/>
<rect x="140.75" y="178.13" width="3.1" height="3.1" fill="#B4E4A4" stroke="#0A6E2A" stroke-width="0.7"/>
<path d="M140.80 178.18L143.80 181.18M143.80 178.18L140.80 181.18" stroke="#07601F" stroke-width="1.05" fill="none"/>
<circle cx="157.80" cy="179.68" r="1.5" fill="#E4F090" stroke="#2020E4" stroke-width="1.05"/>
<rect x="140.75" y="182.89" width="3.1" height="3.1" fill="#B4E4A4" stroke="#0A6E2A" stroke-width="0.7"/>
<path d="M140.80 182.94L143.80 185.94M143.80 182.94L140.80 185.94" stroke="#07601F" stroke-width="1.05" fill="none"/>
<circle cx="142.30" cy="184.44" r="1.5" fill="#0B5A3A" stroke="#2020E4" stroke-width="1.05"/>
<rect x="140.75" y="187.65" width="3.1" height="3.1" fill="#B4E4A4" stroke="#0A6E2A" stroke-width="0.7"/>
<path d="M140.80 187.70L143.80 190.70M143.80 187.70L140.80 190.70" stroke="#07601F" stroke-width="1.05" fill="none"/>
<circle cx="142.30" cy="189.20" r="1.5" fill="#0B5A3A" stroke="#2020E4" stroke-width="1.05"/>
<circle cx="157.8" cy="193.96" r="2.5" fill="#E6F29A" opacity="0.5"/>
<rect x="140.00" y="191.66" width="4.6" height="4.6" fill="#D8F0B0" opacity="0.55"/>
<rect x="140.75" y="192.41" width="3.1" height="3.1" fill="#B4E4A4" stroke="#0A6E2A" stroke-width="0.7"/>
<path d="M140.80 192.46L143.80 195.46M143.80 192.46L140.80 195.46" stroke="#07601F" stroke-width="1.05" fill="none"/>
<circle cx="157.80" cy="193.96" r="1.5" fill="#E4F090" stroke="#2020E4" stroke-width="1.05"/>
<circle cx="157.8" cy="198.72" r="2.5" fill="#E6F29A" opacity="0.5"/>
<rect x="140.00" y="196.42" width="4.6" height="4.6" fill="#D8F0B0" opacity="0.55"/>
<rect x="140.75" y="197.17" width="3.1" height="3.1" fill="#B4E4A4" stroke="#0A6E2A" stroke-width="0.7"/>
<path d="M140.80 197.22L143.80 200.22M143.80 197.22L140.80 200.22" stroke="#07601F" stroke-width="1.05" fill="none"/>
<circle cx="157.80" cy="198.72" r="1.5" fill="#E4F090" stroke="#2020E4" stroke-width="1.05"/>
<circle cx="157.8" cy="203.48" r="2.5" fill="#E6F29A" opacity="0.5"/>
<rect x="140.00" y="201.18" width="4.6" height="4.6" fill="#D8F0B0" opacity="0.55"/>
<rect x="140.75" y="201.93" width="3.1" height="3.1" fill="#B4E4A4" stroke="#0A6E2A" stroke-width="0.7"/>
<path d="M140.80 201.98L143.80 204.98M143.80 201.98L140.80 204.98" stroke="#07601F" stroke-width="1.05" fill="none"/>
<circle cx="157.80" cy="203.48" r="1.5" fill="#E4F090" stroke="#2020E4" stroke-width="1.05"/>
<circle cx="157.8" cy="208.24" r="2.5" fill="#E6F29A" opacity="0.5"/>
<rect x="140.00" y="205.94" width="4.6" height="4.6" fill="#D8F0B0" opacity="0.55"/>
<rect x="140.75" y="206.69" width="3.1" height="3.1" fill="#B4E4A4" stroke="#0A6E2A" stroke-width="0.7"/>
<path d="M140.80 206.74L143.80 209.74M143.80 206.74L140.80 209.74" stroke="#07601F" stroke-width="1.05" fill="none"/>
<circle cx="157.80" cy="208.24" r="1.5" fill="#E4F090" stroke="#2020E4" stroke-width="1.05"/>
<circle cx="157.8" cy="213.00" r="2.5" fill="#E6F29A" opacity="0.5"/>
<rect x="140.00" y="210.70" width="4.6" height="4.6" fill="#D8F0B0" opacity="0.55"/>
<rect x="140.75" y="211.45" width="3.1" height="3.1" fill="#B4E4A4" stroke="#0A6E2A" stroke-width="0.7"/>
<path d="M140.80 211.50L143.80 214.50M143.80 211.50L140.80 214.50" stroke="#07601F" stroke-width="1.05" fill="none"/>
<circle cx="157.80" cy="213.00" r="1.5" fill="#E4F090" stroke="#2020E4" stroke-width="1.05"/>
<circle cx="157.8" cy="217.76" r="2.5" fill="#E6F29A" opacity="0.5"/>
<rect x="140.00" y="215.46" width="4.6" height="4.6" fill="#D8F0B0" opacity="0.55"/>
<rect x="140.75" y="216.21" width="3.1" height="3.1" fill="#B4E4A4" stroke="#0A6E2A" stroke-width="0.7"/>
<path d="M140.80 216.26L143.80 219.26M143.80 216.26L140.80 219.26" stroke="#07601F" stroke-width="1.05" fill="none"/>
<circle cx="157.80" cy="217.76" r="1.5" fill="#E4F090" stroke="#2020E4" stroke-width="1.05"/>
<circle cx="157.8" cy="222.52" r="2.5" fill="#E6F29A" opacity="0.5"/>
<rect x="140.00" y="220.22" width="4.6" height="4.6" fill="#D8F0B0" opacity="0.55"/>
<rect x="140.75" y="220.97" width="3.1" height="3.1" fill="#B4E4A4" stroke="#0A6E2A" stroke-width="0.7"/>
<path d="M140.80 221.02L143.80 224.02M143.80 221.02L140.80 224.02" stroke="#07601F" stroke-width="1.05" fill="none"/>
<circle cx="157.80" cy="222.52" r="1.5" fill="#E4F090" stroke="#2020E4" stroke-width="1.05"/>
<circle cx="157.8" cy="227.28" r="2.5" fill="#E6F29A" opacity="0.5"/>
<rect x="140.00" y="224.98" width="4.6" height="4.6" fill="#D8F0B0" opacity="0.55"/>
<rect x="140.75" y="225.73" width="3.1" height="3.1" fill="#B4E4A4" stroke="#0A6E2A" stroke-width="0.7"/>
<path d="M140.80 225.78L143.80 228.78M143.80 225.78L140.80 228.78" stroke="#07601F" stroke-width="1.05" fill="none"/>
<circle cx="157.80" cy="227.28" r="1.5" fill="#E4F090" stroke="#2020E4" stroke-width="1.05"/>
<circle cx="157.8" cy="232.04" r="2.5" fill="#E6F29A" opacity="0.5"/>
<rect x="140.00" y="229.74" width="4.6" height="4.6" fill="#D8F0B0" opacity="0.55"/>
<rect x="140.75" y="230.49" width="3.1" height="3.1" fill="#B4E4A4" stroke="#0A6E2A" stroke-width="0.7"/>
<path d="M140.80 230.54L143.80 233.54M143.80 230.54L140.80 233.54" stroke="#07601F" stroke-width="1.05" fill="none"/>
<circle cx="157.80" cy="232.04" r="1.5" fill="#E4F090" stroke="#2020E4" stroke-width="1.05"/>
<rect x="137.30" y="88.40" width="32.70" height="148.70" fill="none" stroke="#5a5a4a" stroke-width="0.5"/>
<rect x="175.60" y="88.40" width="32.40" height="148.70" fill="#A3DA9E" />
<line x1="175.60" y1="236.10" x2="175.60" y2="237.10" stroke="#222" stroke-width="0.4" />
<text x="175.60" y="242.00" font-size="3.7" text-anchor="middle" font-weight="bold" font-style="normal" fill="#000" font-family="Liberation Serif, serif" >0.5</text>
<line x1="186.40" y1="236.10" x2="186.40" y2="237.10" stroke="#222" stroke-width="0.4" />
<text x="186.40" y="242.00" font-size="3.7" text-anchor="middle" font-weight="bold" font-style="normal" fill="#000" font-family="Liberation Serif, serif" >1.0</text>
<line x1="197.20" y1="236.10" x2="197.20" y2="237.10" stroke="#222" stroke-width="0.4" />
<text x="197.20" y="242.00" font-size="3.7" text-anchor="middle" font-weight="bold" font-style="normal" fill="#000" font-family="Liberation Serif, serif" >1.5</text>
<line x1="208.00" y1="236.10" x2="208.00" y2="237.10" stroke="#222" stroke-width="0.4" />
<text x="208.00" y="242.00" font-size="3.7" text-anchor="middle" font-weight="bold" font-style="normal" fill="#000" font-family="Liberation Serif, serif" >2.0</text>
<line x1="175.60" y1="237.10" x2="176.50" y2="237.10" stroke="#222" stroke-width="0.4" />
<line x1="207.10" y1="237.10" x2="208.00" y2="237.10" stroke="#222" stroke-width="0.4" />
<line x1="175.60" y1="222.23" x2="176.50" y2="222.23" stroke="#222" stroke-width="0.4" />
<line x1="207.10" y1="222.23" x2="208.00" y2="222.23" stroke="#222" stroke-width="0.4" />
<line x1="175.60" y1="207.36" x2="176.50" y2="207.36" stroke="#222" stroke-width="0.4" />
<line x1="207.10" y1="207.36" x2="208.00" y2="207.36" stroke="#222" stroke-width="0.4" />
<line x1="175.60" y1="192.49" x2="176.50" y2="192.49" stroke="#222" stroke-width="0.4" />
<line x1="207.10" y1="192.49" x2="208.00" y2="192.49" stroke="#222" stroke-width="0.4" />
<line x1="175.60" y1="177.62" x2="176.50" y2="177.62" stroke="#222" stroke-width="0.4" />
<line x1="207.10" y1="177.62" x2="208.00" y2="177.62" stroke="#222" stroke-width="0.4" />
<line x1="175.60" y1="162.75" x2="176.50" y2="162.75" stroke="#222" stroke-width="0.4" />
<line x1="207.10" y1="162.75" x2="208.00" y2="162.75" stroke="#222" stroke-width="0.4" />
<line x1="175.60" y1="147.88" x2="176.50" y2="147.88" stroke="#222" stroke-width="0.4" />
<line x1="207.10" y1="147.88" x2="208.00" y2="147.88" stroke="#222" stroke-width="0.4" />
<line x1="175.60" y1="133.01" x2="176.50" y2="133.01" stroke="#222" stroke-width="0.4" />
<line x1="207.10" y1="133.01" x2="208.00" y2="133.01" stroke="#222" stroke-width="0.4" />
<line x1="175.60" y1="118.14" x2="176.50" y2="118.14" stroke="#222" stroke-width="0.4" />
<line x1="207.10" y1="118.14" x2="208.00" y2="118.14" stroke="#222" stroke-width="0.4" />
<line x1="175.60" y1="103.27" x2="176.50" y2="103.27" stroke="#222" stroke-width="0.4" />
<line x1="207.10" y1="103.27" x2="208.00" y2="103.27" stroke="#222" stroke-width="0.4" />
<line x1="175.60" y1="88.40" x2="176.50" y2="88.40" stroke="#222" stroke-width="0.4" />
<line x1="207.10" y1="88.40" x2="208.00" y2="88.40" stroke="#222" stroke-width="0.4" />
<text x="191.80" y="246.30" font-size="4.5" text-anchor="middle" font-weight="bold" font-style="italic" fill="#000" font-family="Liberation Serif, serif" >f (Hz)</text>
<rect x="178.40" y="91.70" width="4.6" height="4.6" fill="#D8F0B0" opacity="0.55"/>
<rect x="179.15" y="92.45" width="3.1" height="3.1" fill="#B4E4A4" stroke="#0A6E2A" stroke-width="0.7"/>
<path d="M179.20 92.50L182.20 95.50M182.20 92.50L179.20 95.50" stroke="#07601F" stroke-width="1.05" fill="none"/>
<circle cx="195.80" cy="94.00" r="1.85" fill="#F01414"/><circle cx="196.20" cy="93.50" r="0.5" fill="#FF9C90"/>
<rect x="178.40" y="96.46" width="4.6" height="4.6" fill="#D8F0B0" opacity="0.55"/>
<rect x="179.15" y="97.21" width="3.1" height="3.1" fill="#B4E4A4" stroke="#0A6E2A" stroke-width="0.7"/>
<path d="M179.20 97.26L182.20 100.26M182.20 97.26L179.20 100.26" stroke="#07601F" stroke-width="1.05" fill="none"/>
<circle cx="195.80" cy="98.76" r="1.85" fill="#F01414"/><circle cx="196.20" cy="98.26" r="0.5" fill="#FF9C90"/>
<rect x="178.40" y="101.22" width="4.6" height="4.6" fill="#D8F0B0" opacity="0.55"/>
<rect x="179.15" y="101.97" width="3.1" height="3.1" fill="#B4E4A4" stroke="#0A6E2A" stroke-width="0.7"/>
<path d="M179.20 102.02L182.20 105.02M182.20 102.02L179.20 105.02" stroke="#07601F" stroke-width="1.05" fill="none"/>
<circle cx="195.80" cy="103.52" r="1.85" fill="#F01414"/><circle cx="196.20" cy="103.02" r="0.5" fill="#FF9C90"/>
<rect x="178.40" y="105.98" width="4.6" height="4.6" fill="#D8F0B0" opacity="0.55"/>
<rect x="179.15" y="106.73" width="3.1" height="3.1" fill="#B4E4A4" stroke="#0A6E2A" stroke-width="0.7"/>
<path d="M179.20 106.78L182.20 109.78M182.20 106.78L179.20 109.78" stroke="#07601F" stroke-width="1.05" fill="none"/>
<circle cx="195.80" cy="108.28" r="1.85" fill="#F01414"/><circle cx="196.20" cy="107.78" r="0.5" fill="#FF9C90"/>
<rect x="178.40" y="110.74" width="4.6" height="4.6" fill="#D8F0B0" opacity="0.55"/>
<rect x="179.15" y="111.49" width="3.1" height="3.1" fill="#B4E4A4" stroke="#0A6E2A" stroke-width="0.7"/>
<path d="M179.20 111.54L182.20 114.54M182.20 111.54L179.20 114.54" stroke="#07601F" stroke-width="1.05" fill="none"/>
<circle cx="195.80" cy="113.04" r="1.85" fill="#F01414"/><circle cx="196.20" cy="112.54" r="0.5" fill="#FF9C90"/>
<rect x="178.40" y="115.50" width="4.6" height="4.6" fill="#D8F0B0" opacity="0.55"/>
<rect x="179.15" y="116.25" width="3.1" height="3.1" fill="#B4E4A4" stroke="#0A6E2A" stroke-width="0.7"/>
<path d="M179.20 116.30L182.20 119.30M182.20 116.30L179.20 119.30" stroke="#07601F" stroke-width="1.05" fill="none"/>
<circle cx="195.80" cy="117.80" r="1.85" fill="#F01414"/><circle cx="196.20" cy="117.30" r="0.5" fill="#FF9C90"/>
<rect x="178.40" y="120.26" width="4.6" height="4.6" fill="#D8F0B0" opacity="0.55"/>
<rect x="179.15" y="121.01" width="3.1" height="3.1" fill="#B4E4A4" stroke="#0A6E2A" stroke-width="0.7"/>
<path d="M179.20 121.06L182.20 124.06M182.20 121.06L179.20 124.06" stroke="#07601F" stroke-width="1.05" fill="none"/>
<circle cx="195.80" cy="122.56" r="1.85" fill="#F01414"/><circle cx="196.20" cy="122.06" r="0.5" fill="#FF9C90"/>
<rect x="178.40" y="125.02" width="4.6" height="4.6" fill="#D8F0B0" opacity="0.55"/>
<rect x="179.15" y="125.77" width="3.1" height="3.1" fill="#B4E4A4" stroke="#0A6E2A" stroke-width="0.7"/>
<path d="M179.20 125.82L182.20 128.82M182.20 125.82L179.20 128.82" stroke="#07601F" stroke-width="1.05" fill="none"/>
<circle cx="195.80" cy="127.32" r="1.85" fill="#F01414"/><circle cx="196.20" cy="126.82" r="0.5" fill="#FF9C90"/>
<rect x="178.40" y="129.78" width="4.6" height="4.6" fill="#D8F0B0" opacity="0.55"/>
<rect x="179.15" y="130.53" width="3.1" height="3.1" fill="#B4E4A4" stroke="#0A6E2A" stroke-width="0.7"/>
<path d="M179.20 130.58L182.20 133.58M182.20 130.58L179.20 133.58" stroke="#07601F" stroke-width="1.05" fill="none"/>
<circle cx="195.80" cy="132.08" r="1.85" fill="#F01414"/><circle cx="196.20" cy="131.58" r="0.5" fill="#FF9C90"/>
<rect x="178.40" y="134.54" width="4.6" height="4.6" fill="#D8F0B0" opacity="0.55"/>
<rect x="179.15" y="135.29" width="3.1" height="3.1" fill="#B4E4A4" stroke="#0A6E2A" stroke-width="0.7"/>
<path d="M179.20 135.34L182.20 138.34M182.20 135.34L179.20 138.34" stroke="#07601F" stroke-width="1.05" fill="none"/>
<circle cx="195.80" cy="136.84" r="1.85" fill="#F01414"/><circle cx="196.20" cy="136.34" r="0.5" fill="#FF9C90"/>
<rect x="178.40" y="139.30" width="4.6" height="4.6" fill="#D8F0B0" opacity="0.55"/>
<rect x="179.15" y="140.05" width="3.1" height="3.1" fill="#B4E4A4" stroke="#0A6E2A" stroke-width="0.7"/>
<path d="M179.20 140.10L182.20 143.10M182.20 140.10L179.20 143.10" stroke="#07601F" stroke-width="1.05" fill="none"/>
<circle cx="195.80" cy="141.60" r="1.85" fill="#F01414"/><circle cx="196.20" cy="141.10" r="0.5" fill="#FF9C90"/>
<rect x="178.40" y="144.06" width="4.6" height="4.6" fill="#D8F0B0" opacity="0.55"/>
<rect x="179.15" y="144.81" width="3.1" height="3.1" fill="#B4E4A4" stroke="#0A6E2A" stroke-width="0.7"/>
<path d="M179.20 144.86L182.20 147.86M182.20 144.86L179.20 147.86" stroke="#07601F" stroke-width="1.05" fill="none"/>
<circle cx="195.80" cy="146.36" r="1.85" fill="#F01414"/><circle cx="196.20" cy="145.86" r="0.5" fill="#FF9C90"/>
<rect x="178.40" y="148.82" width="4.6" height="4.6" fill="#D8F0B0" opacity="0.55"/>
<rect x="179.15" y="149.57" width="3.1" height="3.1" fill="#B4E4A4" stroke="#0A6E2A" stroke-width="0.7"/>
<path d="M179.20 149.62L182.20 152.62M182.20 149.62L179.20 152.62" stroke="#07601F" stroke-width="1.05" fill="none"/>
<circle cx="195.80" cy="151.12" r="1.85" fill="#F01414"/><circle cx="196.20" cy="150.62" r="0.5" fill="#FF9C90"/>
<rect x="178.40" y="153.58" width="4.6" height="4.6" fill="#D8F0B0" opacity="0.55"/>
<rect x="179.15" y="154.33" width="3.1" height="3.1" fill="#B4E4A4" stroke="#0A6E2A" stroke-width="0.7"/>
<path d="M179.20 154.38L182.20 157.38M182.20 154.38L179.20 157.38" stroke="#07601F" stroke-width="1.05" fill="none"/>
<circle cx="195.80" cy="155.88" r="1.85" fill="#F01414"/><circle cx="196.20" cy="155.38" r="0.5" fill="#FF9C90"/>
<rect x="178.40" y="158.34" width="4.6" height="4.6" fill="#D8F0B0" opacity="0.55"/>
<rect x="179.15" y="159.09" width="3.1" height="3.1" fill="#B4E4A4" stroke="#0A6E2A" stroke-width="0.7"/>
<path d="M179.20 159.14L182.20 162.14M182.20 159.14L179.20 162.14" stroke="#07601F" stroke-width="1.05" fill="none"/>
<circle cx="195.80" cy="160.64" r="1.85" fill="#F01414"/><circle cx="196.20" cy="160.14" r="0.5" fill="#FF9C90"/>
<rect x="178.40" y="163.10" width="4.6" height="4.6" fill="#D8F0B0" opacity="0.55"/>
<rect x="179.15" y="163.85" width="3.1" height="3.1" fill="#B4E4A4" stroke="#0A6E2A" stroke-width="0.7"/>
<path d="M179.20 163.90L182.20 166.90M182.20 163.90L179.20 166.90" stroke="#07601F" stroke-width="1.05" fill="none"/>
<circle cx="195.80" cy="165.40" r="1.85" fill="#F01414"/><circle cx="196.20" cy="164.90" r="0.5" fill="#FF9C90"/>
<rect x="178.40" y="167.86" width="4.6" height="4.6" fill="#D8F0B0" opacity="0.55"/>
<rect x="179.15" y="168.61" width="3.1" height="3.1" fill="#B4E4A4" stroke="#0A6E2A" stroke-width="0.7"/>
<path d="M179.20 168.66L182.20 171.66M182.20 168.66L179.20 171.66" stroke="#07601F" stroke-width="1.05" fill="none"/>
<circle cx="195.80" cy="170.16" r="1.85" fill="#F01414"/><circle cx="196.20" cy="169.66" r="0.5" fill="#FF9C90"/>
<rect x="178.40" y="172.62" width="4.6" height="4.6" fill="#D8F0B0" opacity="0.55"/>
<rect x="179.15" y="173.37" width="3.1" height="3.1" fill="#B4E4A4" stroke="#0A6E2A" stroke-width="0.7"/>
<path d="M179.20 173.42L182.20 176.42M182.20 173.42L179.20 176.42" stroke="#07601F" stroke-width="1.05" fill="none"/>
<circle cx="195.80" cy="174.92" r="1.85" fill="#F01414"/><circle cx="196.20" cy="174.42" r="0.5" fill="#FF9C90"/>
<rect x="178.40" y="177.38" width="4.6" height="4.6" fill="#D8F0B0" opacity="0.55"/>
<rect x="179.15" y="178.13" width="3.1" height="3.1" fill="#B4E4A4" stroke="#0A6E2A" stroke-width="0.7"/>
<path d="M179.20 178.18L182.20 181.18M182.20 178.18L179.20 181.18" stroke="#07601F" stroke-width="1.05" fill="none"/>
<circle cx="195.80" cy="179.68" r="1.85" fill="#F01414"/><circle cx="196.20" cy="179.18" r="0.5" fill="#FF9C90"/>
<rect x="178.40" y="182.14" width="4.6" height="4.6" fill="#D8F0B0" opacity="0.55"/>
<rect x="179.15" y="182.89" width="3.1" height="3.1" fill="#B4E4A4" stroke="#0A6E2A" stroke-width="0.7"/>
<path d="M179.20 182.94L182.20 185.94M182.20 182.94L179.20 185.94" stroke="#07601F" stroke-width="1.05" fill="none"/>
<circle cx="195.80" cy="184.44" r="1.85" fill="#F01414"/><circle cx="196.20" cy="183.94" r="0.5" fill="#FF9C90"/>
<rect x="178.40" y="186.90" width="4.6" height="4.6" fill="#D8F0B0" opacity="0.55"/>
<rect x="179.15" y="187.65" width="3.1" height="3.1" fill="#B4E4A4" stroke="#0A6E2A" stroke-width="0.7"/>
<path d="M179.20 187.70L182.20 190.70M182.20 187.70L179.20 190.70" stroke="#07601F" stroke-width="1.05" fill="none"/>
<circle cx="195.80" cy="189.20" r="1.85" fill="#F01414"/><circle cx="196.20" cy="188.70" r="0.5" fill="#FF9C90"/>
<rect x="178.40" y="191.66" width="4.6" height="4.6" fill="#D8F0B0" opacity="0.55"/>
<rect x="179.15" y="192.41" width="3.1" height="3.1" fill="#B4E4A4" stroke="#0A6E2A" stroke-width="0.7"/>
<path d="M179.20 192.46L182.20 195.46M182.20 192.46L179.20 195.46" stroke="#07601F" stroke-width="1.05" fill="none"/>
<circle cx="195.80" cy="193.96" r="1.85" fill="#F01414"/><circle cx="196.20" cy="193.46" r="0.5" fill="#FF9C90"/>
<rect x="178.40" y="196.42" width="4.6" height="4.6" fill="#D8F0B0" opacity="0.55"/>
<rect x="179.15" y="197.17" width="3.1" height="3.1" fill="#B4E4A4" stroke="#0A6E2A" stroke-width="0.7"/>
<path d="M179.20 197.22L182.20 200.22M182.20 197.22L179.20 200.22" stroke="#07601F" stroke-width="1.05" fill="none"/>
<circle cx="195.80" cy="198.72" r="1.85" fill="#F01414"/><circle cx="196.20" cy="198.22" r="0.5" fill="#FF9C90"/>
<rect x="178.40" y="201.18" width="4.6" height="4.6" fill="#D8F0B0" opacity="0.55"/>
<rect x="179.15" y="201.93" width="3.1" height="3.1" fill="#B4E4A4" stroke="#0A6E2A" stroke-width="0.7"/>
<path d="M179.20 201.98L182.20 204.98M182.20 201.98L179.20 204.98" stroke="#07601F" stroke-width="1.05" fill="none"/>
<circle cx="195.80" cy="203.48" r="1.85" fill="#F01414"/><circle cx="196.20" cy="202.98" r="0.5" fill="#FF9C90"/>
<rect x="178.40" y="205.94" width="4.6" height="4.6" fill="#D8F0B0" opacity="0.55"/>
<rect x="179.15" y="206.69" width="3.1" height="3.1" fill="#B4E4A4" stroke="#0A6E2A" stroke-width="0.7"/>
<path d="M179.20 206.74L182.20 209.74M182.20 206.74L179.20 209.74" stroke="#07601F" stroke-width="1.05" fill="none"/>
<circle cx="195.80" cy="208.24" r="1.85" fill="#F01414"/><circle cx="196.20" cy="207.74" r="0.5" fill="#FF9C90"/>
<rect x="178.40" y="210.70" width="4.6" height="4.6" fill="#D8F0B0" opacity="0.55"/>
<rect x="179.15" y="211.45" width="3.1" height="3.1" fill="#B4E4A4" stroke="#0A6E2A" stroke-width="0.7"/>
<path d="M179.20 211.50L182.20 214.50M182.20 211.50L179.20 214.50" stroke="#07601F" stroke-width="1.05" fill="none"/>
<circle cx="195.80" cy="213.00" r="1.85" fill="#F01414"/><circle cx="196.20" cy="212.50" r="0.5" fill="#FF9C90"/>
<rect x="178.40" y="215.46" width="4.6" height="4.6" fill="#D8F0B0" opacity="0.55"/>
<rect x="179.15" y="216.21" width="3.1" height="3.1" fill="#B4E4A4" stroke="#0A6E2A" stroke-width="0.7"/>
<path d="M179.20 216.26L182.20 219.26M182.20 216.26L179.20 219.26" stroke="#07601F" stroke-width="1.05" fill="none"/>
<circle cx="195.80" cy="217.76" r="1.85" fill="#F01414"/><circle cx="196.20" cy="217.26" r="0.5" fill="#FF9C90"/>
<rect x="178.40" y="220.22" width="4.6" height="4.6" fill="#D8F0B0" opacity="0.55"/>
<rect x="179.15" y="220.97" width="3.1" height="3.1" fill="#B4E4A4" stroke="#0A6E2A" stroke-width="0.7"/>
<path d="M179.20 221.02L182.20 224.02M182.20 221.02L179.20 224.02" stroke="#07601F" stroke-width="1.05" fill="none"/>
<circle cx="195.80" cy="222.52" r="1.85" fill="#F01414"/><circle cx="196.20" cy="222.02" r="0.5" fill="#FF9C90"/>
<rect x="178.40" y="224.98" width="4.6" height="4.6" fill="#D8F0B0" opacity="0.55"/>
<rect x="179.15" y="225.73" width="3.1" height="3.1" fill="#B4E4A4" stroke="#0A6E2A" stroke-width="0.7"/>
<path d="M179.20 225.78L182.20 228.78M182.20 225.78L179.20 228.78" stroke="#07601F" stroke-width="1.05" fill="none"/>
<circle cx="195.80" cy="227.28" r="1.85" fill="#F01414"/><circle cx="196.20" cy="226.78" r="0.5" fill="#FF9C90"/>
<rect x="178.40" y="229.74" width="4.6" height="4.6" fill="#D8F0B0" opacity="0.55"/>
<rect x="179.15" y="230.49" width="3.1" height="3.1" fill="#B4E4A4" stroke="#0A6E2A" stroke-width="0.7"/>
<path d="M179.20 230.54L182.20 233.54M182.20 230.54L179.20 233.54" stroke="#07601F" stroke-width="1.05" fill="none"/>
<circle cx="195.80" cy="232.04" r="1.85" fill="#F01414"/><circle cx="196.20" cy="231.54" r="0.5" fill="#FF9C90"/>
<rect x="175.60" y="88.40" width="32.40" height="148.70" fill="none" stroke="#5a5a4a" stroke-width="0.5"/>
<line x1="207.00" y1="237.10" x2="208.00" y2="237.10" stroke="#222" stroke-width="0.4" />
<text x="209.00" y="238.65" font-size="3.6" text-anchor="start" font-weight="bold" font-style="normal" fill="#000" font-family="Liberation Serif, serif" >0.0</text>
<line x1="207.00" y1="222.23" x2="208.00" y2="222.23" stroke="#222" stroke-width="0.4" />
<text x="209.00" y="223.78" font-size="3.6" text-anchor="start" font-weight="bold" font-style="normal" fill="#000" font-family="Liberation Serif, serif" >0.1</text>
<line x1="207.00" y1="207.36" x2="208.00" y2="207.36" stroke="#222" stroke-width="0.4" />
<text x="209.00" y="208.91" font-size="3.6" text-anchor="start" font-weight="bold" font-style="normal" fill="#000" font-family="Liberation Serif, serif" >0.2</text>
<line x1="207.00" y1="192.49" x2="208.00" y2="192.49" stroke="#222" stroke-width="0.4" />
<text x="209.00" y="194.04" font-size="3.6" text-anchor="start" font-weight="bold" font-style="normal" fill="#000" font-family="Liberation Serif, serif" >0.3</text>
<line x1="207.00" y1="177.62" x2="208.00" y2="177.62" stroke="#222" stroke-width="0.4" />
<text x="209.00" y="179.17" font-size="3.6" text-anchor="start" font-weight="bold" font-style="normal" fill="#000" font-family="Liberation Serif, serif" >0.4</text>
<line x1="207.00" y1="162.75" x2="208.00" y2="162.75" stroke="#222" stroke-width="0.4" />
<text x="209.00" y="164.30" font-size="3.6" text-anchor="start" font-weight="bold" font-style="normal" fill="#000" font-family="Liberation Serif, serif" >0.5</text>
<line x1="207.00" y1="147.88" x2="208.00" y2="147.88" stroke="#222" stroke-width="0.4" />
<text x="209.00" y="149.43" font-size="3.6" text-anchor="start" font-weight="bold" font-style="normal" fill="#000" font-family="Liberation Serif, serif" >0.6</text>
<line x1="207.00" y1="133.01" x2="208.00" y2="133.01" stroke="#222" stroke-width="0.4" />
<text x="209.00" y="134.56" font-size="3.6" text-anchor="start" font-weight="bold" font-style="normal" fill="#000" font-family="Liberation Serif, serif" >0.7</text>
<line x1="207.00" y1="118.14" x2="208.00" y2="118.14" stroke="#222" stroke-width="0.4" />
<text x="209.00" y="119.69" font-size="3.6" text-anchor="start" font-weight="bold" font-style="normal" fill="#000" font-family="Liberation Serif, serif" >0.8</text>
<line x1="207.00" y1="103.27" x2="208.00" y2="103.27" stroke="#222" stroke-width="0.4" />
<text x="209.00" y="104.82" font-size="3.6" text-anchor="start" font-weight="bold" font-style="normal" fill="#000" font-family="Liberation Serif, serif" >0.9</text>
<line x1="207.00" y1="88.40" x2="208.00" y2="88.40" stroke="#222" stroke-width="0.4" />
<text x="209.00" y="89.95" font-size="3.6" text-anchor="start" font-weight="bold" font-style="normal" fill="#000" font-family="Liberation Serif, serif" >1.0</text>
<text transform="translate(218.40,162.2) rotate(-90)" font-size="3.6" font-weight="bold" font-style="italic" text-anchor="middle" font-family="Liberation Serif, serif">z/H</text>
<rect x="137.30" y="79.40" width="4.40" height="2.30" fill="#FBC994" />
<text x="143.20" y="81.70" font-size="3.42" text-anchor="start" font-weight="bold" font-style="normal" fill="#1010E0" font-family="Liberation Serif, serif" >Strong coupling</text>
<circle cx="139.10" cy="85.00" r="1.5" fill="#fff" stroke="#2020E4" stroke-width="1.05"/>
<text x="143.50" y="86.30" font-size="4.6" text-anchor="start" font-weight="bold" font-style="italic" fill="#000" font-family="Liberation Serif, serif" >f<tspan font-size="3.0" dy="0.9">ex</tspan></text>
<rect x="159.35" y="83.45" width="3.1" height="3.1" fill="#B4E4A4" stroke="#0A6E2A" stroke-width="0.7"/>
<path d="M159.40 83.50L162.40 86.50M162.40 83.50L159.40 86.50" stroke="#07601F" stroke-width="1.05" fill="none"/>
<text x="164.90" y="86.30" font-size="4.6" text-anchor="start" font-weight="bold" font-style="italic" fill="#000" font-family="Liberation Serif, serif" >f<tspan font-size="3.0" dy="0.9">xt</tspan></text>
<rect x="175.80" y="79.40" width="4.40" height="2.30" fill="#A3DA9E" />
<text x="181.70" y="81.70" font-size="3.42" text-anchor="start" font-weight="bold" font-style="normal" fill="#1010E0" font-family="Liberation Serif, serif" >Weak coupling</text>
<circle cx="177.80" cy="85.00" r="1.85" fill="#F01414"/><circle cx="178.20" cy="84.50" r="0.5" fill="#FF9C90"/>
<text x="182.00" y="86.30" font-size="4.6" text-anchor="start" font-weight="bold" font-style="italic" fill="#000" font-family="Liberation Serif, serif" >f<tspan font-size="3.0" dy="0.9">ey</tspan></text>
<rect x="196.25" y="83.45" width="3.1" height="3.1" fill="#B4E4A4" stroke="#0A6E2A" stroke-width="0.7"/>
<path d="M196.30 83.50L199.30 86.50M199.30 83.50L196.30 86.50" stroke="#07601F" stroke-width="1.05" fill="none"/>
<text x="201.80" y="86.30" font-size="4.6" text-anchor="start" font-weight="bold" font-style="italic" fill="#000" font-family="Liberation Serif, serif" >f<tspan font-size="3.0" dy="0.9">yt</tspan></text>
<line x1="223.80" y1="85.50" x2="223.80" y2="244.50" stroke="#2461D2" stroke-width="0.85" stroke-dasharray="2.7 2.1"/>
<rect x="245.40" y="88.40" width="33.00" height="148.70" fill="#fff" />
<line x1="239.00" y1="79.30" x2="243.00" y2="79.30" stroke="#F04040" stroke-width="0.9" />
<text x="244.50" y="80.30" font-size="4.1" text-anchor="start" font-weight="bold" font-style="italic" fill="#000" font-family="Liberation Serif, serif" >|Δφ<tspan font-size="2.8" dy="0.7">xy</tspan><tspan dy="-0.7">|</tspan><tspan font-size="2.8" dy="0.9">f<tspan font-size="2.2">ex</tspan></tspan></text>
<line x1="260.00" y1="79.30" x2="264.50" y2="79.30" stroke="#30B8F0" stroke-width="0.9" />
<text x="266.00" y="80.30" font-size="4.1" text-anchor="start" font-weight="bold" font-style="italic" fill="#000" font-family="Liberation Serif, serif" >|Δφ<tspan font-size="2.8" dy="0.7">xy</tspan><tspan dy="-0.7">|</tspan><tspan font-size="2.8" dy="0.9">f<tspan font-size="2.2">ey</tspan></tspan></text>
<circle cx="243.60" cy="83.60" r="1.5" fill="#fff" stroke="#2020E4" stroke-width="1.05"/>
<text x="247.60" y="84.60" font-size="4.1" text-anchor="start" font-weight="bold" font-style="italic" fill="#000" font-family="Liberation Serif, serif" >f<tspan font-size="2.7" dy="0.8">ex</tspan></text>
<circle cx="263.00" cy="83.60" r="1.85" fill="#F01414"/><circle cx="263.40" cy="83.10" r="0.5" fill="#FF9C90"/>
<text x="267.60" y="84.60" font-size="4.1" text-anchor="start" font-weight="bold" font-style="italic" fill="#000" font-family="Liberation Serif, serif" >f<tspan font-size="2.7" dy="0.8">ey</tspan></text>
<polyline points="276.40,93.50 276.00,100.00 276.60,104.00 276.00,108.00 276.80,116.00 277.20,122.00 276.20,128.00 277.00,134.00 276.40,142.00 276.20,150.00 277.00,160.00 276.20,166.00 270.40,179.40 274.00,186.00 275.60,191.00 276.80,198.00 277.00,225.00 276.00,232.00" fill="none" stroke="#30B8F0" stroke-width="1.1" stroke-linejoin="round"/>
<polyline points="251.80,93.50 252.40,100.00 251.00,104.00 250.40,110.00 251.60,116.00 251.80,120.00 246.80,127.00 251.40,133.50 250.20,137.00 250.00,144.00 251.00,146.50 262.00,148.50 272.00,150.20 275.60,153.50 277.00,158.00 277.20,166.00 275.20,170.50 276.80,176.00 277.00,182.00 275.00,187.00 270.00,190.50 262.00,193.00 254.00,196.00 249.60,198.50 247.20,203.00 246.60,209.00 247.40,213.00 246.60,218.00 246.60,232.00" fill="none" stroke="#E83030" stroke-width="0.9" stroke-linejoin="round"/>
<line x1="277.60" y1="89.40" x2="277.60" y2="236.10" stroke="#F8C0A0" stroke-width="0.6" opacity="0.8"/>
<circle cx="254.00" cy="94.00" r="2.05" fill="#2A1FD0"/><circle cx="254.00" cy="94.00" r="1.2" fill="#F01818"/><circle cx="254.35" cy="93.70" r="0.4" fill="#FFB8A8"/>
<circle cx="254.00" cy="98.76" r="2.05" fill="#2A1FD0"/><circle cx="254.00" cy="98.76" r="1.2" fill="#F01818"/><circle cx="254.35" cy="98.46" r="0.4" fill="#FFB8A8"/>
<circle cx="254.00" cy="103.52" r="2.05" fill="#2A1FD0"/><circle cx="254.00" cy="103.52" r="1.2" fill="#F01818"/><circle cx="254.35" cy="103.22" r="0.4" fill="#FFB8A8"/>
<circle cx="254.00" cy="108.28" r="2.05" fill="#2A1FD0"/><circle cx="254.00" cy="108.28" r="1.2" fill="#F01818"/><circle cx="254.35" cy="107.98" r="0.4" fill="#FFB8A8"/>
<circle cx="254.00" cy="113.04" r="2.05" fill="#2A1FD0"/><circle cx="254.00" cy="113.04" r="1.2" fill="#F01818"/><circle cx="254.35" cy="112.74" r="0.4" fill="#FFB8A8"/>
<circle cx="254.00" cy="117.80" r="2.05" fill="#2A1FD0"/><circle cx="254.00" cy="117.80" r="1.2" fill="#F01818"/><circle cx="254.35" cy="117.50" r="0.4" fill="#FFB8A8"/>
<circle cx="254.00" cy="122.56" r="2.05" fill="#2A1FD0"/><circle cx="254.00" cy="122.56" r="1.2" fill="#F01818"/><circle cx="254.35" cy="122.26" r="0.4" fill="#FFB8A8"/>
<circle cx="254.00" cy="127.32" r="2.05" fill="#2A1FD0"/><circle cx="254.00" cy="127.32" r="1.2" fill="#F01818"/><circle cx="254.35" cy="127.02" r="0.4" fill="#FFB8A8"/>
<circle cx="254.00" cy="132.08" r="2.05" fill="#2A1FD0"/><circle cx="254.00" cy="132.08" r="1.2" fill="#F01818"/><circle cx="254.35" cy="131.78" r="0.4" fill="#FFB8A8"/>
<circle cx="254.00" cy="136.84" r="2.05" fill="#2A1FD0"/><circle cx="254.00" cy="136.84" r="1.2" fill="#F01818"/><circle cx="254.35" cy="136.54" r="0.4" fill="#FFB8A8"/>
<circle cx="254.00" cy="141.60" r="2.05" fill="#2A1FD0"/><circle cx="254.00" cy="141.60" r="1.2" fill="#F01818"/><circle cx="254.35" cy="141.30" r="0.4" fill="#FFB8A8"/>
<circle cx="254.00" cy="146.36" r="2.05" fill="#2A1FD0"/><circle cx="254.00" cy="146.36" r="1.2" fill="#F01818"/><circle cx="254.35" cy="146.06" r="0.4" fill="#FFB8A8"/>
<circle cx="254.00" cy="151.12" r="2.05" fill="#2A1FD0"/><circle cx="254.00" cy="151.12" r="1.2" fill="#F01818"/><circle cx="254.35" cy="150.82" r="0.4" fill="#FFB8A8"/>
<circle cx="254.00" cy="155.88" r="2.05" fill="#2A1FD0"/><circle cx="254.00" cy="155.88" r="1.2" fill="#F01818"/><circle cx="254.35" cy="155.58" r="0.4" fill="#FFB8A8"/>
<circle cx="254.00" cy="160.64" r="2.05" fill="#2A1FD0"/><circle cx="254.00" cy="160.64" r="1.2" fill="#F01818"/><circle cx="254.35" cy="160.34" r="0.4" fill="#FFB8A8"/>
<circle cx="254.00" cy="165.40" r="2.05" fill="#2A1FD0"/><circle cx="254.00" cy="165.40" r="1.2" fill="#F01818"/><circle cx="254.35" cy="165.10" r="0.4" fill="#FFB8A8"/>
<circle cx="254.00" cy="170.16" r="2.05" fill="#2A1FD0"/><circle cx="254.00" cy="170.16" r="1.2" fill="#F01818"/><circle cx="254.35" cy="169.86" r="0.4" fill="#FFB8A8"/>
<circle cx="254.00" cy="174.92" r="2.05" fill="#2A1FD0"/><circle cx="254.00" cy="174.92" r="1.2" fill="#F01818"/><circle cx="254.35" cy="174.62" r="0.4" fill="#FFB8A8"/>
<circle cx="254.00" cy="179.68" r="2.05" fill="#2A1FD0"/><circle cx="254.00" cy="179.68" r="1.2" fill="#F01818"/><circle cx="254.35" cy="179.38" r="0.4" fill="#FFB8A8"/>
<circle cx="254.00" cy="184.44" r="2.05" fill="#2A1FD0"/><circle cx="254.00" cy="184.44" r="1.2" fill="#F01818"/><circle cx="254.35" cy="184.14" r="0.4" fill="#FFB8A8"/>
<circle cx="254.00" cy="189.20" r="2.05" fill="#2A1FD0"/><circle cx="254.00" cy="189.20" r="1.2" fill="#F01818"/><circle cx="254.35" cy="188.90" r="0.4" fill="#FFB8A8"/>
<circle cx="254.00" cy="193.96" r="1.85" fill="#F01414"/><circle cx="254.40" cy="193.46" r="0.5" fill="#FF9C90"/>
<circle cx="273.50" cy="193.96" r="1.5" fill="#fff" stroke="#2020E4" stroke-width="1.05"/>
<circle cx="254.00" cy="198.72" r="1.85" fill="#F01414"/><circle cx="254.40" cy="198.22" r="0.5" fill="#FF9C90"/>
<circle cx="273.50" cy="198.72" r="1.5" fill="#fff" stroke="#2020E4" stroke-width="1.05"/>
<circle cx="254.00" cy="203.48" r="2.05" fill="#2A1FD0"/><circle cx="254.00" cy="203.48" r="1.2" fill="#F01818"/><circle cx="254.35" cy="203.18" r="0.4" fill="#FFB8A8"/>
<circle cx="254.00" cy="208.24" r="2.05" fill="#2A1FD0"/><circle cx="254.00" cy="208.24" r="1.2" fill="#F01818"/><circle cx="254.35" cy="207.94" r="0.4" fill="#FFB8A8"/>
<circle cx="254.00" cy="213.00" r="2.05" fill="#2A1FD0"/><circle cx="254.00" cy="213.00" r="1.2" fill="#F01818"/><circle cx="254.35" cy="212.70" r="0.4" fill="#FFB8A8"/>
<circle cx="254.00" cy="217.76" r="2.05" fill="#2A1FD0"/><circle cx="254.00" cy="217.76" r="1.2" fill="#F01818"/><circle cx="254.35" cy="217.46" r="0.4" fill="#FFB8A8"/>
<circle cx="254.00" cy="222.52" r="1.5" fill="#fff" stroke="#2020E4" stroke-width="1.05"/>
<circle cx="273.50" cy="222.52" r="1.85" fill="#F01414"/><circle cx="273.90" cy="222.02" r="0.5" fill="#FF9C90"/>
<circle cx="254.00" cy="227.28" r="1.5" fill="#fff" stroke="#2020E4" stroke-width="1.05"/>
<circle cx="273.50" cy="227.28" r="1.85" fill="#F01414"/><circle cx="273.90" cy="226.78" r="0.5" fill="#FF9C90"/>
<circle cx="254.00" cy="232.04" r="1.5" fill="#fff" stroke="#2020E4" stroke-width="1.05"/>
<circle cx="273.50" cy="232.04" r="1.85" fill="#F01414"/><circle cx="273.90" cy="231.54" r="0.5" fill="#FF9C90"/>
<text x="260.60" y="113.60" font-size="3.1" text-anchor="middle" font-weight="bold" font-style="italic" fill="#000" font-family="Liberation Serif, serif" >1st</text>
<text x="260.60" y="151.60" font-size="3.1" text-anchor="middle" font-weight="bold" font-style="italic" fill="#000" font-family="Liberation Serif, serif" >13rd</text>
<text x="260.60" y="175.60" font-size="3.1" text-anchor="middle" font-weight="bold" font-style="italic" fill="#000" font-family="Liberation Serif, serif" >19th</text>
<text x="261.00" y="228.40" font-size="3.1" text-anchor="middle" font-weight="bold" font-style="italic" fill="#000" font-family="Liberation Serif, serif" >29th</text>
<rect x="245.40" y="88.40" width="33.00" height="148.70" fill="none" stroke="#b0b0b0" stroke-width="0.6"/>
<line x1="244.20" y1="237.10" x2="246.00" y2="237.10" stroke="#222" stroke-width="0.4" />
<text x="241.00" y="238.65" font-size="3.6" text-anchor="end" font-weight="bold" font-style="normal" fill="#000" font-family="Liberation Serif, serif" >0.0</text>
<line x1="244.20" y1="222.23" x2="246.00" y2="222.23" stroke="#222" stroke-width="0.4" />
<text x="241.00" y="223.78" font-size="3.6" text-anchor="end" font-weight="bold" font-style="normal" fill="#000" font-family="Liberation Serif, serif" >0.1</text>
<line x1="244.20" y1="207.36" x2="246.00" y2="207.36" stroke="#222" stroke-width="0.4" />
<text x="241.00" y="208.91" font-size="3.6" text-anchor="end" font-weight="bold" font-style="normal" fill="#000" font-family="Liberation Serif, serif" >0.2</text>
<line x1="244.20" y1="192.49" x2="246.00" y2="192.49" stroke="#222" stroke-width="0.4" />
<text x="241.00" y="194.04" font-size="3.6" text-anchor="end" font-weight="bold" font-style="normal" fill="#000" font-family="Liberation Serif, serif" >0.3</text>
<line x1="244.20" y1="177.62" x2="246.00" y2="177.62" stroke="#222" stroke-width="0.4" />
<text x="241.00" y="179.17" font-size="3.6" text-anchor="end" font-weight="bold" font-style="normal" fill="#000" font-family="Liberation Serif, serif" >0.4</text>
<line x1="244.20" y1="162.75" x2="246.00" y2="162.75" stroke="#222" stroke-width="0.4" />
<text x="241.00" y="164.30" font-size="3.6" text-anchor="end" font-weight="bold" font-style="normal" fill="#000" font-family="Liberation Serif, serif" >0.5</text>
<line x1="244.20" y1="147.88" x2="246.00" y2="147.88" stroke="#222" stroke-width="0.4" />
<text x="241.00" y="149.43" font-size="3.6" text-anchor="end" font-weight="bold" font-style="normal" fill="#000" font-family="Liberation Serif, serif" >0.6</text>
<line x1="244.20" y1="133.01" x2="246.00" y2="133.01" stroke="#222" stroke-width="0.4" />
<text x="241.00" y="134.56" font-size="3.6" text-anchor="end" font-weight="bold" font-style="normal" fill="#000" font-family="Liberation Serif, serif" >0.7</text>
<line x1="244.20" y1="118.14" x2="246.00" y2="118.14" stroke="#222" stroke-width="0.4" />
<text x="241.00" y="119.69" font-size="3.6" text-anchor="end" font-weight="bold" font-style="normal" fill="#000" font-family="Liberation Serif, serif" >0.8</text>
<line x1="244.20" y1="103.27" x2="246.00" y2="103.27" stroke="#222" stroke-width="0.4" />
<text x="241.00" y="104.82" font-size="3.6" text-anchor="end" font-weight="bold" font-style="normal" fill="#000" font-family="Liberation Serif, serif" >0.9</text>
<line x1="244.20" y1="88.40" x2="246.00" y2="88.40" stroke="#222" stroke-width="0.4" />
<text x="241.00" y="89.95" font-size="3.6" text-anchor="end" font-weight="bold" font-style="normal" fill="#000" font-family="Liberation Serif, serif" >1.0</text>
<text transform="translate(233.20,162.2) rotate(-90)" font-size="3.6" font-weight="bold" font-style="italic" text-anchor="middle" font-family="Liberation Serif, serif">z/H</text>
<line x1="245.40" y1="88.40" x2="245.40" y2="89.40" stroke="#222" stroke-width="0.4" />
<text x="245.40" y="87.10" font-size="3.3" text-anchor="middle" font-weight="bold" font-style="normal" fill="#000" font-family="Liberation Serif, serif" >1</text>
<line x1="256.40" y1="88.40" x2="256.40" y2="89.40" stroke="#222" stroke-width="0.4" />
<text x="256.40" y="87.10" font-size="3.3" text-anchor="middle" font-weight="bold" font-style="normal" fill="#000" font-family="Liberation Serif, serif" >2</text>
<line x1="267.40" y1="88.40" x2="267.40" y2="89.40" stroke="#222" stroke-width="0.4" />
<text x="267.40" y="87.10" font-size="3.3" text-anchor="middle" font-weight="bold" font-style="normal" fill="#000" font-family="Liberation Serif, serif" >3</text>
<line x1="278.40" y1="88.40" x2="278.40" y2="89.40" stroke="#222" stroke-width="0.4" />
<text x="278.40" y="87.10" font-size="3.3" text-anchor="middle" font-weight="bold" font-style="normal" fill="#000" font-family="Liberation Serif, serif" >4</text>
<line x1="245.40" y1="236.10" x2="245.40" y2="237.10" stroke="#222" stroke-width="0.4" />
<text x="245.40" y="242.00" font-size="3.7" text-anchor="middle" font-weight="bold" font-style="normal" fill="#000" font-family="Liberation Serif, serif" >0</text>
<line x1="261.90" y1="236.10" x2="261.90" y2="237.10" stroke="#222" stroke-width="0.4" />
<text x="261.90" y="242.00" font-size="3.7" text-anchor="middle" font-weight="bold" font-style="normal" fill="#000" font-family="Liberation Serif, serif" >90</text>
<line x1="278.40" y1="236.10" x2="278.40" y2="237.10" stroke="#222" stroke-width="0.4" />
<text x="278.40" y="242.00" font-size="3.7" text-anchor="middle" font-weight="bold" font-style="normal" fill="#000" font-family="Liberation Serif, serif" >180</text>
<text x="261.50" y="246.30" font-size="4.6" text-anchor="middle" font-weight="bold" font-style="italic" fill="#000" font-family="Liberation Serif, serif" >|Δφ<tspan font-size="2.6" dy="0.7">xy</tspan><tspan dy="-0.7">| (°)</tspan></text>
<rect x="284.30" y="88.40" width="35.40" height="8.03" fill="#1AA0E3" />
<rect x="284.30" y="96.38" width="35.40" height="4.81" fill="#1AA0E3" />
<rect x="284.30" y="101.14" width="35.40" height="4.81" fill="#1AA0E3" />
<rect x="284.30" y="105.90" width="35.40" height="4.81" fill="#1AA0E3" />
<rect x="284.30" y="110.66" width="35.40" height="4.81" fill="#1AA0E3" />
<rect x="284.30" y="115.42" width="35.40" height="4.81" fill="#1AA0E3" />
<rect x="284.30" y="120.18" width="35.40" height="4.81" fill="#1AA0E3" />
<rect x="284.30" y="124.94" width="35.40" height="4.81" fill="#1AA0E3" />
<rect x="284.30" y="129.70" width="35.40" height="4.81" fill="#1AA0E3" />
<rect x="284.30" y="134.46" width="35.40" height="4.81" fill="#1AA0E3" />
<rect x="284.30" y="139.22" width="35.40" height="4.81" fill="#1AA0E3" />
<rect x="284.30" y="143.98" width="35.40" height="4.81" fill="#1AA0E3" />
<rect x="284.30" y="148.74" width="35.40" height="4.81" fill="#1AA0E3" />
<rect x="284.30" y="153.50" width="35.40" height="4.81" fill="#F08482" />
<rect x="284.30" y="158.26" width="35.40" height="4.81" fill="#F08482" />
<rect x="284.30" y="163.02" width="35.40" height="4.81" fill="#F08482" />
<rect x="284.30" y="167.78" width="35.40" height="4.81" fill="#F08482" />
<rect x="284.30" y="172.54" width="35.40" height="4.81" fill="#F08482" />
<rect x="284.30" y="177.30" width="35.40" height="4.81" fill="#F08482" />
<rect x="284.30" y="182.06" width="35.40" height="4.81" fill="#F08482" />
<rect x="284.30" y="186.82" width="35.40" height="4.81" fill="#F08482" />
<rect x="284.30" y="191.58" width="35.40" height="4.81" fill="#D8D6D6" />
<rect x="284.30" y="196.34" width="35.40" height="4.81" fill="#D8D6D6" />
<rect x="284.30" y="201.10" width="35.40" height="4.81" fill="#1AA0E3" />
<rect x="284.30" y="205.86" width="35.40" height="4.81" fill="#1AA0E3" />
<rect x="284.30" y="210.62" width="35.40" height="4.81" fill="#1AA0E3" />
<rect x="284.30" y="215.38" width="35.40" height="4.81" fill="#1AA0E3" />
<rect x="284.30" y="220.14" width="35.40" height="4.81" fill="#D8D6D6" />
<rect x="284.30" y="224.90" width="35.40" height="4.81" fill="#D8D6D6" />
<rect x="284.30" y="229.66" width="35.40" height="7.49" fill="#D8D6D6" />
<line x1="284.30" y1="91.62" x2="319.70" y2="91.62" stroke="#0A4C80" stroke-width="0.45" opacity="0.75"/>
<line x1="284.30" y1="94.00" x2="319.70" y2="94.00" stroke="#0A4C80" stroke-width="0.4" opacity="0.4"/>
<line x1="284.30" y1="96.38" x2="319.70" y2="96.38" stroke="#0A4C80" stroke-width="0.45" opacity="0.75"/>
<line x1="284.30" y1="98.76" x2="319.70" y2="98.76" stroke="#0A4C80" stroke-width="0.4" opacity="0.4"/>
<line x1="284.30" y1="101.14" x2="319.70" y2="101.14" stroke="#0A4C80" stroke-width="0.45" opacity="0.75"/>
<line x1="284.30" y1="103.52" x2="319.70" y2="103.52" stroke="#0A4C80" stroke-width="0.4" opacity="0.4"/>
<line x1="284.30" y1="105.90" x2="319.70" y2="105.90" stroke="#0A4C80" stroke-width="0.45" opacity="0.75"/>
<line x1="284.30" y1="108.28" x2="319.70" y2="108.28" stroke="#0A4C80" stroke-width="0.4" opacity="0.4"/>
<line x1="284.30" y1="110.66" x2="319.70" y2="110.66" stroke="#0A4C80" stroke-width="0.45" opacity="0.75"/>
<line x1="284.30" y1="113.04" x2="319.70" y2="113.04" stroke="#0A4C80" stroke-width="0.4" opacity="0.4"/>
<line x1="284.30" y1="115.42" x2="319.70" y2="115.42" stroke="#0A4C80" stroke-width="0.45" opacity="0.75"/>
<line x1="284.30" y1="117.80" x2="319.70" y2="117.80" stroke="#0A4C80" stroke-width="0.4" opacity="0.4"/>
<line x1="284.30" y1="120.18" x2="319.70" y2="120.18" stroke="#0A4C80" stroke-width="0.45" opacity="0.75"/>
<line x1="284.30" y1="122.56" x2="319.70" y2="122.56" stroke="#0A4C80" stroke-width="0.4" opacity="0.4"/>
<line x1="284.30" y1="124.94" x2="319.70" y2="124.94" stroke="#0A4C80" stroke-width="0.45" opacity="0.75"/>
<line x1="284.30" y1="127.32" x2="319.70" y2="127.32" stroke="#0A4C80" stroke-width="0.4" opacity="0.4"/>
<line x1="284.30" y1="129.70" x2="319.70" y2="129.70" stroke="#0A4C80" stroke-width="0.45" opacity="0.75"/>
<line x1="284.30" y1="132.08" x2="319.70" y2="132.08" stroke="#0A4C80" stroke-width="0.4" opacity="0.4"/>
<line x1="284.30" y1="134.46" x2="319.70" y2="134.46" stroke="#0A4C80" stroke-width="0.45" opacity="0.75"/>
<line x1="284.30" y1="136.84" x2="319.70" y2="136.84" stroke="#0A4C80" stroke-width="0.4" opacity="0.4"/>
<line x1="284.30" y1="139.22" x2="319.70" y2="139.22" stroke="#0A4C80" stroke-width="0.45" opacity="0.75"/>
<line x1="284.30" y1="141.60" x2="319.70" y2="141.60" stroke="#0A4C80" stroke-width="0.4" opacity="0.4"/>
<line x1="284.30" y1="143.98" x2="319.70" y2="143.98" stroke="#0A4C80" stroke-width="0.45" opacity="0.75"/>
<line x1="284.30" y1="146.36" x2="319.70" y2="146.36" stroke="#0A4C80" stroke-width="0.4" opacity="0.4"/>
<line x1="284.30" y1="148.74" x2="319.70" y2="148.74" stroke="#0A4C80" stroke-width="0.45" opacity="0.75"/>
<line x1="284.30" y1="151.12" x2="319.70" y2="151.12" stroke="#0A4C80" stroke-width="0.4" opacity="0.4"/>
<line x1="284.30" y1="153.50" x2="319.70" y2="153.50" stroke="#8C4040" stroke-width="0.45" opacity="0.75"/>
<line x1="284.30" y1="155.88" x2="319.70" y2="155.88" stroke="#8C4040" stroke-width="0.4" opacity="0.4"/>
<line x1="284.30" y1="158.26" x2="319.70" y2="158.26" stroke="#8C4040" stroke-width="0.45" opacity="0.75"/>
<line x1="284.30" y1="160.64" x2="319.70" y2="160.64" stroke="#8C4040" stroke-width="0.4" opacity="0.4"/>
<line x1="284.30" y1="163.02" x2="319.70" y2="163.02" stroke="#8C4040" stroke-width="0.45" opacity="0.75"/>
<line x1="284.30" y1="165.40" x2="319.70" y2="165.40" stroke="#8C4040" stroke-width="0.4" opacity="0.4"/>
<line x1="284.30" y1="167.78" x2="319.70" y2="167.78" stroke="#8C4040" stroke-width="0.45" opacity="0.75"/>
<line x1="284.30" y1="170.16" x2="319.70" y2="170.16" stroke="#8C4040" stroke-width="0.4" opacity="0.4"/>
<line x1="284.30" y1="172.54" x2="319.70" y2="172.54" stroke="#8C4040" stroke-width="0.45" opacity="0.75"/>
<line x1="284.30" y1="174.92" x2="319.70" y2="174.92" stroke="#8C4040" stroke-width="0.4" opacity="0.4"/>
<line x1="284.30" y1="177.30" x2="319.70" y2="177.30" stroke="#8C4040" stroke-width="0.45" opacity="0.75"/>
<line x1="284.30" y1="179.68" x2="319.70" y2="179.68" stroke="#8C4040" stroke-width="0.4" opacity="0.4"/>
<line x1="284.30" y1="182.06" x2="319.70" y2="182.06" stroke="#8C4040" stroke-width="0.45" opacity="0.75"/>
<line x1="284.30" y1="184.44" x2="319.70" y2="184.44" stroke="#8C4040" stroke-width="0.4" opacity="0.4"/>
<line x1="284.30" y1="186.82" x2="319.70" y2="186.82" stroke="#8C4040" stroke-width="0.45" opacity="0.75"/>
<line x1="284.30" y1="189.20" x2="319.70" y2="189.20" stroke="#8C4040" stroke-width="0.4" opacity="0.4"/>
<line x1="284.30" y1="191.58" x2="319.70" y2="191.58" stroke="#777" stroke-width="0.45" opacity="0.75"/>
<line x1="284.30" y1="193.96" x2="319.70" y2="193.96" stroke="#777" stroke-width="0.4" opacity="0.4"/>
<line x1="284.30" y1="196.34" x2="319.70" y2="196.34" stroke="#777" stroke-width="0.45" opacity="0.75"/>
<line x1="284.30" y1="198.72" x2="319.70" y2="198.72" stroke="#777" stroke-width="0.4" opacity="0.4"/>
<line x1="284.30" y1="201.10" x2="319.70" y2="201.10" stroke="#0A4C80" stroke-width="0.45" opacity="0.75"/>
<line x1="284.30" y1="203.48" x2="319.70" y2="203.48" stroke="#0A4C80" stroke-width="0.4" opacity="0.4"/>
<line x1="284.30" y1="205.86" x2="319.70" y2="205.86" stroke="#0A4C80" stroke-width="0.45" opacity="0.75"/>
<line x1="284.30" y1="208.24" x2="319.70" y2="208.24" stroke="#0A4C80" stroke-width="0.4" opacity="0.4"/>
<line x1="284.30" y1="210.62" x2="319.70" y2="210.62" stroke="#0A4C80" stroke-width="0.45" opacity="0.75"/>
<line x1="284.30" y1="213.00" x2="319.70" y2="213.00" stroke="#0A4C80" stroke-width="0.4" opacity="0.4"/>
<line x1="284.30" y1="215.38" x2="319.70" y2="215.38" stroke="#0A4C80" stroke-width="0.45" opacity="0.75"/>
<line x1="284.30" y1="217.76" x2="319.70" y2="217.76" stroke="#0A4C80" stroke-width="0.4" opacity="0.4"/>
<line x1="284.30" y1="220.14" x2="319.70" y2="220.14" stroke="#777" stroke-width="0.45" opacity="0.75"/>
<line x1="284.30" y1="222.52" x2="319.70" y2="222.52" stroke="#777" stroke-width="0.4" opacity="0.4"/>
<line x1="284.30" y1="224.90" x2="319.70" y2="224.90" stroke="#777" stroke-width="0.45" opacity="0.75"/>
<line x1="284.30" y1="227.28" x2="319.70" y2="227.28" stroke="#777" stroke-width="0.4" opacity="0.4"/>
<line x1="284.30" y1="229.66" x2="319.70" y2="229.66" stroke="#777" stroke-width="0.45" opacity="0.75"/>
<line x1="284.30" y1="232.04" x2="319.70" y2="232.04" stroke="#777" stroke-width="0.4" opacity="0.4"/>
<line x1="284.30" y1="234.42" x2="319.70" y2="234.42" stroke="#777" stroke-width="0.45" opacity="0.75"/>
<line x1="284.30" y1="236.60" x2="319.70" y2="236.60" stroke="#777" stroke-width="0.6" stroke-dasharray="1.6 1.4" opacity="0.8"/>
<line x1="305.54" y1="91.62" x2="305.54" y2="96.38" stroke="#0A4C80" stroke-width="0.5" opacity="0.6"/>
<line x1="306.25" y1="96.38" x2="306.25" y2="101.14" stroke="#0A4C80" stroke-width="0.5" opacity="0.6"/>
<line x1="306.96" y1="101.14" x2="306.96" y2="105.90" stroke="#0A4C80" stroke-width="0.5" opacity="0.6"/>
<line x1="307.66" y1="105.90" x2="307.66" y2="110.66" stroke="#0A4C80" stroke-width="0.5" opacity="0.6"/>
<line x1="307.66" y1="110.66" x2="307.66" y2="115.42" stroke="#0A4C80" stroke-width="0.5" opacity="0.6"/>
<line x1="307.66" y1="115.42" x2="307.66" y2="120.18" stroke="#0A4C80" stroke-width="0.5" opacity="0.6"/>
<line x1="308.02" y1="120.18" x2="308.02" y2="124.94" stroke="#0A4C80" stroke-width="0.5" opacity="0.6"/>
<line x1="308.37" y1="124.94" x2="308.37" y2="129.70" stroke="#0A4C80" stroke-width="0.5" opacity="0.6"/>
<line x1="308.37" y1="129.70" x2="308.37" y2="134.46" stroke="#0A4C80" stroke-width="0.5" opacity="0.6"/>
<line x1="308.73" y1="134.46" x2="308.73" y2="139.22" stroke="#0A4C80" stroke-width="0.5" opacity="0.6"/>
<line x1="308.37" y1="139.22" x2="308.37" y2="143.98" stroke="#0A4C80" stroke-width="0.5" opacity="0.6"/>
<line x1="307.66" y1="143.98" x2="307.66" y2="148.74" stroke="#0A4C80" stroke-width="0.5" opacity="0.6"/>
<line x1="303.06" y1="148.74" x2="303.06" y2="153.50" stroke="#0A4C80" stroke-width="0.5" opacity="0.6"/>
<line x1="308.37" y1="153.50" x2="308.37" y2="158.26" stroke="#8C4040" stroke-width="0.5" opacity="0.6"/>
<line x1="305.54" y1="158.26" x2="305.54" y2="163.02" stroke="#8C4040" stroke-width="0.5" opacity="0.6"/>
<line x1="305.54" y1="163.02" x2="305.54" y2="167.78" stroke="#8C4040" stroke-width="0.5" opacity="0.6"/>
<line x1="307.66" y1="167.78" x2="307.66" y2="172.54" stroke="#8C4040" stroke-width="0.5" opacity="0.6"/>
<line x1="306.96" y1="172.54" x2="306.96" y2="177.30" stroke="#8C4040" stroke-width="0.5" opacity="0.6"/>
<line x1="306.25" y1="177.30" x2="306.25" y2="182.06" stroke="#8C4040" stroke-width="0.5" opacity="0.6"/>
<line x1="305.54" y1="182.06" x2="305.54" y2="186.82" stroke="#8C4040" stroke-width="0.5" opacity="0.6"/>
<line x1="304.83" y1="186.82" x2="304.83" y2="191.58" stroke="#8C4040" stroke-width="0.5" opacity="0.6"/>
<line x1="297.04" y1="191.58" x2="297.04" y2="196.34" stroke="#777" stroke-width="0.5" opacity="0.6"/>
<line x1="298.46" y1="196.34" x2="298.46" y2="201.10" stroke="#777" stroke-width="0.5" opacity="0.6"/>
<line x1="303.42" y1="201.10" x2="303.42" y2="205.86" stroke="#0A4C80" stroke-width="0.5" opacity="0.6"/>
<line x1="304.12" y1="205.86" x2="304.12" y2="210.62" stroke="#0A4C80" stroke-width="0.5" opacity="0.6"/>
<line x1="306.25" y1="210.62" x2="306.25" y2="215.38" stroke="#0A4C80" stroke-width="0.5" opacity="0.6"/>
<line x1="307.66" y1="215.38" x2="307.66" y2="220.14" stroke="#0A4C80" stroke-width="0.5" opacity="0.6"/>
<line x1="309.08" y1="220.14" x2="309.08" y2="224.90" stroke="#777" stroke-width="0.5" opacity="0.6"/>
<line x1="309.08" y1="224.90" x2="309.08" y2="229.66" stroke="#777" stroke-width="0.5" opacity="0.6"/>
<line x1="314.39" y1="229.66" x2="314.39" y2="234.42" stroke="#777" stroke-width="0.5" opacity="0.6"/>
<rect x="284.30" y="88.40" width="35.40" height="148.70" fill="none" stroke="#4a4a4a" stroke-width="0.45"/>
<line x1="284.30" y1="236.10" x2="284.30" y2="237.10" stroke="#222" stroke-width="0.4" />
<text x="284.30" y="242.00" font-size="3.7" text-anchor="middle" font-weight="bold" font-style="normal" fill="#000" font-family="Liberation Serif, serif" >0.0</text>
<line x1="302.00" y1="236.10" x2="302.00" y2="237.10" stroke="#222" stroke-width="0.4" />
<text x="302.00" y="242.00" font-size="3.7" text-anchor="middle" font-weight="bold" font-style="normal" fill="#000" font-family="Liberation Serif, serif" >0.5</text>
<line x1="319.70" y1="236.10" x2="319.70" y2="237.10" stroke="#222" stroke-width="0.4" />
<text x="319.70" y="242.00" font-size="3.7" text-anchor="middle" font-weight="bold" font-style="normal" fill="#000" font-family="Liberation Serif, serif" >1.0</text>
<line x1="284.30" y1="237.10" x2="285.20" y2="237.10" stroke="#222" stroke-width="0.4" />
<line x1="284.30" y1="222.23" x2="285.20" y2="222.23" stroke="#222" stroke-width="0.4" />
<line x1="284.30" y1="207.36" x2="285.20" y2="207.36" stroke="#222" stroke-width="0.4" />
<line x1="284.30" y1="192.49" x2="285.20" y2="192.49" stroke="#222" stroke-width="0.4" />
<line x1="284.30" y1="177.62" x2="285.20" y2="177.62" stroke="#222" stroke-width="0.4" />
<line x1="284.30" y1="162.75" x2="285.20" y2="162.75" stroke="#222" stroke-width="0.4" />
<line x1="284.30" y1="147.88" x2="285.20" y2="147.88" stroke="#222" stroke-width="0.4" />
<line x1="284.30" y1="133.01" x2="285.20" y2="133.01" stroke="#222" stroke-width="0.4" />
<line x1="284.30" y1="118.14" x2="285.20" y2="118.14" stroke="#222" stroke-width="0.4" />
<line x1="284.30" y1="103.27" x2="285.20" y2="103.27" stroke="#222" stroke-width="0.4" />
<line x1="284.30" y1="88.40" x2="285.20" y2="88.40" stroke="#222" stroke-width="0.4" />
<text x="302.00" y="246.00" font-size="4.4" text-anchor="middle" font-weight="bold" font-style="italic" fill="#000" font-family="Liberation Serif, serif" >w<tspan font-size="2.8" dy="0.8">x</tspan></text>
<rect x="325.70" y="88.40" width="35.80" height="8.03" fill="#1AA0E3" />
<rect x="325.70" y="96.38" width="35.80" height="4.81" fill="#1AA0E3" />
<rect x="325.70" y="101.14" width="35.80" height="4.81" fill="#1AA0E3" />
<rect x="325.70" y="105.90" width="35.80" height="4.81" fill="#1AA0E3" />
<rect x="325.70" y="110.66" width="35.80" height="4.81" fill="#1AA0E3" />
<rect x="325.70" y="115.42" width="35.80" height="4.81" fill="#1AA0E3" />
<rect x="325.70" y="120.18" width="35.80" height="4.81" fill="#1AA0E3" />
<rect x="325.70" y="124.94" width="35.80" height="4.81" fill="#1AA0E3" />
<rect x="325.70" y="129.70" width="35.80" height="4.81" fill="#1AA0E3" />
<rect x="325.70" y="134.46" width="35.80" height="4.81" fill="#1AA0E3" />
<rect x="325.70" y="139.22" width="35.80" height="4.81" fill="#1AA0E3" />
<rect x="325.70" y="143.98" width="35.80" height="4.81" fill="#1AA0E3" />
<rect x="325.70" y="148.74" width="35.80" height="4.81" fill="#1AA0E3" />
<rect x="325.70" y="153.50" width="35.80" height="4.81" fill="#F08482" />
<rect x="325.70" y="158.26" width="35.80" height="4.81" fill="#F08482" />
<rect x="325.70" y="163.02" width="35.80" height="4.81" fill="#F08482" />
<rect x="325.70" y="167.78" width="35.80" height="4.81" fill="#F08482" />
<rect x="325.70" y="172.54" width="35.80" height="4.81" fill="#F08482" />
<rect x="325.70" y="177.30" width="35.80" height="4.81" fill="#F08482" />
<rect x="325.70" y="182.06" width="35.80" height="4.81" fill="#F08482" />
<rect x="325.70" y="186.82" width="35.80" height="4.81" fill="#F08482" />
<rect x="325.70" y="191.58" width="35.80" height="4.81" fill="#D8D6D6" />
<rect x="325.70" y="196.34" width="35.80" height="4.81" fill="#D8D6D6" />
<rect x="325.70" y="201.10" width="35.80" height="4.81" fill="#1AA0E3" />
<rect x="325.70" y="205.86" width="35.80" height="4.81" fill="#1AA0E3" />
<rect x="325.70" y="210.62" width="35.80" height="4.81" fill="#1AA0E3" />
<rect x="325.70" y="215.38" width="35.80" height="4.81" fill="#1AA0E3" />
<rect x="325.70" y="220.14" width="35.80" height="4.81" fill="#D8D6D6" />
<rect x="325.70" y="224.90" width="35.80" height="4.81" fill="#D8D6D6" />
<rect x="325.70" y="229.66" width="35.80" height="7.49" fill="#D8D6D6" />
<line x1="325.70" y1="91.62" x2="361.50" y2="91.62" stroke="#0A4C80" stroke-width="0.45" opacity="0.75"/>
<line x1="325.70" y1="94.00" x2="361.50" y2="94.00" stroke="#0A4C80" stroke-width="0.4" opacity="0.4"/>
<line x1="325.70" y1="96.38" x2="361.50" y2="96.38" stroke="#0A4C80" stroke-width="0.45" opacity="0.75"/>
<line x1="325.70" y1="98.76" x2="361.50" y2="98.76" stroke="#0A4C80" stroke-width="0.4" opacity="0.4"/>
<line x1="325.70" y1="101.14" x2="361.50" y2="101.14" stroke="#0A4C80" stroke-width="0.45" opacity="0.75"/>
<line x1="325.70" y1="103.52" x2="361.50" y2="103.52" stroke="#0A4C80" stroke-width="0.4" opacity="0.4"/>
<line x1="325.70" y1="105.90" x2="361.50" y2="105.90" stroke="#0A4C80" stroke-width="0.45" opacity="0.75"/>
<line x1="325.70" y1="108.28" x2="361.50" y2="108.28" stroke="#0A4C80" stroke-width="0.4" opacity="0.4"/>
<line x1="325.70" y1="110.66" x2="361.50" y2="110.66" stroke="#0A4C80" stroke-width="0.45" opacity="0.75"/>
<line x1="325.70" y1="113.04" x2="361.50" y2="113.04" stroke="#0A4C80" stroke-width="0.4" opacity="0.4"/>
<line x1="325.70" y1="115.42" x2="361.50" y2="115.42" stroke="#0A4C80" stroke-width="0.45" opacity="0.75"/>
<line x1="325.70" y1="117.80" x2="361.50" y2="117.80" stroke="#0A4C80" stroke-width="0.4" opacity="0.4"/>
<line x1="325.70" y1="120.18" x2="361.50" y2="120.18" stroke="#0A4C80" stroke-width="0.45" opacity="0.75"/>
<line x1="325.70" y1="122.56" x2="361.50" y2="122.56" stroke="#0A4C80" stroke-width="0.4" opacity="0.4"/>
<line x1="325.70" y1="124.94" x2="361.50" y2="124.94" stroke="#0A4C80" stroke-width="0.45" opacity="0.75"/>
<line x1="325.70" y1="127.32" x2="361.50" y2="127.32" stroke="#0A4C80" stroke-width="0.4" opacity="0.4"/>
<line x1="325.70" y1="129.70" x2="361.50" y2="129.70" stroke="#0A4C80" stroke-width="0.45" opacity="0.75"/>
<line x1="325.70" y1="132.08" x2="361.50" y2="132.08" stroke="#0A4C80" stroke-width="0.4" opacity="0.4"/>
<line x1="325.70" y1="134.46" x2="361.50" y2="134.46" stroke="#0A4C80" stroke-width="0.45" opacity="0.75"/>
<line x1="325.70" y1="136.84" x2="361.50" y2="136.84" stroke="#0A4C80" stroke-width="0.4" opacity="0.4"/>
<line x1="325.70" y1="139.22" x2="361.50" y2="139.22" stroke="#0A4C80" stroke-width="0.45" opacity="0.75"/>
<line x1="325.70" y1="141.60" x2="361.50" y2="141.60" stroke="#0A4C80" stroke-width="0.4" opacity="0.4"/>
<line x1="325.70" y1="143.98" x2="361.50" y2="143.98" stroke="#0A4C80" stroke-width="0.45" opacity="0.75"/>
<line x1="325.70" y1="146.36" x2="361.50" y2="146.36" stroke="#0A4C80" stroke-width="0.4" opacity="0.4"/>
<line x1="325.70" y1="148.74" x2="361.50" y2="148.74" stroke="#0A4C80" stroke-width="0.45" opacity="0.75"/>
<line x1="325.70" y1="151.12" x2="361.50" y2="151.12" stroke="#0A4C80" stroke-width="0.4" opacity="0.4"/>
<line x1="325.70" y1="153.50" x2="361.50" y2="153.50" stroke="#8C4040" stroke-width="0.45" opacity="0.75"/>
<line x1="325.70" y1="155.88" x2="361.50" y2="155.88" stroke="#8C4040" stroke-width="0.4" opacity="0.4"/>
<line x1="325.70" y1="158.26" x2="361.50" y2="158.26" stroke="#8C4040" stroke-width="0.45" opacity="0.75"/>
<line x1="325.70" y1="160.64" x2="361.50" y2="160.64" stroke="#8C4040" stroke-width="0.4" opacity="0.4"/>
<line x1="325.70" y1="163.02" x2="361.50" y2="163.02" stroke="#8C4040" stroke-width="0.45" opacity="0.75"/>
<line x1="325.70" y1="165.40" x2="361.50" y2="165.40" stroke="#8C4040" stroke-width="0.4" opacity="0.4"/>
<line x1="325.70" y1="167.78" x2="361.50" y2="167.78" stroke="#8C4040" stroke-width="0.45" opacity="0.75"/>
<line x1="325.70" y1="170.16" x2="361.50" y2="170.16" stroke="#8C4040" stroke-width="0.4" opacity="0.4"/>
<line x1="325.70" y1="172.54" x2="361.50" y2="172.54" stroke="#8C4040" stroke-width="0.45" opacity="0.75"/>
<line x1="325.70" y1="174.92" x2="361.50" y2="174.92" stroke="#8C4040" stroke-width="0.4" opacity="0.4"/>
<line x1="325.70" y1="177.30" x2="361.50" y2="177.30" stroke="#8C4040" stroke-width="0.45" opacity="0.75"/>
<line x1="325.70" y1="179.68" x2="361.50" y2="179.68" stroke="#8C4040" stroke-width="0.4" opacity="0.4"/>
<line x1="325.70" y1="182.06" x2="361.50" y2="182.06" stroke="#8C4040" stroke-width="0.45" opacity="0.75"/>
<line x1="325.70" y1="184.44" x2="361.50" y2="184.44" stroke="#8C4040" stroke-width="0.4" opacity="0.4"/>
<line x1="325.70" y1="186.82" x2="361.50" y2="186.82" stroke="#8C4040" stroke-width="0.45" opacity="0.75"/>
<line x1="325.70" y1="189.20" x2="361.50" y2="189.20" stroke="#8C4040" stroke-width="0.4" opacity="0.4"/>
<line x1="325.70" y1="191.58" x2="361.50" y2="191.58" stroke="#777" stroke-width="0.45" opacity="0.75"/>
<line x1="325.70" y1="193.96" x2="361.50" y2="193.96" stroke="#777" stroke-width="0.4" opacity="0.4"/>
<line x1="325.70" y1="196.34" x2="361.50" y2="196.34" stroke="#777" stroke-width="0.45" opacity="0.75"/>
<line x1="325.70" y1="198.72" x2="361.50" y2="198.72" stroke="#777" stroke-width="0.4" opacity="0.4"/>
<line x1="325.70" y1="201.10" x2="361.50" y2="201.10" stroke="#0A4C80" stroke-width="0.45" opacity="0.75"/>
<line x1="325.70" y1="203.48" x2="361.50" y2="203.48" stroke="#0A4C80" stroke-width="0.4" opacity="0.4"/>
<line x1="325.70" y1="205.86" x2="361.50" y2="205.86" stroke="#0A4C80" stroke-width="0.45" opacity="0.75"/>
<line x1="325.70" y1="208.24" x2="361.50" y2="208.24" stroke="#0A4C80" stroke-width="0.4" opacity="0.4"/>
<line x1="325.70" y1="210.62" x2="361.50" y2="210.62" stroke="#0A4C80" stroke-width="0.45" opacity="0.75"/>
<line x1="325.70" y1="213.00" x2="361.50" y2="213.00" stroke="#0A4C80" stroke-width="0.4" opacity="0.4"/>
<line x1="325.70" y1="215.38" x2="361.50" y2="215.38" stroke="#0A4C80" stroke-width="0.45" opacity="0.75"/>
<line x1="325.70" y1="217.76" x2="361.50" y2="217.76" stroke="#0A4C80" stroke-width="0.4" opacity="0.4"/>
<line x1="325.70" y1="220.14" x2="361.50" y2="220.14" stroke="#777" stroke-width="0.45" opacity="0.75"/>
<line x1="325.70" y1="222.52" x2="361.50" y2="222.52" stroke="#777" stroke-width="0.4" opacity="0.4"/>
<line x1="325.70" y1="224.90" x2="361.50" y2="224.90" stroke="#777" stroke-width="0.45" opacity="0.75"/>
<line x1="325.70" y1="227.28" x2="361.50" y2="227.28" stroke="#777" stroke-width="0.4" opacity="0.4"/>
<line x1="325.70" y1="229.66" x2="361.50" y2="229.66" stroke="#777" stroke-width="0.45" opacity="0.75"/>
<line x1="325.70" y1="232.04" x2="361.50" y2="232.04" stroke="#777" stroke-width="0.4" opacity="0.4"/>
<line x1="325.70" y1="234.42" x2="361.50" y2="234.42" stroke="#777" stroke-width="0.45" opacity="0.75"/>
<line x1="325.70" y1="236.60" x2="361.50" y2="236.60" stroke="#777" stroke-width="0.6" stroke-dasharray="1.6 1.4" opacity="0.8"/>
<line x1="352.19" y1="91.62" x2="352.19" y2="96.38" stroke="#0A4C80" stroke-width="0.5" opacity="0.6"/>
<line x1="352.19" y1="96.38" x2="352.19" y2="101.14" stroke="#0A4C80" stroke-width="0.5" opacity="0.6"/>
<line x1="347.90" y1="101.14" x2="347.90" y2="105.90" stroke="#0A4C80" stroke-width="0.5" opacity="0.6"/>
<line x1="350.76" y1="105.90" x2="350.76" y2="110.66" stroke="#0A4C80" stroke-width="0.5" opacity="0.6"/>
<line x1="351.48" y1="110.66" x2="351.48" y2="115.42" stroke="#0A4C80" stroke-width="0.5" opacity="0.6"/>
<line x1="352.19" y1="115.42" x2="352.19" y2="120.18" stroke="#0A4C80" stroke-width="0.5" opacity="0.6"/>
<line x1="352.91" y1="120.18" x2="352.91" y2="124.94" stroke="#0A4C80" stroke-width="0.5" opacity="0.6"/>
<line x1="353.27" y1="124.94" x2="353.27" y2="129.70" stroke="#0A4C80" stroke-width="0.5" opacity="0.6"/>
<line x1="353.62" y1="129.70" x2="353.62" y2="134.46" stroke="#0A4C80" stroke-width="0.5" opacity="0.6"/>
<line x1="353.98" y1="134.46" x2="353.98" y2="139.22" stroke="#0A4C80" stroke-width="0.5" opacity="0.6"/>
<line x1="355.06" y1="139.22" x2="355.06" y2="143.98" stroke="#0A4C80" stroke-width="0.5" opacity="0.6"/>
<line x1="355.77" y1="143.98" x2="355.77" y2="148.74" stroke="#0A4C80" stroke-width="0.5" opacity="0.6"/>
<line x1="354.34" y1="148.74" x2="354.34" y2="153.50" stroke="#0A4C80" stroke-width="0.5" opacity="0.6"/>
<line x1="351.83" y1="153.50" x2="351.83" y2="158.26" stroke="#8C4040" stroke-width="0.5" opacity="0.6"/>
<line x1="349.33" y1="158.26" x2="349.33" y2="163.02" stroke="#8C4040" stroke-width="0.5" opacity="0.6"/>
<line x1="347.90" y1="163.02" x2="347.90" y2="167.78" stroke="#8C4040" stroke-width="0.5" opacity="0.6"/>
<line x1="346.46" y1="167.78" x2="346.46" y2="172.54" stroke="#8C4040" stroke-width="0.5" opacity="0.6"/>
<line x1="347.18" y1="172.54" x2="347.18" y2="177.30" stroke="#8C4040" stroke-width="0.5" opacity="0.6"/>
<line x1="347.18" y1="177.30" x2="347.18" y2="182.06" stroke="#8C4040" stroke-width="0.5" opacity="0.6"/>
<line x1="347.18" y1="182.06" x2="347.18" y2="186.82" stroke="#8C4040" stroke-width="0.5" opacity="0.6"/>
<line x1="346.46" y1="186.82" x2="346.46" y2="191.58" stroke="#8C4040" stroke-width="0.5" opacity="0.6"/>
<line x1="342.88" y1="191.58" x2="342.88" y2="196.34" stroke="#777" stroke-width="0.5" opacity="0.6"/>
<line x1="344.32" y1="196.34" x2="344.32" y2="201.10" stroke="#777" stroke-width="0.5" opacity="0.6"/>
<line x1="343.60" y1="201.10" x2="343.60" y2="205.86" stroke="#0A4C80" stroke-width="0.5" opacity="0.6"/>
<line x1="343.60" y1="205.86" x2="343.60" y2="210.62" stroke="#0A4C80" stroke-width="0.5" opacity="0.6"/>
<line x1="342.17" y1="210.62" x2="342.17" y2="215.38" stroke="#0A4C80" stroke-width="0.5" opacity="0.6"/>
<line x1="341.81" y1="215.38" x2="341.81" y2="220.14" stroke="#0A4C80" stroke-width="0.5" opacity="0.6"/>
<line x1="341.09" y1="220.14" x2="341.09" y2="224.90" stroke="#777" stroke-width="0.5" opacity="0.6"/>
<line x1="340.74" y1="224.90" x2="340.74" y2="229.66" stroke="#777" stroke-width="0.5" opacity="0.6"/>
<line x1="338.59" y1="229.66" x2="338.59" y2="234.42" stroke="#777" stroke-width="0.5" opacity="0.6"/>
<rect x="325.70" y="88.40" width="35.80" height="148.70" fill="none" stroke="#4a4a4a" stroke-width="0.45"/>
<line x1="325.70" y1="236.10" x2="325.70" y2="237.10" stroke="#222" stroke-width="0.4" />
<text x="325.70" y="242.00" font-size="3.7" text-anchor="middle" font-weight="bold" font-style="normal" fill="#000" font-family="Liberation Serif, serif" >0.0</text>
<line x1="343.60" y1="236.10" x2="343.60" y2="237.10" stroke="#222" stroke-width="0.4" />
<text x="343.60" y="242.00" font-size="3.7" text-anchor="middle" font-weight="bold" font-style="normal" fill="#000" font-family="Liberation Serif, serif" >0.5</text>
<line x1="361.50" y1="236.10" x2="361.50" y2="237.10" stroke="#222" stroke-width="0.4" />
<text x="361.50" y="242.00" font-size="3.7" text-anchor="middle" font-weight="bold" font-style="normal" fill="#000" font-family="Liberation Serif, serif" >1.0</text>
<line x1="325.70" y1="237.10" x2="326.60" y2="237.10" stroke="#222" stroke-width="0.4" />
<line x1="325.70" y1="222.23" x2="326.60" y2="222.23" stroke="#222" stroke-width="0.4" />
<line x1="325.70" y1="207.36" x2="326.60" y2="207.36" stroke="#222" stroke-width="0.4" />
<line x1="325.70" y1="192.49" x2="326.60" y2="192.49" stroke="#222" stroke-width="0.4" />
<line x1="325.70" y1="177.62" x2="326.60" y2="177.62" stroke="#222" stroke-width="0.4" />
<line x1="325.70" y1="162.75" x2="326.60" y2="162.75" stroke="#222" stroke-width="0.4" />
<line x1="325.70" y1="147.88" x2="326.60" y2="147.88" stroke="#222" stroke-width="0.4" />
<line x1="325.70" y1="133.01" x2="326.60" y2="133.01" stroke="#222" stroke-width="0.4" />
<line x1="325.70" y1="118.14" x2="326.60" y2="118.14" stroke="#222" stroke-width="0.4" />
<line x1="325.70" y1="103.27" x2="326.60" y2="103.27" stroke="#222" stroke-width="0.4" />
<line x1="325.70" y1="88.40" x2="326.60" y2="88.40" stroke="#222" stroke-width="0.4" />
<text x="343.60" y="246.00" font-size="4.4" text-anchor="middle" font-weight="bold" font-style="italic" fill="#000" font-family="Liberation Serif, serif" >w<tspan font-size="2.8" dy="0.8">y</tspan></text>
<rect x="284.60" y="78.60" width="5.00" height="2.40" fill="#F08482" />
<text x="290.80" y="80.85" font-size="3.27" text-anchor="start" font-weight="bold" font-style="normal" fill="#000" font-family="Liberation Serif, serif" >Strong correlation II</text>
<rect x="284.60" y="81.50" width="5.00" height="2.40" fill="#1AA0E3" />
<text x="290.80" y="83.75" font-size="3.27" text-anchor="start" font-weight="bold" font-style="normal" fill="#000" font-family="Liberation Serif, serif" >Weak correlation I-2</text>
<rect x="284.60" y="84.40" width="5.00" height="2.40" fill="#D8D6D6" />
<text x="290.80" y="86.65" font-size="3.27" text-anchor="start" font-weight="bold" font-style="normal" fill="#000" font-family="Liberation Serif, serif" >Weak correlation II</text>
<rect x="327.00" y="79.30" width="5.00" height="2.60" fill="#E4E4E4" stroke="#999" stroke-width="0.3"/>
<text x="333.40" y="81.70" font-size="3.7" text-anchor="start" font-weight="bold" font-style="italic" fill="#000" font-family="Liberation Serif, serif" >f<tspan font-size="2.5" dy="0.7">x,y,D</tspan><tspan dy="-0.7"> = 1.88 Hz ≈ f</tspan><tspan font-size="2.5" dy="0.7">ex</tspan></text>
<rect x="327.00" y="84.40" width="5.00" height="2.60" fill="#E4E4E4" stroke="#999" stroke-width="0.3"/>
<text x="333.40" y="86.80" font-size="3.7" text-anchor="start" font-weight="bold" font-style="italic" fill="#000" font-family="Liberation Serif, serif" >f<tspan font-size="2.5" dy="0.7">x,y,D</tspan><tspan dy="-0.7"> = 3.59 Hz</tspan></text>
<rect x="367.40" y="88.40" width="32.30" height="148.70" fill="#FBC994" />
<rect x="367.40" y="191.58" width="32.30" height="9.52" fill="#A3DA9E" />
<line x1="367.40" y1="236.10" x2="367.40" y2="237.10" stroke="#222" stroke-width="0.4" />
<text x="367.40" y="242.00" font-size="3.7" text-anchor="middle" font-weight="bold" font-style="normal" fill="#000" font-family="Liberation Serif, serif" >1</text>
<line x1="378.17" y1="236.10" x2="378.17" y2="237.10" stroke="#222" stroke-width="0.4" />
<text x="378.17" y="242.00" font-size="3.7" text-anchor="middle" font-weight="bold" font-style="normal" fill="#000" font-family="Liberation Serif, serif" >2</text>
<line x1="388.93" y1="236.10" x2="388.93" y2="237.10" stroke="#222" stroke-width="0.4" />
<text x="388.93" y="242.00" font-size="3.7" text-anchor="middle" font-weight="bold" font-style="normal" fill="#000" font-family="Liberation Serif, serif" >3</text>
<line x1="399.70" y1="236.10" x2="399.70" y2="237.10" stroke="#222" stroke-width="0.4" />
<text x="399.70" y="242.00" font-size="3.7" text-anchor="middle" font-weight="bold" font-style="normal" fill="#000" font-family="Liberation Serif, serif" >4</text>
<line x1="367.40" y1="237.10" x2="368.30" y2="237.10" stroke="#222" stroke-width="0.4" />
<line x1="398.80" y1="237.10" x2="399.70" y2="237.10" stroke="#222" stroke-width="0.4" />
<line x1="367.40" y1="222.23" x2="368.30" y2="222.23" stroke="#222" stroke-width="0.4" />
<line x1="398.80" y1="222.23" x2="399.70" y2="222.23" stroke="#222" stroke-width="0.4" />
<line x1="367.40" y1="207.36" x2="368.30" y2="207.36" stroke="#222" stroke-width="0.4" />
<line x1="398.80" y1="207.36" x2="399.70" y2="207.36" stroke="#222" stroke-width="0.4" />
<line x1="367.40" y1="192.49" x2="368.30" y2="192.49" stroke="#222" stroke-width="0.4" />
<line x1="398.80" y1="192.49" x2="399.70" y2="192.49" stroke="#222" stroke-width="0.4" />
<line x1="367.40" y1="177.62" x2="368.30" y2="177.62" stroke="#222" stroke-width="0.4" />
<line x1="398.80" y1="177.62" x2="399.70" y2="177.62" stroke="#222" stroke-width="0.4" />
<line x1="367.40" y1="162.75" x2="368.30" y2="162.75" stroke="#222" stroke-width="0.4" />
<line x1="398.80" y1="162.75" x2="399.70" y2="162.75" stroke="#222" stroke-width="0.4" />
<line x1="367.40" y1="147.88" x2="368.30" y2="147.88" stroke="#222" stroke-width="0.4" />
<line x1="398.80" y1="147.88" x2="399.70" y2="147.88" stroke="#222" stroke-width="0.4" />
<line x1="367.40" y1="133.01" x2="368.30" y2="133.01" stroke="#222" stroke-width="0.4" />
<line x1="398.80" y1="133.01" x2="399.70" y2="133.01" stroke="#222" stroke-width="0.4" />
<line x1="367.40" y1="118.14" x2="368.30" y2="118.14" stroke="#222" stroke-width="0.4" />
<line x1="398.80" y1="118.14" x2="399.70" y2="118.14" stroke="#222" stroke-width="0.4" />
<line x1="367.40" y1="103.27" x2="368.30" y2="103.27" stroke="#222" stroke-width="0.4" />
<line x1="398.80" y1="103.27" x2="399.70" y2="103.27" stroke="#222" stroke-width="0.4" />
<line x1="367.40" y1="88.40" x2="368.30" y2="88.40" stroke="#222" stroke-width="0.4" />
<line x1="398.80" y1="88.40" x2="399.70" y2="88.40" stroke="#222" stroke-width="0.4" />
<text x="383.55" y="246.30" font-size="4.5" text-anchor="middle" font-weight="bold" font-style="italic" fill="#000" font-family="Liberation Serif, serif" >f (Hz)</text>
<rect x="373.80" y="91.60" width="4.6" height="4.8" fill="#F0E090" opacity="0.6"/>
<rect x="374.40" y="92.30" width="3.4" height="3.4" rx="0.8" fill="#1818C8"/>
<rect x="375.35" y="93.45" width="1.5" height="1.1" fill="#0C7A30"/>
<rect x="373.80" y="96.36" width="4.6" height="4.8" fill="#F0E090" opacity="0.6"/>
<rect x="374.40" y="97.06" width="3.4" height="3.4" rx="0.8" fill="#1818C8"/>
<rect x="375.35" y="98.21" width="1.5" height="1.1" fill="#0C7A30"/>
<rect x="373.80" y="101.12" width="4.6" height="4.8" fill="#F0E090" opacity="0.6"/>
<rect x="374.40" y="101.82" width="3.4" height="3.4" rx="0.8" fill="#1818C8"/>
<rect x="375.35" y="102.97" width="1.5" height="1.1" fill="#0C7A30"/>
<rect x="373.80" y="105.88" width="4.6" height="4.8" fill="#F0E090" opacity="0.6"/>
<rect x="374.40" y="106.58" width="3.4" height="3.4" rx="0.8" fill="#1818C8"/>
<rect x="375.35" y="107.73" width="1.5" height="1.1" fill="#0C7A30"/>
<rect x="373.80" y="110.64" width="4.6" height="4.8" fill="#F0E090" opacity="0.6"/>
<rect x="374.40" y="111.34" width="3.4" height="3.4" rx="0.8" fill="#1818C8"/>
<rect x="375.35" y="112.49" width="1.5" height="1.1" fill="#0C7A30"/>
<rect x="373.80" y="115.40" width="4.6" height="4.8" fill="#F0E090" opacity="0.6"/>
<rect x="374.40" y="116.10" width="3.4" height="3.4" rx="0.8" fill="#1818C8"/>
<rect x="375.35" y="117.25" width="1.5" height="1.1" fill="#0C7A30"/>
<rect x="373.80" y="120.16" width="4.6" height="4.8" fill="#F0E090" opacity="0.6"/>
<rect x="374.40" y="120.86" width="3.4" height="3.4" rx="0.8" fill="#1818C8"/>
<rect x="375.35" y="122.01" width="1.5" height="1.1" fill="#0C7A30"/>
<rect x="373.80" y="124.92" width="4.6" height="4.8" fill="#F0E090" opacity="0.6"/>
<rect x="374.40" y="125.62" width="3.4" height="3.4" rx="0.8" fill="#1818C8"/>
<rect x="375.35" y="126.77" width="1.5" height="1.1" fill="#0C7A30"/>
<rect x="373.80" y="129.68" width="4.6" height="4.8" fill="#F0E090" opacity="0.6"/>
<rect x="374.40" y="130.38" width="3.4" height="3.4" rx="0.8" fill="#1818C8"/>
<rect x="375.35" y="131.53" width="1.5" height="1.1" fill="#0C7A30"/>
<rect x="373.80" y="134.44" width="4.6" height="4.8" fill="#F0E090" opacity="0.6"/>
<rect x="374.40" y="135.14" width="3.4" height="3.4" rx="0.8" fill="#1818C8"/>
<rect x="375.35" y="136.29" width="1.5" height="1.1" fill="#0C7A30"/>
<rect x="373.80" y="139.20" width="4.6" height="4.8" fill="#F0E090" opacity="0.6"/>
<rect x="374.40" y="139.90" width="3.4" height="3.4" rx="0.8" fill="#1818C8"/>
<rect x="375.35" y="141.05" width="1.5" height="1.1" fill="#0C7A30"/>
<rect x="373.80" y="143.96" width="4.6" height="4.8" fill="#F0E090" opacity="0.6"/>
<rect x="374.40" y="144.66" width="3.4" height="3.4" rx="0.8" fill="#1818C8"/>
<rect x="375.35" y="145.81" width="1.5" height="1.1" fill="#0C7A30"/>
<rect x="373.80" y="148.72" width="4.6" height="4.8" fill="#F0E090" opacity="0.6"/>
<rect x="374.40" y="149.42" width="3.4" height="3.4" rx="0.8" fill="#1818C8"/>
<rect x="375.35" y="150.57" width="1.5" height="1.1" fill="#0C7A30"/>
<rect x="373.80" y="153.48" width="4.6" height="4.8" fill="#F0E090" opacity="0.6"/>
<rect x="374.40" y="154.18" width="3.4" height="3.4" rx="0.8" fill="#1818C8"/>
<rect x="375.35" y="155.33" width="1.5" height="1.1" fill="#0C7A30"/>
<rect x="373.80" y="158.24" width="4.6" height="4.8" fill="#F0E090" opacity="0.6"/>
<rect x="374.40" y="158.94" width="3.4" height="3.4" rx="0.8" fill="#1818C8"/>
<rect x="375.35" y="160.09" width="1.5" height="1.1" fill="#0C7A30"/>
<rect x="373.80" y="163.00" width="4.6" height="4.8" fill="#F0E090" opacity="0.6"/>
<rect x="374.40" y="163.70" width="3.4" height="3.4" rx="0.8" fill="#1818C8"/>
<rect x="375.35" y="164.85" width="1.5" height="1.1" fill="#0C7A30"/>
<rect x="373.80" y="167.76" width="4.6" height="4.8" fill="#F0E090" opacity="0.6"/>
<rect x="374.40" y="168.46" width="3.4" height="3.4" rx="0.8" fill="#1818C8"/>
<rect x="375.35" y="169.61" width="1.5" height="1.1" fill="#0C7A30"/>
<rect x="373.80" y="172.52" width="4.6" height="4.8" fill="#F0E090" opacity="0.6"/>
<rect x="374.40" y="173.22" width="3.4" height="3.4" rx="0.8" fill="#1818C8"/>
<rect x="375.35" y="174.37" width="1.5" height="1.1" fill="#0C7A30"/>
<rect x="373.80" y="177.28" width="4.6" height="4.8" fill="#F0E090" opacity="0.6"/>
<rect x="374.40" y="177.98" width="3.4" height="3.4" rx="0.8" fill="#1818C8"/>
<rect x="375.35" y="179.13" width="1.5" height="1.1" fill="#0C7A30"/>
<rect x="373.80" y="182.04" width="4.6" height="4.8" fill="#F0E090" opacity="0.6"/>
<rect x="374.40" y="182.74" width="3.4" height="3.4" rx="0.8" fill="#1818C8"/>
<rect x="375.35" y="183.89" width="1.5" height="1.1" fill="#0C7A30"/>
<rect x="373.80" y="186.80" width="4.6" height="4.8" fill="#F0E090" opacity="0.6"/>
<rect x="374.40" y="187.50" width="3.4" height="3.4" rx="0.8" fill="#1818C8"/>
<rect x="375.35" y="188.65" width="1.5" height="1.1" fill="#0C7A30"/>
<rect x="374.65" y="192.41" width="3.1" height="3.1" fill="#B4E4A4" stroke="#0A6E2A" stroke-width="0.7"/>
<path d="M374.70 192.46L377.70 195.46M377.70 192.46L374.70 195.46" stroke="#07601F" stroke-width="1.05" fill="none"/>
<circle cx="395.40" cy="193.96" r="1.5" fill="#C8ECC0" stroke="#2020E4" stroke-width="1.05"/>
<rect x="374.65" y="197.17" width="3.1" height="3.1" fill="#B4E4A4" stroke="#0A6E2A" stroke-width="0.7"/>
<path d="M374.70 197.22L377.70 200.22M377.70 197.22L374.70 200.22" stroke="#07601F" stroke-width="1.05" fill="none"/>
<circle cx="395.40" cy="198.72" r="1.5" fill="#C8ECC0" stroke="#2020E4" stroke-width="1.05"/>
<rect x="373.80" y="201.08" width="4.6" height="4.8" fill="#F0E090" opacity="0.6"/>
<rect x="374.40" y="201.78" width="3.4" height="3.4" rx="0.8" fill="#1818C8"/>
<rect x="375.35" y="202.93" width="1.5" height="1.1" fill="#0C7A30"/>
<rect x="373.80" y="205.84" width="4.6" height="4.8" fill="#F0E090" opacity="0.6"/>
<rect x="374.40" y="206.54" width="3.4" height="3.4" rx="0.8" fill="#1818C8"/>
<rect x="375.35" y="207.69" width="1.5" height="1.1" fill="#0C7A30"/>
<rect x="373.80" y="210.60" width="4.6" height="4.8" fill="#F0E090" opacity="0.6"/>
<rect x="374.40" y="211.30" width="3.4" height="3.4" rx="0.8" fill="#1818C8"/>
<rect x="375.35" y="212.45" width="1.5" height="1.1" fill="#0C7A30"/>
<rect x="373.80" y="215.36" width="4.6" height="4.8" fill="#F0E090" opacity="0.6"/>
<rect x="374.40" y="216.06" width="3.4" height="3.4" rx="0.8" fill="#1818C8"/>
<rect x="375.35" y="217.21" width="1.5" height="1.1" fill="#0C7A30"/>
<rect x="373.80" y="220.12" width="4.6" height="4.8" fill="#F0E090" opacity="0.6"/>
<rect x="374.40" y="220.82" width="3.4" height="3.4" rx="0.8" fill="#1818C8"/>
<rect x="375.35" y="221.97" width="1.5" height="1.1" fill="#0C7A30"/>
<rect x="373.80" y="224.88" width="4.6" height="4.8" fill="#F0E090" opacity="0.6"/>
<rect x="374.40" y="225.58" width="3.4" height="3.4" rx="0.8" fill="#1818C8"/>
<rect x="375.35" y="226.73" width="1.5" height="1.1" fill="#0C7A30"/>
<rect x="373.80" y="229.64" width="4.6" height="4.8" fill="#F0E090" opacity="0.6"/>
<rect x="374.40" y="230.34" width="3.4" height="3.4" rx="0.8" fill="#1818C8"/>
<rect x="375.35" y="231.49" width="1.5" height="1.1" fill="#0C7A30"/>
<rect x="367.40" y="88.40" width="32.30" height="148.70" fill="none" stroke="#5a5a4a" stroke-width="0.5"/>
<rect x="404.90" y="88.40" width="32.40" height="148.70" fill="#FBC994" />
<rect x="404.90" y="220.14" width="32.40" height="16.96" fill="#A3DA9E" />
<line x1="404.90" y1="236.10" x2="404.90" y2="237.10" stroke="#222" stroke-width="0.4" />
<text x="404.90" y="242.00" font-size="3.7" text-anchor="middle" font-weight="bold" font-style="normal" fill="#000" font-family="Liberation Serif, serif" >1</text>
<line x1="415.70" y1="236.10" x2="415.70" y2="237.10" stroke="#222" stroke-width="0.4" />
<text x="415.70" y="242.00" font-size="3.7" text-anchor="middle" font-weight="bold" font-style="normal" fill="#000" font-family="Liberation Serif, serif" >2</text>
<line x1="426.50" y1="236.10" x2="426.50" y2="237.10" stroke="#222" stroke-width="0.4" />
<text x="426.50" y="242.00" font-size="3.7" text-anchor="middle" font-weight="bold" font-style="normal" fill="#000" font-family="Liberation Serif, serif" >3</text>
<line x1="437.30" y1="236.10" x2="437.30" y2="237.10" stroke="#222" stroke-width="0.4" />
<text x="437.30" y="242.00" font-size="3.7" text-anchor="middle" font-weight="bold" font-style="normal" fill="#000" font-family="Liberation Serif, serif" >4</text>
<line x1="404.90" y1="237.10" x2="405.80" y2="237.10" stroke="#222" stroke-width="0.4" />
<line x1="436.40" y1="237.10" x2="437.30" y2="237.10" stroke="#222" stroke-width="0.4" />
<line x1="404.90" y1="222.23" x2="405.80" y2="222.23" stroke="#222" stroke-width="0.4" />
<line x1="436.40" y1="222.23" x2="437.30" y2="222.23" stroke="#222" stroke-width="0.4" />
<line x1="404.90" y1="207.36" x2="405.80" y2="207.36" stroke="#222" stroke-width="0.4" />
<line x1="436.40" y1="207.36" x2="437.30" y2="207.36" stroke="#222" stroke-width="0.4" />
<line x1="404.90" y1="192.49" x2="405.80" y2="192.49" stroke="#222" stroke-width="0.4" />
<line x1="436.40" y1="192.49" x2="437.30" y2="192.49" stroke="#222" stroke-width="0.4" />
<line x1="404.90" y1="177.62" x2="405.80" y2="177.62" stroke="#222" stroke-width="0.4" />
<line x1="436.40" y1="177.62" x2="437.30" y2="177.62" stroke="#222" stroke-width="0.4" />
<line x1="404.90" y1="162.75" x2="405.80" y2="162.75" stroke="#222" stroke-width="0.4" />
<line x1="436.40" y1="162.75" x2="437.30" y2="162.75" stroke="#222" stroke-width="0.4" />
<line x1="404.90" y1="147.88" x2="405.80" y2="147.88" stroke="#222" stroke-width="0.4" />
<line x1="436.40" y1="147.88" x2="437.30" y2="147.88" stroke="#222" stroke-width="0.4" />
<line x1="404.90" y1="133.01" x2="405.80" y2="133.01" stroke="#222" stroke-width="0.4" />
<line x1="436.40" y1="133.01" x2="437.30" y2="133.01" stroke="#222" stroke-width="0.4" />
<line x1="404.90" y1="118.14" x2="405.80" y2="118.14" stroke="#222" stroke-width="0.4" />
<line x1="436.40" y1="118.14" x2="437.30" y2="118.14" stroke="#222" stroke-width="0.4" />
<line x1="404.90" y1="103.27" x2="405.80" y2="103.27" stroke="#222" stroke-width="0.4" />
<line x1="436.40" y1="103.27" x2="437.30" y2="103.27" stroke="#222" stroke-width="0.4" />
<line x1="404.90" y1="88.40" x2="405.80" y2="88.40" stroke="#222" stroke-width="0.4" />
<line x1="436.40" y1="88.40" x2="437.30" y2="88.40" stroke="#222" stroke-width="0.4" />
<text x="421.10" y="246.30" font-size="4.5" text-anchor="middle" font-weight="bold" font-style="italic" fill="#000" font-family="Liberation Serif, serif" >f (Hz)</text>
<circle cx="413.40" cy="94.00" r="2.15" fill="#E8D8A0" fill-opacity="0.5" stroke="#8FD48A" stroke-width="0.7"/>
<rect x="412.05" y="92.65" width="2.7" height="2.7" fill="#0A6420"/>
<rect x="412.90" y="93.50" width="1.0" height="1.0" fill="#18B040"/>
<circle cx="413.40" cy="98.76" r="2.15" fill="#E8D8A0" fill-opacity="0.5" stroke="#8FD48A" stroke-width="0.7"/>
<rect x="412.05" y="97.41" width="2.7" height="2.7" fill="#0A6420"/>
<rect x="412.90" y="98.26" width="1.0" height="1.0" fill="#18B040"/>
<circle cx="413.40" cy="103.52" r="2.15" fill="#E8D8A0" fill-opacity="0.5" stroke="#8FD48A" stroke-width="0.7"/>
<rect x="412.05" y="102.17" width="2.7" height="2.7" fill="#0A6420"/>
<rect x="412.90" y="103.02" width="1.0" height="1.0" fill="#18B040"/>
<circle cx="413.40" cy="108.28" r="2.15" fill="#E8D8A0" fill-opacity="0.5" stroke="#8FD48A" stroke-width="0.7"/>
<rect x="412.05" y="106.93" width="2.7" height="2.7" fill="#0A6420"/>
<rect x="412.90" y="107.78" width="1.0" height="1.0" fill="#18B040"/>
<circle cx="413.40" cy="113.04" r="2.15" fill="#E8D8A0" fill-opacity="0.5" stroke="#8FD48A" stroke-width="0.7"/>
<rect x="412.05" y="111.69" width="2.7" height="2.7" fill="#0A6420"/>
<rect x="412.90" y="112.54" width="1.0" height="1.0" fill="#18B040"/>
<circle cx="413.40" cy="117.80" r="2.15" fill="#E8D8A0" fill-opacity="0.5" stroke="#8FD48A" stroke-width="0.7"/>
<rect x="412.05" y="116.45" width="2.7" height="2.7" fill="#0A6420"/>
<rect x="412.90" y="117.30" width="1.0" height="1.0" fill="#18B040"/>
<circle cx="413.40" cy="122.56" r="2.15" fill="#E8D8A0" fill-opacity="0.5" stroke="#8FD48A" stroke-width="0.7"/>
<rect x="412.05" y="121.21" width="2.7" height="2.7" fill="#0A6420"/>
<rect x="412.90" y="122.06" width="1.0" height="1.0" fill="#18B040"/>
<circle cx="413.40" cy="127.32" r="2.15" fill="#E8D8A0" fill-opacity="0.5" stroke="#8FD48A" stroke-width="0.7"/>
<rect x="412.05" y="125.97" width="2.7" height="2.7" fill="#0A6420"/>
<rect x="412.90" y="126.82" width="1.0" height="1.0" fill="#18B040"/>
<circle cx="413.40" cy="132.08" r="2.15" fill="#E8D8A0" fill-opacity="0.5" stroke="#8FD48A" stroke-width="0.7"/>
<rect x="412.05" y="130.73" width="2.7" height="2.7" fill="#0A6420"/>
<rect x="412.90" y="131.58" width="1.0" height="1.0" fill="#18B040"/>
<circle cx="413.40" cy="136.84" r="2.15" fill="#E8D8A0" fill-opacity="0.5" stroke="#8FD48A" stroke-width="0.7"/>
<rect x="412.05" y="135.49" width="2.7" height="2.7" fill="#0A6420"/>
<rect x="412.90" y="136.34" width="1.0" height="1.0" fill="#18B040"/>
<circle cx="413.40" cy="141.60" r="2.15" fill="#E8D8A0" fill-opacity="0.5" stroke="#8FD48A" stroke-width="0.7"/>
<rect x="412.05" y="140.25" width="2.7" height="2.7" fill="#0A6420"/>
<rect x="412.90" y="141.10" width="1.0" height="1.0" fill="#18B040"/>
<circle cx="413.40" cy="146.36" r="2.15" fill="#E8D8A0" fill-opacity="0.5" stroke="#8FD48A" stroke-width="0.7"/>
<rect x="412.05" y="145.01" width="2.7" height="2.7" fill="#0A6420"/>
<rect x="412.90" y="145.86" width="1.0" height="1.0" fill="#18B040"/>
<circle cx="413.40" cy="151.12" r="2.15" fill="#E8D8A0" fill-opacity="0.5" stroke="#8FD48A" stroke-width="0.7"/>
<rect x="412.05" y="149.77" width="2.7" height="2.7" fill="#0A6420"/>
<rect x="412.90" y="150.62" width="1.0" height="1.0" fill="#18B040"/>
<circle cx="413.40" cy="155.88" r="2.15" fill="#E8D8A0" fill-opacity="0.5" stroke="#8FD48A" stroke-width="0.7"/>
<rect x="412.05" y="154.53" width="2.7" height="2.7" fill="#0A6420"/>
<rect x="412.90" y="155.38" width="1.0" height="1.0" fill="#18B040"/>
<circle cx="413.40" cy="160.64" r="2.15" fill="#E8D8A0" fill-opacity="0.5" stroke="#8FD48A" stroke-width="0.7"/>
<rect x="412.05" y="159.29" width="2.7" height="2.7" fill="#0A6420"/>
<rect x="412.90" y="160.14" width="1.0" height="1.0" fill="#18B040"/>
<circle cx="413.40" cy="165.40" r="2.15" fill="#E8D8A0" fill-opacity="0.5" stroke="#8FD48A" stroke-width="0.7"/>
<rect x="412.05" y="164.05" width="2.7" height="2.7" fill="#0A6420"/>
<rect x="412.90" y="164.90" width="1.0" height="1.0" fill="#18B040"/>
<circle cx="413.40" cy="170.16" r="2.15" fill="#E8D8A0" fill-opacity="0.5" stroke="#8FD48A" stroke-width="0.7"/>
<rect x="412.05" y="168.81" width="2.7" height="2.7" fill="#0A6420"/>
<rect x="412.90" y="169.66" width="1.0" height="1.0" fill="#18B040"/>
<circle cx="413.40" cy="174.92" r="2.15" fill="#E8D8A0" fill-opacity="0.5" stroke="#8FD48A" stroke-width="0.7"/>
<rect x="412.05" y="173.57" width="2.7" height="2.7" fill="#0A6420"/>
<rect x="412.90" y="174.42" width="1.0" height="1.0" fill="#18B040"/>
<circle cx="413.40" cy="179.68" r="2.15" fill="#E8D8A0" fill-opacity="0.5" stroke="#8FD48A" stroke-width="0.7"/>
<rect x="412.05" y="178.33" width="2.7" height="2.7" fill="#0A6420"/>
<rect x="412.90" y="179.18" width="1.0" height="1.0" fill="#18B040"/>
<circle cx="413.40" cy="184.44" r="2.15" fill="#E8D8A0" fill-opacity="0.5" stroke="#8FD48A" stroke-width="0.7"/>
<rect x="412.05" y="183.09" width="2.7" height="2.7" fill="#0A6420"/>
<rect x="412.90" y="183.94" width="1.0" height="1.0" fill="#18B040"/>
<circle cx="413.40" cy="189.20" r="2.15" fill="#E8D8A0" fill-opacity="0.5" stroke="#8FD48A" stroke-width="0.7"/>
<rect x="412.05" y="187.85" width="2.7" height="2.7" fill="#0A6420"/>
<rect x="412.90" y="188.70" width="1.0" height="1.0" fill="#18B040"/>
<circle cx="413.40" cy="193.96" r="2.15" fill="#E8D8A0" fill-opacity="0.5" stroke="#8FD48A" stroke-width="0.7"/>
<rect x="412.05" y="192.61" width="2.7" height="2.7" fill="#0A6420"/>
<rect x="412.90" y="193.46" width="1.0" height="1.0" fill="#18B040"/>
<circle cx="413.40" cy="198.72" r="2.15" fill="#E8D8A0" fill-opacity="0.5" stroke="#8FD48A" stroke-width="0.7"/>
<rect x="412.05" y="197.37" width="2.7" height="2.7" fill="#0A6420"/>
<rect x="412.90" y="198.22" width="1.0" height="1.0" fill="#18B040"/>
<circle cx="413.40" cy="203.48" r="2.15" fill="#E8D8A0" fill-opacity="0.5" stroke="#8FD48A" stroke-width="0.7"/>
<rect x="412.05" y="202.13" width="2.7" height="2.7" fill="#0A6420"/>
<rect x="412.90" y="202.98" width="1.0" height="1.0" fill="#18B040"/>
<circle cx="413.40" cy="208.24" r="2.15" fill="#E8D8A0" fill-opacity="0.5" stroke="#8FD48A" stroke-width="0.7"/>
<rect x="412.05" y="206.89" width="2.7" height="2.7" fill="#0A6420"/>
<rect x="412.90" y="207.74" width="1.0" height="1.0" fill="#18B040"/>
<circle cx="413.40" cy="213.00" r="2.15" fill="#E8D8A0" fill-opacity="0.5" stroke="#8FD48A" stroke-width="0.7"/>
<rect x="412.05" y="211.65" width="2.7" height="2.7" fill="#0A6420"/>
<rect x="412.90" y="212.50" width="1.0" height="1.0" fill="#18B040"/>
<circle cx="413.40" cy="217.76" r="2.15" fill="#E8D8A0" fill-opacity="0.5" stroke="#8FD48A" stroke-width="0.7"/>
<rect x="412.05" y="216.41" width="2.7" height="2.7" fill="#0A6420"/>
<rect x="412.90" y="217.26" width="1.0" height="1.0" fill="#18B040"/>
<rect x="411.85" y="220.97" width="3.1" height="3.1" fill="#B4E4A4" stroke="#0A6E2A" stroke-width="0.7"/>
<path d="M411.90 221.02L414.90 224.02M414.90 221.02L411.90 224.02" stroke="#07601F" stroke-width="1.05" fill="none"/>
<circle cx="433.00" cy="222.52" r="1.85" fill="#F01414"/><circle cx="433.40" cy="222.02" r="0.5" fill="#FF9C90"/>
<rect x="411.85" y="225.73" width="3.1" height="3.1" fill="#B4E4A4" stroke="#0A6E2A" stroke-width="0.7"/>
<path d="M411.90 225.78L414.90 228.78M414.90 225.78L411.90 228.78" stroke="#07601F" stroke-width="1.05" fill="none"/>
<circle cx="433.00" cy="227.28" r="1.85" fill="#F01414"/><circle cx="433.40" cy="226.78" r="0.5" fill="#FF9C90"/>
<rect x="411.85" y="230.49" width="3.1" height="3.1" fill="#B4E4A4" stroke="#0A6E2A" stroke-width="0.7"/>
<path d="M411.90 230.54L414.90 233.54M414.90 230.54L411.90 233.54" stroke="#07601F" stroke-width="1.05" fill="none"/>
<circle cx="433.00" cy="232.04" r="1.85" fill="#F01414"/><circle cx="433.40" cy="231.54" r="0.5" fill="#FF9C90"/>
<rect x="404.90" y="88.40" width="32.40" height="148.70" fill="none" stroke="#5a5a4a" stroke-width="0.5"/>
<line x1="436.30" y1="237.10" x2="437.30" y2="237.10" stroke="#222" stroke-width="0.4" />
<text x="438.30" y="238.65" font-size="3.6" text-anchor="start" font-weight="bold" font-style="normal" fill="#000" font-family="Liberation Serif, serif" >0.0</text>
<line x1="436.30" y1="222.23" x2="437.30" y2="222.23" stroke="#222" stroke-width="0.4" />
<text x="438.30" y="223.78" font-size="3.6" text-anchor="start" font-weight="bold" font-style="normal" fill="#000" font-family="Liberation Serif, serif" >0.1</text>
<line x1="436.30" y1="207.36" x2="437.30" y2="207.36" stroke="#222" stroke-width="0.4" />
<text x="438.30" y="208.91" font-size="3.6" text-anchor="start" font-weight="bold" font-style="normal" fill="#000" font-family="Liberation Serif, serif" >0.2</text>
<line x1="436.30" y1="192.49" x2="437.30" y2="192.49" stroke="#222" stroke-width="0.4" />
<text x="438.30" y="194.04" font-size="3.6" text-anchor="start" font-weight="bold" font-style="normal" fill="#000" font-family="Liberation Serif, serif" >0.3</text>
<line x1="436.30" y1="177.62" x2="437.30" y2="177.62" stroke="#222" stroke-width="0.4" />
<text x="438.30" y="179.17" font-size="3.6" text-anchor="start" font-weight="bold" font-style="normal" fill="#000" font-family="Liberation Serif, serif" >0.4</text>
<line x1="436.30" y1="162.75" x2="437.30" y2="162.75" stroke="#222" stroke-width="0.4" />
<text x="438.30" y="164.30" font-size="3.6" text-anchor="start" font-weight="bold" font-style="normal" fill="#000" font-family="Liberation Serif, serif" >0.5</text>
<line x1="436.30" y1="147.88" x2="437.30" y2="147.88" stroke="#222" stroke-width="0.4" />
<text x="438.30" y="149.43" font-size="3.6" text-anchor="start" font-weight="bold" font-style="normal" fill="#000" font-family="Liberation Serif, serif" >0.6</text>
<line x1="436.30" y1="133.01" x2="437.30" y2="133.01" stroke="#222" stroke-width="0.4" />
<text x="438.30" y="134.56" font-size="3.6" text-anchor="start" font-weight="bold" font-style="normal" fill="#000" font-family="Liberation Serif, serif" >0.7</text>
<line x1="436.30" y1="118.14" x2="437.30" y2="118.14" stroke="#222" stroke-width="0.4" />
<text x="438.30" y="119.69" font-size="3.6" text-anchor="start" font-weight="bold" font-style="normal" fill="#000" font-family="Liberation Serif, serif" >0.8</text>
<line x1="436.30" y1="103.27" x2="437.30" y2="103.27" stroke="#222" stroke-width="0.4" />
<text x="438.30" y="104.82" font-size="3.6" text-anchor="start" font-weight="bold" font-style="normal" fill="#000" font-family="Liberation Serif, serif" >0.9</text>
<line x1="436.30" y1="88.40" x2="437.30" y2="88.40" stroke="#222" stroke-width="0.4" />
<text x="438.30" y="89.95" font-size="3.6" text-anchor="start" font-weight="bold" font-style="normal" fill="#000" font-family="Liberation Serif, serif" >1.0</text>
<text transform="translate(447.00,162.2) rotate(-90)" font-size="3.6" font-weight="bold" font-style="italic" text-anchor="middle" font-family="Liberation Serif, serif">z/H</text>
<rect x="367.60" y="79.40" width="4.40" height="2.30" fill="#FBC994" />
<text x="373.50" y="81.70" font-size="3.42" text-anchor="start" font-weight="bold" font-style="normal" fill="#1010E0" font-family="Liberation Serif, serif" >Strong coupling</text>
<circle cx="369.40" cy="85.00" r="1.5" fill="#fff" stroke="#2020E4" stroke-width="1.05"/>
<text x="373.80" y="86.30" font-size="4.6" text-anchor="start" font-weight="bold" font-style="italic" fill="#000" font-family="Liberation Serif, serif" >f<tspan font-size="3.0" dy="0.9">ex</tspan></text>
<rect x="387.45" y="83.45" width="3.1" height="3.1" fill="#B4E4A4" stroke="#0A6E2A" stroke-width="0.7"/>
<path d="M387.50 83.50L390.50 86.50M390.50 83.50L387.50 86.50" stroke="#07601F" stroke-width="1.05" fill="none"/>
<text x="393.00" y="86.30" font-size="4.6" text-anchor="start" font-weight="bold" font-style="italic" fill="#000" font-family="Liberation Serif, serif" >f<tspan font-size="3.0" dy="0.9">xt</tspan></text>
<rect x="405.40" y="79.40" width="4.40" height="2.30" fill="#A3DA9E" />
<text x="411.30" y="81.70" font-size="3.42" text-anchor="start" font-weight="bold" font-style="normal" fill="#1010E0" font-family="Liberation Serif, serif" >Weak coupling</text>
<circle cx="407.40" cy="85.00" r="1.85" fill="#F01414"/><circle cx="407.80" cy="84.50" r="0.5" fill="#FF9C90"/>
<text x="411.60" y="86.30" font-size="4.6" text-anchor="start" font-weight="bold" font-style="italic" fill="#000" font-family="Liberation Serif, serif" >f<tspan font-size="3.0" dy="0.9">ey</tspan></text>
<rect x="425.45" y="83.45" width="3.1" height="3.1" fill="#B4E4A4" stroke="#0A6E2A" stroke-width="0.7"/>
<path d="M425.50 83.50L428.50 86.50M428.50 83.50L425.50 86.50" stroke="#07601F" stroke-width="1.05" fill="none"/>
<text x="431.00" y="86.30" font-size="4.6" text-anchor="start" font-weight="bold" font-style="italic" fill="#000" font-family="Liberation Serif, serif" >f<tspan font-size="3.0" dy="0.9">yt</tspan></text>
</svg>
</body>
</html>
